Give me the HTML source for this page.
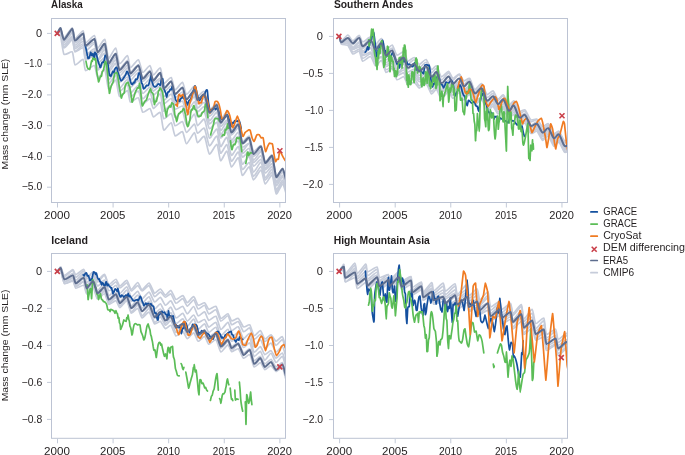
<!DOCTYPE html><html><head><meta charset="utf-8"><title>Glacier mass change</title><style>
html,body{margin:0;padding:0;background:#fff;}body{width:685px;height:455px;overflow:hidden;}
svg{display:block;font-family:"Liberation Sans",Arial,sans-serif;}
text{fill:#231f20}
.t{font-size:10.0px;font-weight:bold}
.xl{font-size:10.5px}
.yl{font-size:10.5px}
.lg{font-size:10.0px}
.ax{font-size:9.9px}
</style></head><body>
<svg width="685" height="455" viewBox="0 0 685 455">
<defs>
<clipPath id="cP1"><rect x="51.5" y="18.5" width="234" height="184"/></clipPath>
<clipPath id="cP2"><rect x="333.5" y="18.5" width="234" height="184"/></clipPath>
<clipPath id="cP3"><rect x="51.5" y="253.5" width="234" height="184.8"/></clipPath>
<clipPath id="cP4"><rect x="333.5" y="253.5" width="234" height="184.8"/></clipPath>
</defs>
<g clip-path="url(#cP1)" fill="none" stroke-linejoin="round" stroke-linecap="round">
<path d="M57.5 33.4C57.81 32.86 59.95 27.58 60.6 28.02C61.25 28.46 62.84 37.85 64 37.82C65.17 37.79 71.15 27.65 72.25 27.73C73.35 27.81 73.92 38.32 75 38.62C76.08 38.91 82.04 30.31 83.1 30.72C84.16 31.13 84.47 42.22 85.6 42.71C86.73 43.21 93.18 35.11 94.4 35.65C95.62 36.19 96.76 47.75 97.8 48.14C98.84 48.52 103.72 38.48 104.8 39.47C105.88 40.47 107.51 57.26 108.6 58.12C109.69 58.97 114.61 47.43 115.7 48C116.79 48.58 118.32 63.09 119.5 63.86C120.68 64.63 126.41 55.3 127.5 55.68C128.59 56.06 129.31 67.26 130.4 67.67C131.49 68.08 137.17 59.3 138.4 59.77C139.63 60.25 141.55 71.86 142.7 72.44C143.85 73.01 148.83 65.29 149.9 65.55C150.97 65.81 152.36 74.76 153.4 75.01C154.44 75.25 159.27 67.2 160.3 68.03C161.33 68.86 162.61 82.32 163.7 83.27C164.79 84.22 170.06 76.84 171.2 77.5C172.34 78.16 173.97 89.4 175.1 89.89C176.23 90.37 181.36 81.93 182.5 82.39C183.64 82.84 185.31 94.03 186.5 94.41C187.69 94.79 193.3 86.03 194.4 86.21C195.5 86.38 196.5 95.58 197.5 96.12C198.5 96.65 203.21 90.25 204.4 91.57C205.59 92.88 208.15 108.08 209.4 109.28C210.65 110.48 215.78 102.59 216.9 103.56C218.02 104.53 219.6 118.08 220.6 118.98C221.6 119.89 225.82 111.45 226.9 112.63C227.98 113.81 230.25 129.76 231.4 130.8C232.55 131.84 237.31 121.98 238.4 123.03C239.49 124.08 241.22 139.96 242.3 141.26C243.38 142.57 248.08 135.08 249.2 136.09C250.32 137.11 252.32 150.44 253.5 151.4C254.68 152.36 259.83 144.65 261 145.69C262.17 146.73 264.08 160.87 265.2 161.8C266.32 162.74 271.1 153.66 272.2 155.05C273.3 156.44 275.16 174.35 276.2 175.7C277.24 177.06 281.57 168.03 282.6 168.58C283.63 169.13 286.11 179.93 286.5 181.19" stroke="#c6ccda" stroke-width="1.7"/>
<path d="M57.5 33.4C57.81 32.94 59.95 28.15 60.6 28.83C61.25 29.51 62.84 40.06 64 40.21C65.17 40.36 71.15 30.17 72.25 30.33C73.35 30.49 73.92 41.42 75 41.83C76.08 42.25 82.04 34.15 83.1 34.52C84.16 34.89 84.47 44.97 85.6 45.49C86.73 46.01 93.18 39.09 94.4 39.72C95.62 40.34 96.76 51.32 97.8 51.77C98.84 52.22 103.72 43.24 104.8 44.24C105.88 45.25 107.51 60.87 108.6 61.81C109.69 62.75 114.61 52.94 115.7 53.65C116.79 54.35 118.32 68.24 119.5 68.91C120.68 69.57 126.41 59.97 127.5 60.3C128.59 60.63 129.31 71.76 130.4 72.21C131.49 72.66 137.17 64.24 138.4 64.79C139.63 65.34 141.55 77.15 142.7 77.71C143.85 78.28 148.83 70.27 149.9 70.45C150.97 70.64 152.36 79.31 153.4 79.58C154.44 79.85 159.27 72.27 160.3 73.13C161.33 73.99 162.61 87.32 163.7 88.17C164.79 89.02 170.06 81.04 171.2 81.65C172.34 82.26 173.97 93.71 175.1 94.25C176.23 94.8 181.36 86.56 182.5 87.08C183.64 87.6 185.31 99.09 186.5 99.48C187.69 99.86 193.3 90.84 194.4 90.91C195.5 90.98 196.5 99.76 197.5 100.18C198.5 100.59 203.21 93.72 204.4 95.06C205.59 96.39 208.15 112.41 209.4 113.54C210.65 114.68 215.78 105.41 216.9 106.42C218.02 107.43 219.6 122.68 220.6 123.65C221.6 124.62 225.82 115.25 226.9 116.12C227.98 116.99 230.25 131.4 231.4 132.36C232.55 133.33 237.31 124.64 238.4 125.77C239.49 126.9 241.22 142.33 242.3 143.69C243.38 145.06 248.08 138.32 249.2 139.43C250.32 140.54 252.32 154.06 253.5 154.81C254.68 155.57 259.83 146.14 261 146.97C262.17 147.8 264.08 162.06 265.2 163.14C266.32 164.22 271.1 156.31 272.2 157.78C273.3 159.25 275.16 176.7 276.2 177.87C277.24 179.04 281.57 169.02 282.6 169.5C283.63 169.98 286.11 181.37 286.5 182.68" stroke="#c6ccda" stroke-width="1.7"/>
<path d="M57.5 33.4C57.81 33.06 59.95 29.23 60.6 30.01C61.25 30.8 62.84 41.04 64 41.25C65.17 41.45 71.15 31.9 72.25 32.08C73.35 32.25 73.92 42.45 75 43C76.08 43.55 82.04 37.14 83.1 37.54C84.16 37.94 84.47 46.5 85.6 46.99C86.73 47.49 93.18 41.67 94.4 42.45C95.62 43.23 96.76 54.33 97.8 54.77C98.84 55.21 103.72 45.77 104.8 46.85C105.88 47.93 107.51 64.56 108.6 65.58C109.69 66.6 114.61 56.31 115.7 57.04C116.79 57.78 118.32 72.14 119.5 72.95C120.68 73.76 126.41 64.8 127.5 65.15C128.59 65.49 129.31 75.97 130.4 76.42C131.49 76.88 137.17 69.18 138.4 69.68C139.63 70.19 141.55 80.95 142.7 81.46C143.85 81.96 148.83 74.56 149.9 74.73C150.97 74.9 152.36 82.79 153.4 83.15C154.44 83.5 159.27 77.39 160.3 78.28C161.33 79.16 162.61 91.29 163.7 92.01C164.79 92.73 170.06 84.91 171.2 85.47C172.34 86.04 173.97 97.01 175.1 97.67C176.23 98.33 181.36 91.48 182.5 92.06C183.64 92.63 185.31 103.2 186.5 103.42C187.69 103.64 193.3 94.24 194.4 94.26C195.5 94.29 196.5 103.23 197.5 103.67C198.5 104.11 203.21 97.47 204.4 98.7C205.59 99.94 208.15 115 209.4 116.05C210.65 117.09 215.78 108.12 216.9 109.14C218.02 110.15 219.6 125.05 220.6 126.18C221.6 127.3 225.82 119.53 226.9 120.41C227.98 121.29 230.25 134.22 231.4 134.98C232.55 135.74 237.31 126.8 238.4 127.99C239.49 129.18 241.22 145.33 242.3 146.86C243.38 148.39 248.08 142.35 249.2 143.3C250.32 144.25 252.32 155.73 253.5 156.37C254.68 157 259.83 148.75 261 149.68C262.17 150.62 264.08 164.77 265.2 165.7C266.32 166.63 271.1 157.74 272.2 159C273.3 160.27 275.16 177.1 276.2 178.31C277.24 179.52 281.57 170.59 282.6 171.11C283.63 171.64 286.11 182.34 286.5 183.59" stroke="#c6ccda" stroke-width="1.7"/>
<path d="M57.5 33.4C57.81 32.99 59.95 28.37 60.6 29.28C61.25 30.19 62.84 42.16 64 42.52C65.17 42.88 71.15 32.62 72.25 32.9C73.35 33.17 73.92 44.69 75 45.27C76.08 45.85 82.04 38.17 83.1 38.71C84.16 39.25 84.47 50.12 85.6 50.67C86.73 51.21 93.18 43.32 94.4 44.18C95.62 45.03 96.76 58.66 97.8 59.2C98.84 59.73 103.72 48.52 104.8 49.54C105.88 50.56 107.51 68.39 108.6 69.42C109.69 70.44 114.61 59.07 115.7 59.75C116.79 60.43 118.32 75.4 119.5 76.2C120.68 77 126.41 67.35 127.5 67.77C128.59 68.19 129.31 79.99 130.4 80.44C131.49 80.9 137.17 71.8 138.4 72.3C139.63 72.8 141.55 84.75 142.7 85.43C143.85 86.1 148.83 78.78 149.9 79.05C150.97 79.32 152.36 88.06 153.4 88.15C154.44 88.25 159.27 79.17 160.3 80C161.33 80.83 162.61 95.53 163.7 96.43C164.79 97.32 170.06 88.28 171.2 88.95C172.34 89.61 173.97 102.47 175.1 103.07C176.23 103.67 181.36 94.49 182.5 94.97C183.64 95.45 185.31 107.72 186.5 107.87C187.69 108.02 193.3 96.44 194.4 96.46C195.5 96.49 196.5 107.49 197.5 108.1C198.5 108.72 203.21 101.4 204.4 102.65C205.59 103.89 208.15 119.63 209.4 120.59C210.65 121.56 215.78 111.28 216.9 112.27C218.02 113.26 219.6 129.45 220.6 130.49C221.6 131.52 225.82 121.64 226.9 122.62C227.98 123.6 230.25 139.29 231.4 140.27C232.55 141.24 237.31 131.35 238.4 132.38C239.49 133.4 241.22 149.34 242.3 150.47C243.38 151.61 248.08 142.75 249.2 143.71C250.32 144.68 252.32 159.34 253.5 160.13C254.68 160.92 259.83 150.81 261 151.62C262.17 152.42 264.08 167.34 265.2 168.23C266.32 169.11 271.1 159.07 272.2 160.43C273.3 161.78 275.16 180.59 276.2 181.73C277.24 182.87 281.57 171.32 282.6 171.81C283.63 172.31 286.11 185.17 286.5 186.65" stroke="#c6ccda" stroke-width="1.7"/>
<path d="M57.5 33.4C57.81 33.2 59.95 30.24 60.6 31.37C61.25 32.5 62.84 44.24 64 44.72C65.17 45.2 71.15 35.93 72.25 36.18C73.35 36.42 73.92 46.65 75 47.17C76.08 47.68 82.04 40.59 83.1 41.32C84.16 42.06 84.47 53.73 85.6 54.48C86.73 55.22 93.18 48.2 94.4 48.77C95.62 49.34 96.76 59.69 97.8 60.17C98.84 60.65 103.72 52.41 104.8 53.58C105.88 54.76 107.51 70.91 108.6 71.89C109.69 72.88 114.61 62.7 115.7 63.47C116.79 64.23 118.32 78.63 119.5 79.52C120.68 80.41 126.41 71.9 127.5 72.36C128.59 72.83 129.31 83.62 130.4 84.13C131.49 84.63 137.17 77.07 138.4 77.44C139.63 77.82 141.55 87.28 142.7 87.86C143.85 88.44 148.83 82.91 149.9 83.23C150.97 83.55 152.36 90.78 153.4 91.06C154.44 91.34 159.27 85.11 160.3 86.01C161.33 86.92 162.61 99.28 163.7 100.09C164.79 100.9 170.06 93.64 171.2 94.14C172.34 94.63 173.97 104.32 175.1 105.02C176.23 105.72 181.36 100.41 182.5 101.11C183.64 101.8 185.31 111.88 186.5 111.95C187.69 112.02 193.3 101.78 194.4 101.76C195.5 101.75 196.5 111.32 197.5 111.82C198.5 112.32 203.21 105.59 204.4 106.78C205.59 107.98 208.15 122.73 209.4 123.74C210.65 124.75 215.78 115.8 216.9 116.86C218.02 117.93 219.6 133.4 220.6 134.39C221.6 135.37 225.82 125.85 226.9 126.7C227.98 127.54 230.25 141.87 231.4 142.87C232.55 143.86 237.31 135.62 238.4 136.65C239.49 137.68 241.22 151.98 242.3 153.15C243.38 154.32 248.08 147.39 249.2 148.33C250.32 149.26 252.32 161.8 253.5 162.53C254.68 163.26 259.83 154.92 261 155.65C262.17 156.37 264.08 168.93 265.2 169.76C266.32 170.59 271.1 162.63 272.2 163.95C273.3 165.26 275.16 181.74 276.2 182.88C277.24 184.02 281.57 174.92 282.6 175.36C283.63 175.81 286.11 186.11 286.5 187.31" stroke="#c6ccda" stroke-width="1.7"/>
<path d="M57.5 33.4C57.81 33.22 59.95 30.44 60.6 31.57C61.25 32.71 62.84 44.14 64 44.74C65.17 45.34 71.15 37.21 72.25 37.6C73.35 37.99 73.92 48.02 75 48.63C76.08 49.25 82.04 43.04 83.1 43.73C84.16 44.43 84.47 54.88 85.6 55.59C86.73 56.3 93.18 50.09 94.4 50.85C95.62 51.61 96.76 62.49 97.8 63.18C98.84 63.88 103.72 56.6 104.8 57.8C105.88 59.01 107.51 74.21 108.6 75.24C109.69 76.27 114.61 67.44 115.7 68.13C116.79 68.82 118.32 81.24 119.5 82.13C120.68 83.02 126.41 76.48 127.5 77.01C128.59 77.54 129.31 87.09 130.4 87.44C131.49 87.78 137.17 79.9 138.4 80.49C139.63 81.08 141.55 92.72 142.7 93.37C143.85 94.03 148.83 86.85 149.9 87.02C150.97 87.2 152.36 94.86 153.4 95.13C154.44 95.41 159.27 88.92 160.3 89.78C161.33 90.63 162.61 102.79 163.7 103.66C164.79 104.54 170.06 97.96 171.2 98.5C172.34 99.04 173.97 108.29 175.1 109.05C176.23 109.81 181.36 105.49 182.5 106.12C183.64 106.76 185.31 115.33 186.5 115.39C187.69 115.46 193.3 106.61 194.4 106.75C195.5 106.89 196.5 116.26 197.5 116.8C198.5 117.35 203.21 111.03 204.4 112.21C205.59 113.39 208.15 127.62 209.4 128.63C210.65 129.65 215.78 121.45 216.9 122.37C218.02 123.29 219.6 136.86 220.6 137.83C221.6 138.79 225.82 131.15 226.9 132.04C227.98 132.93 230.25 145.8 231.4 146.71C232.55 147.62 237.31 140.12 238.4 141.14C239.49 142.17 241.22 155.89 242.3 156.97C243.38 158.05 248.08 151 249.2 151.91C250.32 152.83 252.32 165.35 253.5 166.09C254.68 166.84 259.83 158.68 261 159.37C262.17 160.06 264.08 172.25 265.2 172.99C266.32 173.72 271.1 165.46 272.2 166.71C273.3 167.96 275.16 184.42 276.2 185.45C277.24 186.49 281.57 176.74 282.6 177.05C283.63 177.35 286.11 187.36 286.5 188.5" stroke="#c6ccda" stroke-width="1.7"/>
<path d="M57.5 33.4C57.81 33.19 59.95 29.98 60.6 31.32C61.25 32.67 62.84 46.11 64 46.88C65.17 47.65 71.15 38.61 72.25 39.04C73.35 39.48 73.92 50.61 75 51.26C76.08 51.91 82.04 44.78 83.1 45.53C84.16 46.29 84.47 58.15 85.6 58.81C86.73 59.48 93.18 51.14 94.4 52.17C95.62 53.2 96.76 68.38 97.8 69.09C98.84 69.8 103.72 58.23 104.8 59.28C105.88 60.32 107.51 78.33 108.6 79.54C109.69 80.75 114.61 70.53 115.7 71.4C116.79 72.28 118.32 87.49 119.5 88.28C120.68 89.08 126.41 78.9 127.5 79.37C128.59 79.84 129.31 92.38 130.4 92.99C131.49 93.6 137.17 84.88 138.4 85.46C139.63 86.04 141.55 98.14 142.7 98.78C143.85 99.42 148.83 91.53 149.9 91.88C150.97 92.22 152.36 101.98 153.4 102.18C154.44 102.39 159.27 93.06 160.3 93.94C161.33 94.83 162.61 110.02 163.7 111.05C164.79 112.08 170.06 103.62 171.2 104.25C172.34 104.89 173.97 116.68 175.1 117.4C176.23 118.12 181.36 110.69 182.5 111.41C183.64 112.14 185.31 124.37 186.5 124.64C187.69 124.91 193.3 114.03 194.4 114.13C195.5 114.22 196.5 125.07 197.5 125.58C198.5 126.1 203.21 118.06 204.4 119.31C205.59 120.56 208.15 137.09 209.4 138.06C210.65 139.04 215.78 128.2 216.9 129.04C218.02 129.88 219.6 145.64 220.6 146.47C221.6 147.3 225.82 136.46 226.9 137.33C227.98 138.21 230.25 154.29 231.4 155.22C232.55 156.15 237.31 145.77 238.4 146.66C239.49 147.55 241.22 163.14 242.3 164.12C243.38 165.11 248.08 155.7 249.2 156.49C250.32 157.29 252.32 171.51 253.5 172.08C254.68 172.64 259.83 161.58 261 162.15C262.17 162.71 264.08 177.04 265.2 177.75C266.32 178.46 271.1 168.08 272.2 169.25C273.3 170.41 275.16 188.32 276.2 189.41C277.24 190.51 281.57 179.91 282.6 180.2C283.63 180.49 286.11 191.08 286.5 192.29" stroke="#c6ccda" stroke-width="1.7"/>
<path d="M57.5 33.4C57.81 33.28 59.95 30.7 60.6 32.16C61.25 33.62 62.84 47.21 64 47.99C65.17 48.76 71.15 39.53 72.25 39.91C73.35 40.3 73.92 51.04 75 51.84C76.08 52.64 82.04 47.09 83.1 47.91C84.16 48.74 84.47 59.26 85.6 60.07C86.73 60.87 93.18 54.99 94.4 55.99C95.62 56.98 96.76 69.31 97.8 70.01C98.84 70.7 103.72 61.58 104.8 62.91C105.88 64.24 107.51 82.06 108.6 83.31C109.69 84.57 114.61 74.63 115.7 75.42C116.79 76.22 118.32 90.32 119.5 91.27C120.68 92.23 126.41 84.43 127.5 85C128.59 85.56 129.31 96.29 130.4 96.91C131.49 97.52 137.17 90.47 138.4 91.17C139.63 91.88 141.55 103.22 142.7 103.97C143.85 104.73 148.83 98.24 149.9 98.69C150.97 99.14 152.36 108.08 153.4 108.46C154.44 108.84 159.27 101.46 160.3 102.48C161.33 103.49 162.61 117.53 163.7 118.64C164.79 119.75 170.06 112.86 171.2 113.57C172.34 114.28 173.97 124.93 175.1 125.74C176.23 126.55 181.36 120.97 182.5 121.65C183.64 122.32 185.31 132.2 186.5 132.45C187.69 132.69 193.3 124.01 194.4 124.09C195.5 124.17 196.5 132.82 197.5 133.25C198.5 133.68 203.21 127.13 204.4 128.38C205.59 129.64 208.15 145.03 209.4 145.8C210.65 146.57 215.78 135.33 216.9 136.06C218.02 136.8 219.6 152.27 220.6 153.14C221.6 154.01 225.82 143.97 226.9 144.78C227.98 145.58 230.25 160.45 231.4 161.18C232.55 161.91 237.31 151.25 238.4 152.07C239.49 152.89 241.22 168.31 242.3 169.35C243.38 170.39 248.08 161.8 249.2 162.49C250.32 163.19 252.32 175.91 253.5 176.32C254.68 176.73 259.83 166.21 261 166.59C262.17 166.97 264.08 179.53 265.2 180.1C266.32 180.68 271.1 171.18 272.2 172.33C273.3 173.49 275.16 190.67 276.2 191.66C277.24 192.64 281.57 182.06 282.6 182.17C283.63 182.28 286.11 191.7 286.5 192.76" stroke="#c6ccda" stroke-width="1.7"/>
<path d="M57.5 33.4C57.81 33.65 59.95 33.85 60.6 35.94C61.25 38.03 62.84 52.68 64 54.28C65.17 55.88 71.15 50.91 72.25 51.97C73.35 53.02 73.92 64.1 75 64.84C76.08 65.59 82.04 58.82 83.1 59.4C84.16 59.97 84.47 70 85.6 70.61C86.73 71.21 93.18 64.67 94.4 65.47C95.62 66.26 96.76 78.11 97.8 78.54C98.84 78.97 103.72 68.77 104.8 69.8C105.88 70.83 107.51 87.77 108.6 88.8C109.69 89.82 114.61 79.27 115.7 80.04C116.79 80.81 118.32 95.4 119.5 96.47C120.68 97.53 126.41 90.13 127.5 90.69C128.59 91.24 129.31 101.34 130.4 102.05C131.49 102.77 137.17 96.85 138.4 97.86C139.63 98.87 141.55 111.09 142.7 112.16C143.85 113.22 148.83 108.06 149.9 108.53C150.97 109.01 152.36 116.5 153.4 116.91C154.44 117.31 159.27 111.3 160.3 112.61C161.33 113.91 162.61 128.93 163.7 129.96C164.79 130.98 170.06 122.27 171.2 122.85C172.34 123.43 173.97 134.89 175.1 135.77C176.23 136.66 181.36 130.9 182.5 131.7C183.64 132.5 185.31 143.67 186.5 143.76C187.69 143.84 193.3 132.69 194.4 132.58C195.5 132.47 196.5 142.28 197.5 142.67C198.5 143.06 203.21 135.34 204.4 136.48C205.59 137.61 208.15 153.21 209.4 154C210.65 154.79 215.78 143.7 216.9 144.37C218.02 145.04 219.6 160.02 220.6 160.7C221.6 161.37 225.82 150.48 226.9 151.11C227.98 151.74 230.25 166.3 231.4 166.97C232.55 167.64 237.31 156.98 238.4 157.81C239.49 158.65 241.22 174.41 242.3 175.32C243.38 176.23 248.08 166.45 249.2 166.9C250.32 167.35 252.32 179.5 253.5 179.82C254.68 180.13 259.83 169.64 261 170.06C262.17 170.48 264.08 183.55 265.2 184.04C266.32 184.54 271.1 174.04 272.2 175.02C273.3 175.99 275.16 192.9 276.2 193.81C277.24 194.72 281.57 184.02 282.6 184.14C283.63 184.25 286.11 193.89 286.5 194.97" stroke="#c6ccda" stroke-width="1.7"/>
<path d="M85 44.5C85.14 45.07 86.12 48.87 86.4 50.22C86.68 51.57 87.61 57.26 87.8 58C87.99 58.74 88.2 57.57 88.3 57.61C88.4 57.65 88.66 58.55 88.8 58.4C88.94 58.25 89.56 56.74 89.75 56.13C89.94 55.52 90.53 52.42 90.7 52.3C90.87 52.18 91.26 54.59 91.4 54.92C91.54 55.25 91.98 55.67 92.1 55.6C92.21 55.53 92.46 54.44 92.55 54.25C92.64 54.06 92.91 53.52 93 53.7C93.09 53.88 93.4 55.7 93.5 56.08C93.6 56.46 93.91 57.4 94 57.5C94.09 57.6 94.36 57.64 94.45 57.12C94.54 56.6 94.79 52.57 94.9 52.3C95.02 52.03 95.46 54.24 95.6 54.38C95.74 54.52 96.08 53.13 96.3 53.7C96.52 54.27 97.46 58.98 97.75 60.07C98.04 61.16 98.98 63.92 99.2 64.6C99.42 65.28 99.76 66.61 99.9 66.89C100.04 67.17 100.44 67.72 100.6 67.4C100.76 67.08 101.36 64.2 101.55 63.68C101.74 63.16 102.31 62.34 102.5 62.2C102.69 62.06 103.26 62.49 103.45 62.25C103.64 62.01 104.24 60.47 104.4 59.8C104.56 59.13 104.96 55.98 105.1 55.56C105.24 55.14 105.66 55.47 105.8 55.6C105.94 55.73 106.36 56.49 106.5 56.82C106.64 57.15 107.02 57.92 107.2 58.9C107.38 59.88 108.08 64.93 108.3 66.58C108.52 68.23 109.22 74.56 109.4 75.4C109.59 76.24 110 74.92 110.15 75.01C110.3 75.1 110.73 76.43 110.9 76.3C111.08 76.17 111.7 74.2 111.9 73.71C112.1 73.22 112.71 71.52 112.9 71.4C113.09 71.28 113.66 72.74 113.85 72.54C114.04 72.34 114.63 69.86 114.8 69.4C114.97 68.94 115.4 68.16 115.55 67.96C115.7 67.76 116.15 67.39 116.3 67.4C116.45 67.41 116.9 67.63 117.05 68.08C117.2 68.53 117.6 71.16 117.8 71.9C118 72.64 118.8 74.74 119.05 75.48C119.3 76.22 120.1 78.76 120.3 79.3C120.5 79.84 120.9 80.81 121.05 80.91C121.2 81.01 121.63 80.46 121.8 80.3C121.97 80.14 122.56 79.55 122.75 79.3C122.94 79.05 123.5 78.1 123.7 77.8C123.9 77.5 124.5 76.64 124.7 76.35C124.9 76.06 125.5 75.38 125.7 74.9C125.9 74.42 126.5 71.87 126.7 71.57C126.9 71.27 127.53 71.61 127.7 71.9C127.88 72.19 128.3 74.11 128.45 74.5C128.6 74.89 129.02 75.23 129.2 75.8C129.38 76.37 130 79.43 130.2 80.18C130.4 80.93 130.98 82.86 131.2 83.3C131.42 83.74 132.16 84.64 132.4 84.54C132.64 84.44 133.38 82.48 133.6 82.3C133.82 82.12 134.4 83.04 134.6 82.74C134.8 82.44 135.4 79.6 135.6 79.3C135.8 79 136.4 79.8 136.6 79.7C136.8 79.6 137.4 78.92 137.6 78.3C137.8 77.68 138.4 74 138.6 73.46C138.8 72.92 139.41 72.65 139.6 72.9C139.79 73.15 140.36 74.99 140.55 75.98C140.74 76.97 141.31 81.97 141.5 82.8C141.69 83.63 142.3 83.73 142.5 84.32C142.7 84.91 143.3 88.3 143.5 88.7C143.7 89.1 144.3 88.48 144.5 88.33C144.7 88.18 145.3 87.49 145.5 87.2C145.7 86.91 146.3 85.58 146.5 85.43C146.7 85.28 147.3 85.7 147.5 85.7C147.7 85.7 148.3 85.84 148.5 85.45C148.7 85.06 149.33 82.43 149.5 81.8C149.67 81.17 150.06 79.72 150.2 79.12C150.34 78.52 150.75 75.73 150.9 75.8C151.05 75.87 151.5 79.07 151.65 79.77C151.8 80.47 152.22 82.2 152.4 82.8C152.58 83.4 153.2 85.34 153.4 85.73C153.6 86.12 154.18 86.61 154.4 86.7C154.62 86.79 155.4 86.74 155.65 86.64C155.9 86.54 156.66 85.97 156.9 85.7C157.15 85.43 157.86 84.05 158.1 83.91C158.34 83.77 159.08 84.17 159.3 84.3C159.52 84.43 160.1 85.69 160.3 85.24C160.5 84.79 161.13 80.2 161.3 79.8C161.47 79.4 161.86 81.3 162 81.2C162.14 81.1 162.53 78.25 162.7 78.8C162.87 79.35 163.5 85.54 163.7 86.73C163.9 87.92 164.5 90.08 164.7 90.7C164.9 91.32 165.5 92.29 165.7 92.93C165.9 93.57 166.47 97.19 166.7 97.1C166.92 97.01 167.7 92.54 167.95 92C168.2 91.46 168.97 91.97 169.2 91.7C169.42 91.43 170 89.51 170.2 89.31C170.4 89.11 171.02 89.93 171.2 89.7C171.38 89.47 171.84 87.25 172 86.98C172.16 86.71 172.62 86.44 172.8 87C172.98 87.56 173.6 91.71 173.8 92.6C174 93.49 174.62 95.21 174.8 95.9C174.98 96.59 175.4 99.03 175.55 99.52C175.7 100.01 176.11 100.56 176.3 100.8C176.5 101.04 177.26 102.1 177.5 101.95C177.74 101.8 178.48 99.36 178.7 99.3C178.92 99.24 179.5 101.43 179.7 101.38C179.9 101.33 180.52 99.11 180.7 98.8C180.88 98.49 181.3 98.52 181.45 98.28C181.6 98.04 182.05 96.44 182.2 96.4C182.35 96.36 182.8 97.66 182.95 97.86C183.1 98.06 183.52 98.27 183.7 98.4C183.88 98.53 184.5 98.89 184.7 99.13C184.9 99.37 185.5 100.48 185.7 100.8C185.89 101.12 186.46 101.96 186.65 102.36C186.84 102.76 187.38 104.96 187.6 104.8C187.82 104.64 188.6 101.29 188.85 100.79C189.1 100.29 189.88 100.08 190.1 99.8C190.32 99.52 190.9 98.5 191.1 98.01C191.3 97.52 191.9 95.52 192.1 94.9C192.3 94.28 192.9 92.55 193.1 91.86C193.3 91.17 193.95 88.54 194.1 88C194.25 87.46 194.5 86.67 194.6 86.47C194.7 86.27 194.98 85.91 195.1 86C195.22 86.09 195.66 86.91 195.8 87.4C195.94 87.89 196.33 90.1 196.5 90.9C196.67 91.7 197.3 94.65 197.5 95.44C197.7 96.23 198.3 98.29 198.5 98.8C198.7 99.31 199.3 100.5 199.5 100.5C199.7 100.5 200.3 99.05 200.5 98.8C200.7 98.55 201.3 98.15 201.5 97.96C201.7 97.77 202.3 97.07 202.5 96.9C202.7 96.73 203.3 96.47 203.5 96.27C203.7 96.07 204.31 95.36 204.5 94.9C204.69 94.44 205.26 92.19 205.45 91.69C205.64 91.19 206.26 90.08 206.4 89.9C206.54 89.72 206.76 89.82 206.85 89.88C206.94 89.94 207.2 89.91 207.3 90.5C207.4 91.09 207.74 94.61 207.85 95.74C207.96 96.87 208.27 100.74 208.4 101.8C208.53 102.86 209 105.39 209.15 106.38C209.3 107.37 209.72 111.35 209.9 111.7C210.08 112.05 210.7 110.12 210.9 109.92C211.1 109.72 211.68 109.77 211.9 109.7C212.12 109.63 212.86 109.42 213.1 109.22C213.34 109.02 214.05 107.67 214.3 107.7C214.56 107.73 215.38 109.51 215.65 109.54C215.92 109.57 216.72 107.86 217 108C217.28 108.14 218.2 110.07 218.5 110.89C218.8 111.72 219.66 115.41 220 116.25C220.34 117.09 221.5 119.07 221.88 119.32C222.25 119.57 223.38 119.05 223.75 118.75C224.12 118.45 225.25 116.73 225.62 116.35C226 115.98 227.12 114.62 227.5 115C227.88 115.38 229 119.02 229.38 120.15C229.75 121.27 230.95 126 231.25 126.25C231.55 126.5 232.15 122.94 232.38 122.61C232.6 122.28 233.27 123.2 233.5 123C233.73 122.8 234.46 120.81 234.7 120.61C234.94 120.41 235.64 120.92 235.9 121C236.16 121.08 237.04 121.56 237.32 121.46C237.61 121.36 238.48 119.85 238.75 120C239.02 120.15 239.75 122.08 240 122.96C240.25 123.83 241.12 128.17 241.25 128.75" stroke="#14509f" stroke-width="1.7"/>
<path d="M86 61.3C86.09 61.78 86.72 65.35 86.9 66.06C87.08 66.77 87.61 68.11 87.8 68.4C87.98 68.69 88.56 68.84 88.75 68.93C88.94 69.02 89.51 69.65 89.7 69.3C89.89 68.95 90.46 66.28 90.65 65.43C90.84 64.58 91.44 61.2 91.6 60.8C91.76 60.4 92.16 61.68 92.3 61.4C92.44 61.12 92.86 58.26 93 58C93.14 57.74 93.6 58.61 93.75 58.79C93.9 58.97 94.38 59.82 94.5 59.8C94.62 59.78 94.86 58.63 94.95 58.55C95.04 58.47 95.31 58.8 95.4 59C95.49 59.2 95.76 59.75 95.85 60.59C95.94 61.43 96.18 66.1 96.3 67.4C96.42 68.7 96.9 72.66 97.05 73.61C97.2 74.56 97.66 76.09 97.8 76.9C97.94 77.71 98.36 81.38 98.5 81.75C98.64 82.12 99.09 80.87 99.2 80.6C99.31 80.33 99.52 79.34 99.6 79.06C99.68 78.78 99.89 78.11 100 77.8C100.11 77.49 100.6 76.15 100.75 76C100.9 75.85 101.35 76.75 101.5 76.3C101.65 75.85 102.1 72.05 102.25 71.51C102.4 70.97 102.85 71.17 103 70.9C103.15 70.63 103.6 69.36 103.75 68.77C103.9 68.18 104.36 65.72 104.5 65C104.64 64.28 105.06 61.85 105.2 61.55C105.34 61.25 105.76 61.65 105.9 62C106.05 62.35 106.5 64.09 106.65 65.08C106.8 66.07 107.23 70.13 107.4 71.9C107.58 73.67 108.2 80.62 108.4 82.75C108.6 84.88 109.23 92.44 109.4 93.2C109.58 93.96 110 90.95 110.15 90.35C110.3 89.75 110.75 87.75 110.9 87.2C111.05 86.65 111.5 85.25 111.65 84.86C111.8 84.47 112.26 83.57 112.4 83.3C112.55 83.03 112.96 82.7 113.1 82.15C113.24 81.6 113.63 78.67 113.8 77.8C113.97 76.93 114.6 73.97 114.8 73.48C115 72.99 115.62 73 115.8 72.9C115.97 72.8 116.4 72.35 116.55 72.45C116.7 72.55 117.12 73.18 117.3 73.9C117.47 74.62 118.1 78.39 118.3 79.67C118.5 80.95 119.1 85.42 119.3 86.7C119.5 87.98 120.1 91.36 120.3 92.5C120.5 93.64 121.1 97.81 121.3 98.1C121.5 98.39 122.06 95.83 122.25 95.39C122.44 94.95 123 93.97 123.2 93.7C123.4 93.43 124 93.49 124.2 92.69C124.4 91.89 124.95 86.66 125.2 85.7C125.45 84.74 126.4 83.43 126.7 83.09C127 82.75 127.97 82.06 128.2 82.3C128.42 82.54 128.8 85.01 128.95 85.45C129.1 85.89 129.5 85.89 129.7 86.7C129.89 87.51 130.66 91.98 130.9 93.52C131.14 95.06 131.85 101.57 132.1 102.1C132.34 102.63 133.1 99.58 133.35 98.83C133.6 98.08 134.38 95.33 134.6 94.6C134.82 93.87 135.4 91.98 135.6 91.49C135.8 91 136.42 90.04 136.6 89.7C136.78 89.36 137.2 88.31 137.35 88.11C137.5 87.91 137.95 87.72 138.1 87.7C138.25 87.68 138.7 88.38 138.85 87.94C139 87.5 139.45 83.25 139.6 83.3C139.75 83.35 140.16 87.31 140.3 88.44C140.44 89.57 140.85 93.16 141 94.6C141.15 96.04 141.6 101.74 141.75 102.88C141.9 104.02 142.22 106.12 142.5 106C142.78 105.88 144.1 102.33 144.5 101.69C144.9 101.05 146.1 100.42 146.5 99.6C146.9 98.78 148.06 94.54 148.45 93.45C148.84 92.36 150.11 88.81 150.4 88.7C150.69 88.59 151.2 91.96 151.4 92.36C151.6 92.76 152.2 92.45 152.4 92.7C152.6 92.95 153.2 93.7 153.4 94.88C153.6 96.06 154.2 103.87 154.4 104.5C154.6 105.13 155.2 101.44 155.4 101.15C155.6 100.86 156.27 101.69 156.4 101.6C156.53 101.51 156.64 100.51 156.7 100.23C156.76 99.95 156.9 99.27 157 98.8C157.1 98.33 157.6 96.36 157.75 95.57C157.9 94.78 158.35 91.43 158.5 90.9C158.65 90.37 159.06 90.6 159.2 90.31C159.34 90.02 159.75 88.18 159.9 88C160.05 87.82 160.5 88.27 160.65 88.46C160.8 88.65 161.22 89.57 161.4 89.9C161.58 90.23 162.2 90.93 162.4 91.73C162.6 92.53 163.22 96.62 163.4 97.9C163.58 99.18 164 103.47 164.15 104.55C164.3 105.63 164.75 107.82 164.9 108.7C165.05 109.58 165.5 112.57 165.65 113.37C165.8 114.17 166.25 116.94 166.4 116.7C166.55 116.46 167 111.79 167.15 110.99C167.3 110.19 167.73 109.06 167.9 108.7C168.07 108.34 168.66 107.67 168.85 107.38C169.04 107.09 169.61 105.83 169.8 105.8C170 105.77 170.6 107.33 170.8 107.03C171 106.73 171.62 103.15 171.8 102.8C171.98 102.45 172.4 103.39 172.55 103.49C172.7 103.59 173.15 103.4 173.3 103.8C173.45 104.2 173.9 106.36 174.05 107.45C174.2 108.54 174.62 113.69 174.8 114.7C174.98 115.71 175.6 116.81 175.8 117.5C176 118.19 176.61 121.64 176.8 121.6C177 121.56 177.56 117.88 177.75 117.09C177.94 116.3 178.5 114.09 178.7 113.7C178.89 113.31 179.5 113.42 179.7 113.22C179.9 113.02 180.47 111.86 180.7 111.7C180.92 111.54 181.7 111.87 181.95 111.57C182.2 111.27 183 108.98 183.2 108.7C183.4 108.42 183.8 108.47 183.95 108.77C184.1 109.07 184.55 111.11 184.7 111.7C184.85 112.29 185.3 113.87 185.45 114.66C185.6 115.45 186.05 118.61 186.2 119.6C186.34 120.59 186.76 123.91 186.9 124.6C187.04 125.29 187.45 126.39 187.6 126.5C187.75 126.61 188.2 126.06 188.35 125.67C188.5 125.28 188.95 123.15 189.1 122.6C189.25 122.05 189.7 121.1 189.85 120.21C190 119.32 190.42 114.77 190.6 113.7C190.78 112.63 191.4 109.87 191.6 109.47C191.8 109.07 192.42 110.02 192.6 109.7C192.78 109.38 193.2 106.68 193.35 106.29C193.5 105.9 193.95 105.5 194.1 105.8C194.25 106.1 194.7 108.89 194.85 109.28C195 109.67 195.43 109.55 195.6 109.7C195.77 109.85 196.36 110.25 196.55 110.75C196.74 111.25 197.33 114.16 197.5 114.7C197.67 115.24 198.1 115.99 198.25 116.19C198.4 116.39 198.82 116.71 199 116.7C199.18 116.69 199.8 116.21 200 116.11C200.2 116.01 200.78 116.06 201 115.7C201.22 115.34 202 112.96 202.25 112.56C202.5 112.16 203.28 111.91 203.5 111.7C203.72 111.49 204.26 111.17 204.45 110.48C204.64 109.79 205.25 105.42 205.4 104.8C205.55 104.18 205.8 104.37 205.9 104.27C206 104.17 206.28 103.24 206.4 103.8C206.53 104.36 207 108.54 207.15 109.92C207.3 111.3 207.83 116.83 207.9 117.6" stroke="#5bbd57" stroke-width="1.7"/>
<path d="M210.6 135C210.69 134.65 211.32 132.15 211.5 131.5C211.68 130.85 212.21 129.19 212.4 128.5C212.59 127.81 213.2 125.47 213.4 124.62C213.6 123.77 214.18 120.63 214.4 120C214.62 119.37 215.4 118.42 215.65 118.3C215.9 118.17 216.65 118.71 216.9 118.75C217.15 118.79 217.9 118.43 218.15 118.68C218.4 118.93 219.28 120.99 219.4 121.25" stroke="#5bbd57" stroke-width="1.7"/>
<path d="M222 136C222.12 135.85 222.96 134.65 223.2 134.55C223.44 134.45 224.19 135.5 224.4 135C224.61 134.5 225.14 130.05 225.32 129.55C225.51 129.05 226.09 130.12 226.25 130C226.41 129.88 226.75 128.99 226.88 128.36C227 127.74 227.36 123.78 227.5 123.75C227.64 123.72 228.1 127.63 228.25 128.06C228.4 128.48 228.93 128.01 229 128" stroke="#5bbd57" stroke-width="1.7"/>
<path d="M230.5 140.8C230.57 141.43 231.1 146.17 231.25 147.06C231.4 147.95 231.78 149.96 232 149.7C232.22 149.44 233.16 144.99 233.45 144.49C233.74 143.99 234.66 144.96 234.9 144.7C235.15 144.44 235.7 142.54 235.9 141.85C236.1 141.16 236.66 138.13 236.9 137.8C237.15 137.47 238.06 138.63 238.35 138.58C238.64 138.53 239.56 136.8 239.8 137.3C240.05 137.8 240.6 142.18 240.8 143.62C241 145.06 241.7 150.89 241.8 151.7" stroke="#5bbd57" stroke-width="1.7"/>
<path d="M245.8 163.5C245.88 163.08 246.4 160.38 246.55 159.29C246.7 158.2 247.16 153.29 247.3 152.6C247.45 151.91 247.86 152.09 248 152.39C248.14 152.69 248.45 155.57 248.7 155.6C248.94 155.63 250.1 152.95 250.45 152.7C250.8 152.45 252.02 153.06 252.2 153.1" stroke="#5bbd57" stroke-width="1.7"/>
<path d="M175.8 104.8C175.88 104.75 176.4 104.11 176.55 104.26C176.7 104.41 177.18 106.65 177.3 106.3C177.42 105.95 177.66 101.61 177.75 100.77C177.84 99.93 178.08 98.52 178.2 97.9C178.32 97.28 178.8 94.85 178.95 94.55C179.1 94.25 179.5 94.69 179.7 94.9C179.9 95.11 180.7 96.65 180.95 96.65C181.2 96.65 181.97 95.12 182.2 94.9C182.42 94.68 183 94.13 183.2 94.43C183.4 94.73 184.02 97.29 184.2 97.9C184.38 98.51 184.8 99.8 184.95 100.49C185.1 101.18 185.55 104.14 185.7 104.8C185.84 105.46 186.26 106.39 186.4 107.08C186.54 107.77 186.95 110.95 187.1 111.7C187.25 112.45 187.7 114.78 187.85 114.58C188 114.38 188.42 110.8 188.6 109.7C188.78 108.6 189.4 104.49 189.6 103.6C189.8 102.71 190.38 101.44 190.6 100.8C190.82 100.16 191.6 98.09 191.85 97.2C192.1 96.31 192.9 92.34 193.1 91.9C193.3 91.46 193.7 93.25 193.85 92.76C194 92.27 194.45 87.63 194.6 87C194.75 86.37 195.16 86.26 195.3 86.46C195.44 86.66 195.85 88.36 196 89C196.15 89.64 196.6 91.79 196.75 92.87C196.9 93.95 197.35 98.97 197.5 99.8C197.65 100.63 198.1 100.79 198.25 101.19C198.4 101.59 198.85 103.69 199 103.8C199.15 103.91 199.6 102.36 199.75 102.26C199.9 102.16 200.32 102.77 200.5 102.8C200.68 102.83 201.3 103.07 201.5 102.58C201.7 102.09 202.32 98.63 202.5 97.9C202.68 97.17 203.1 95.63 203.25 95.28C203.4 94.93 203.85 94.22 204 94.4C204.15 94.58 204.56 96.91 204.7 97.06C204.84 97.21 205.23 95.67 205.4 95.9C205.57 96.13 206.2 98.82 206.4 99.31C206.6 99.8 207.2 100.15 207.4 100.8C207.6 101.45 208.2 104.79 208.4 105.78C208.6 106.77 209.25 109.98 209.4 110.7C209.55 111.42 209.8 112.84 209.9 112.94C210 113.04 210.25 112.03 210.4 111.7C210.55 111.37 211.2 109.94 211.4 109.64C211.6 109.34 212.17 108.94 212.4 108.7C212.63 108.46 213.44 107.89 213.7 107.21C213.96 106.53 214.68 102.48 215 101.9C215.32 101.32 216.5 101.17 216.88 101.36C217.25 101.55 218.41 102.9 218.75 103.75C219.09 104.6 220.01 108.39 220.32 109.89C220.64 111.39 221.49 118.05 221.9 118.75C222.31 119.45 223.9 117.68 224.4 116.86C224.9 116.05 226.37 110.76 226.9 110.6C227.43 110.44 229.14 113.55 229.7 115.24C230.26 116.93 231.97 126.75 232.5 127.5C233.03 128.25 234.5 123.86 235 122.73C235.5 121.61 236.99 115.97 237.5 116.25C238.01 116.53 239.62 123.52 240.15 125.52C240.68 127.53 242.31 135.59 242.8 136.3C243.29 137.01 244.6 133.15 245.05 132.61C245.5 132.07 246.93 131.17 247.3 130.9C247.67 130.63 248.46 129.91 248.75 129.86C249.04 129.81 249.85 129.57 250.2 130.4C250.54 131.23 251.8 137.08 252.2 138.17C252.6 139.26 253.75 141.59 254.2 141.3C254.64 141.01 256.16 135.93 256.65 135.28C257.14 134.63 258.66 134.55 259.1 134.8C259.55 135.05 260.7 137.5 261.1 137.8C261.5 138.1 262.78 137.02 263.1 137.8C263.43 138.58 264.1 144.22 264.35 145.61C264.6 147 265.28 151.59 265.6 151.7C265.92 151.81 267.16 147.53 267.55 146.68C267.94 145.83 269.15 143.51 269.5 143.2C269.85 142.89 270.7 143.44 271 143.54C271.3 143.64 272.2 143.14 272.5 144.2C272.8 145.26 273.7 152.39 274 154.12C274.3 155.85 275.2 160.99 275.5 161.5C275.8 162.01 276.66 159.46 276.95 159.22C277.24 158.98 278.15 159.76 278.4 159.1C278.64 158.44 279.2 153.4 279.4 152.66C279.6 151.92 280.05 151.3 280.4 151.7C280.75 152.1 282.36 155.77 282.85 156.66C283.34 157.55 284.97 160.24 285.3 160.6C285.63 160.96 285.98 160.04 286.15 160.28C286.32 160.52 286.92 162.73 287 163" stroke="#f07b22" stroke-width="1.7"/>
<path d="M57.5 33.4C57.81 32.87 59.95 27.46 60.6 28.1C61.25 28.74 62.84 39.69 64 39.75C65.17 39.81 71.15 28.66 72.25 28.75C73.35 28.84 73.92 40.12 75 40.6C76.08 41.08 82.04 33 83.1 33.5C84.16 34 84.47 45.05 85.6 45.6C86.73 46.15 93.18 38.33 94.4 39C95.62 39.67 96.76 51.82 97.8 52.3C98.84 52.78 103.72 42.71 104.8 43.8C105.88 44.89 107.51 62.21 108.6 63.2C109.69 64.19 114.61 53 115.7 53.7C116.79 54.4 118.32 69.4 119.5 70.2C120.68 71 126.41 61.36 127.5 61.7C128.59 62.04 129.31 73.22 130.4 73.6C131.49 73.98 137.17 64.98 138.4 65.5C139.63 66.02 141.55 78.21 142.7 78.8C143.85 79.39 148.83 71.2 149.9 71.4C150.97 71.6 152.36 80.65 153.4 80.8C154.44 80.95 159.27 72.11 160.3 72.9C161.33 73.69 162.61 87.86 163.7 88.7C164.79 89.54 170.06 80.76 171.2 81.3C172.34 81.84 173.97 93.46 175.1 94.1C176.23 94.74 181.36 87.15 182.5 87.7C183.64 88.25 185.31 99.4 186.5 99.6C187.69 99.8 193.3 89.66 194.4 89.7C195.5 89.74 196.5 99.53 197.5 100C198.5 100.47 203.21 93.15 204.4 94.4C205.59 95.65 208.15 111.44 209.4 112.5C210.65 113.56 215.78 104 216.9 105C218.02 106 219.6 121.5 220.6 122.5C221.6 123.5 225.82 114.01 226.9 115C227.98 115.99 230.25 131.45 231.4 132.4C232.55 133.35 237.31 123.42 238.4 124.5C239.49 125.58 241.22 141.87 242.3 143.2C243.38 144.53 248.08 136.72 249.2 137.8C250.32 138.88 252.32 153.13 253.5 154C254.68 154.87 259.83 145.6 261 146.5C262.17 147.4 264.08 162.05 265.2 163C266.32 163.95 271.1 154.61 272.2 156C273.3 157.39 275.16 175.64 276.2 176.9C277.24 178.16 281.57 168.09 282.6 168.6C283.63 169.11 286.11 180.66 286.5 182" stroke="#5d6d8e" stroke-width="2.0"/>
</g>
<rect x="51.5" y="18.5" width="234" height="184" fill="none" stroke="#bcc3d3" stroke-width="1"/>
<line x1="57.5" y1="203" x2="57.5" y2="207.5" stroke="#c3cad8" stroke-width="1"/>
<line x1="113.09" y1="203" x2="113.09" y2="207.5" stroke="#c3cad8" stroke-width="1"/>
<line x1="168.68" y1="203" x2="168.68" y2="207.5" stroke="#c3cad8" stroke-width="1"/>
<line x1="224.27" y1="203" x2="224.27" y2="207.5" stroke="#c3cad8" stroke-width="1"/>
<line x1="279.86" y1="203" x2="279.86" y2="207.5" stroke="#c3cad8" stroke-width="1"/>
<path d="M54.7 30.9L59.7 35.9M54.7 35.9L59.7 30.9" stroke="#ca404a" stroke-width="1.6" fill="none"/>
<path d="M277.4 148.2L282.4 153.2M277.4 153.2L282.4 148.2" stroke="#ca404a" stroke-width="1.6" fill="none"/>
<g clip-path="url(#cP2)" fill="none" stroke-linejoin="round" stroke-linecap="round">
<path d="M339.6 36.4C339.78 36.89 340.58 41.4 341.4 41.26C342.22 41.12 346.66 35.02 347.8 34.98C348.94 34.94 351.66 40.79 352.8 40.83C353.94 40.87 358.21 35.3 359.2 35.41C360.19 35.52 361.56 41.8 362.7 41.96C363.84 42.11 369.32 36.7 370.6 36.94C371.88 37.18 374.41 44.21 375.5 44.37C376.59 44.53 380.46 38 381.5 38.54C382.54 39.09 384.83 49.18 385.9 49.82C386.97 50.47 391.1 44.5 392.2 45.03C393.3 45.56 395.74 54.45 396.9 55.11C398.06 55.77 402.71 51.04 403.8 51.64C404.89 52.24 406.76 60.52 407.8 61.11C408.84 61.69 413.06 57.16 414.2 57.49C415.34 57.81 418.01 64.17 419.2 64.38C420.39 64.59 424.87 59.03 426.1 59.54C427.33 60.06 430.46 68.93 431.5 69.55C432.54 70.17 435.51 65.05 436.5 65.78C437.49 66.51 440.2 76.28 441.4 76.84C442.6 77.4 447.35 71.22 448.5 71.36C449.65 71.51 451.82 77.98 452.9 78.25C453.98 78.53 458.21 73.85 459.3 74.11C460.39 74.37 462.76 80.4 463.8 80.84C464.84 81.28 468.61 77.6 469.7 78.48C470.79 79.36 473.51 89.15 474.7 89.66C475.89 90.17 480.37 83.13 481.6 83.62C482.83 84.11 485.86 93.84 487 94.56C488.14 95.29 491.91 90.43 493 90.88C494.09 91.33 496.86 98.64 497.9 99.04C498.94 99.44 502.31 94.26 503.4 94.87C504.49 95.48 507.76 104.54 508.8 105.13C509.84 105.72 512.74 100.12 513.8 100.75C514.86 101.37 518.28 110.46 519.4 111.37C520.52 112.28 523.87 109.02 525 109.86C526.13 110.7 529.5 118.82 530.7 119.76C531.9 120.71 535.81 118.62 537 119.31C538.19 120 541.48 126.19 542.6 126.63C543.72 127.06 547.07 122.99 548.2 123.66C549.33 124.34 552.83 132.58 553.9 133.37C554.97 134.15 557.84 130.78 558.9 131.52C559.96 132.27 563.49 140.02 564.5 140.82C565.51 141.63 568.55 139.7 569 139.57" stroke="#c6ccda" stroke-width="1.7"/>
<path d="M339.6 36.4C339.78 36.96 340.58 41.88 341.4 42C342.22 42.12 346.66 37.7 347.8 37.59C348.94 37.49 351.66 41 352.8 40.94C353.94 40.88 358.21 36.51 359.2 36.95C360.19 37.39 361.56 45.25 362.7 45.34C363.84 45.43 369.32 37.65 370.6 37.84C371.88 38.04 374.41 46.96 375.5 47.33C376.59 47.69 380.46 40.94 381.5 41.47C382.54 42 384.83 51.99 385.9 52.64C386.97 53.29 391.1 47.28 392.2 48C393.3 48.72 395.74 59.18 396.9 59.85C398.06 60.51 402.71 54.23 403.8 54.66C404.89 55.08 406.76 63.62 407.8 64.13C408.84 64.64 413.06 59.4 414.2 59.76C415.34 60.13 418.01 67.54 419.2 67.78C420.39 68.03 424.87 61.72 426.1 62.22C427.33 62.72 430.46 72.16 431.5 72.79C432.54 73.41 435.51 67.76 436.5 68.48C437.49 69.21 440.2 79.6 441.4 80.03C442.6 80.47 447.35 72.81 448.5 72.82C449.65 72.82 451.82 79.95 452.9 80.12C453.98 80.29 458.21 74.06 459.3 74.49C460.39 74.92 462.76 83.94 463.8 84.45C464.84 84.96 468.61 78.85 469.7 79.58C470.79 80.32 473.51 91.2 474.7 91.82C475.89 92.44 480.37 85.18 481.6 85.74C482.83 86.31 485.86 96.71 487 97.47C488.14 98.23 491.91 92.99 493 93.32C494.09 93.65 496.86 100.53 497.9 100.74C498.94 100.95 502.31 94.85 503.4 95.41C504.49 95.98 507.76 105.69 508.8 106.39C509.84 107.08 512.74 101.67 513.8 102.39C514.86 103.11 518.28 112.69 519.4 113.56C520.52 114.43 523.87 110.31 525 111.12C526.13 111.93 529.5 120.84 530.7 121.71C531.9 122.57 535.81 118.97 537 119.76C538.19 120.55 541.48 129.07 542.6 129.58C543.72 130.08 547.07 124.29 548.2 124.8C549.33 125.32 552.83 134.05 553.9 134.71C554.97 135.38 557.84 130.64 558.9 131.43C559.96 132.22 563.49 141.59 564.5 142.58C565.51 143.58 568.55 141.53 569 141.41" stroke="#c6ccda" stroke-width="1.7"/>
<path d="M339.6 36.4C339.78 37.11 340.58 43.3 341.4 43.45C342.22 43.61 346.66 37.82 347.8 37.94C348.94 38.05 351.66 44.52 352.8 44.59C353.94 44.67 358.21 38.31 359.2 38.69C360.19 39.07 361.56 48.06 362.7 48.39C363.84 48.71 369.32 41.7 370.6 41.98C371.88 42.25 374.41 50.97 375.5 51.18C376.59 51.39 380.46 43.54 381.5 44.09C382.54 44.64 384.83 56.02 385.9 56.71C386.97 57.4 391.1 50.41 392.2 50.99C393.3 51.57 395.74 61.79 396.9 62.54C398.06 63.29 402.71 57.8 403.8 58.47C404.89 59.13 406.76 68.53 407.8 69.17C408.84 69.8 413.06 64.47 414.2 64.8C415.34 65.13 418.01 72.2 419.2 72.49C420.39 72.78 424.87 67.16 426.1 67.69C427.33 68.21 430.46 77.28 431.5 77.73C432.54 78.18 435.51 71.44 436.5 72.17C437.49 72.91 440.2 84.66 441.4 85.07C442.6 85.49 447.35 76.28 448.5 76.3C449.65 76.32 451.82 85.04 452.9 85.24C453.98 85.44 458.21 78.08 459.3 78.31C460.39 78.53 462.76 87.19 463.8 87.48C464.84 87.77 468.61 80.47 469.7 81.2C470.79 81.92 473.51 94.04 474.7 94.73C475.89 95.42 480.37 87.52 481.6 88.1C482.83 88.68 485.86 99.68 487 100.51C488.14 101.34 491.91 96.03 493 96.39C494.09 96.75 496.86 103.89 497.9 104.08C498.94 104.28 502.31 97.82 503.4 98.35C504.49 98.88 507.76 108.86 508.8 109.39C509.84 109.92 512.74 102.98 513.8 103.65C514.86 104.32 518.28 115.13 519.4 116.11C520.52 117.08 523.87 112.54 525 113.42C526.13 114.3 529.5 124.05 530.7 124.9C531.9 125.74 535.81 121.22 537 121.87C538.19 122.52 541.48 130.94 542.6 131.4C543.72 131.86 547.07 125.91 548.2 126.46C549.33 127 552.83 136.19 553.9 136.83C554.97 137.48 557.84 132.08 558.9 132.93C559.96 133.78 563.49 144.27 564.5 145.33C565.51 146.4 568.55 143.74 569 143.56" stroke="#c6ccda" stroke-width="1.7"/>
<path d="M339.6 36.4C339.78 37.06 340.58 42.72 341.4 43.03C342.22 43.35 346.66 39.1 347.8 39.53C348.94 39.96 351.66 47.12 352.8 47.36C353.94 47.6 358.21 41.5 359.2 41.89C360.19 42.28 361.56 50.96 362.7 51.26C363.84 51.56 369.32 44.62 370.6 44.88C371.88 45.15 374.41 53.57 375.5 53.91C376.59 54.24 380.46 47.64 381.5 48.25C382.54 48.85 384.83 59.22 385.9 59.94C386.97 60.66 391.1 54.85 392.2 55.44C393.3 56.03 395.74 65.1 396.9 65.84C398.06 66.58 402.71 62.23 403.8 62.84C404.89 63.44 406.76 71.26 407.8 71.89C408.84 72.51 413.06 68.74 414.2 69.1C415.34 69.47 418.01 75.3 419.2 75.49C420.39 75.69 424.87 70.6 426.1 71.07C427.33 71.55 430.46 79.69 431.5 80.22C432.54 80.76 435.51 75.77 436.5 76.41C437.49 77.06 440.2 86.3 441.4 86.66C442.6 87.02 447.35 79.89 448.5 79.98C449.65 80.07 451.82 87.35 452.9 87.52C453.98 87.7 458.21 81.48 459.3 81.71C460.39 81.95 462.76 89.52 463.8 89.89C464.84 90.25 468.61 84.71 469.7 85.39C470.79 86.07 473.51 96.13 474.7 96.67C475.89 97.21 480.37 90.27 481.6 90.83C482.83 91.39 485.86 101.58 487 102.26C488.14 102.94 491.91 97.31 493 97.64C494.09 97.97 496.86 105.39 497.9 105.6C498.94 105.82 502.31 99.14 503.4 99.78C504.49 100.42 507.76 111.35 508.8 111.97C509.84 112.6 512.74 105.44 513.8 106.03C514.86 106.62 518.28 116.87 519.4 117.85C520.52 118.84 523.87 114.96 525 115.83C526.13 116.7 529.5 125.69 530.7 126.55C531.9 127.41 535.81 123.81 537 124.43C538.19 125.05 541.48 132.32 542.6 132.77C543.72 133.23 547.07 128.36 548.2 129C549.33 129.64 552.83 138.61 553.9 139.19C554.97 139.77 557.84 134.03 558.9 134.84C559.96 135.64 563.49 146.24 564.5 147.28C565.51 148.32 568.55 145.4 569 145.19" stroke="#c6ccda" stroke-width="1.7"/>
<path d="M339.6 36.4C339.78 36.99 340.58 41.86 341.4 42.34C342.22 42.81 346.66 40.59 347.8 41.16C348.94 41.74 351.66 47.9 352.8 48.09C353.94 48.27 358.21 42.59 359.2 43.02C360.19 43.46 361.56 52.02 362.7 52.46C363.84 52.91 369.32 47.05 370.6 47.44C371.88 47.83 374.41 55.99 375.5 56.35C376.59 56.72 380.46 50.45 381.5 51.09C382.54 51.74 384.83 62.17 385.9 62.81C386.97 63.45 391.1 56.81 392.2 57.46C393.3 58.11 395.74 68.7 396.9 69.34C398.06 69.99 402.71 63.33 403.8 63.89C404.89 64.45 406.76 74.23 407.8 74.96C408.84 75.68 413.06 70.81 414.2 71.12C415.34 71.43 418.01 77.89 419.2 78.04C420.39 78.19 424.87 72.07 426.1 72.64C427.33 73.2 430.46 82.97 431.5 83.66C432.54 84.34 435.51 78.9 436.5 79.48C437.49 80.06 440.2 89.25 441.4 89.47C442.6 89.7 447.35 81.65 448.5 81.73C449.65 81.81 451.82 90.15 452.9 90.26C453.98 90.36 458.21 82.63 459.3 82.78C460.39 82.94 462.76 91.45 463.8 91.81C464.84 92.17 468.61 85.7 469.7 86.36C470.79 87.03 473.51 97.87 474.7 98.43C475.89 98.99 480.37 91.3 481.6 91.98C482.83 92.65 485.86 104.4 487 105.17C488.14 105.94 491.91 99.56 493 99.68C494.09 99.8 496.86 106.18 497.9 106.34C498.94 106.5 502.31 100.63 503.4 101.29C504.49 101.94 507.76 112.21 508.8 112.9C509.84 113.59 512.74 107.52 513.8 108.18C514.86 108.83 518.28 118.6 519.4 119.45C520.52 120.31 523.87 115.92 525 116.72C526.13 117.52 529.5 126.52 530.7 127.44C531.9 128.37 535.81 125.23 537 125.96C538.19 126.68 541.48 134.31 542.6 134.74C543.72 135.16 547.07 129.68 548.2 130.18C549.33 130.68 552.83 139.05 553.9 139.73C554.97 140.41 557.84 136.11 558.9 137C559.96 137.88 563.49 147.75 564.5 148.59C565.51 149.42 568.55 145.7 569 145.38" stroke="#c6ccda" stroke-width="1.7"/>
<path d="M339.6 36.4C339.78 37.08 340.58 42.77 341.4 43.16C342.22 43.55 346.66 39.69 347.8 40.32C348.94 40.96 351.66 49.05 352.8 49.55C353.94 50.04 358.21 44.75 359.2 45.27C360.19 45.79 361.56 54.44 362.7 54.75C363.84 55.05 369.32 47.82 370.6 48.28C371.88 48.75 374.41 59.07 375.5 59.43C376.59 59.8 380.46 51.36 381.5 51.89C382.54 52.43 384.83 63.87 385.9 64.79C386.97 65.71 391.1 60.28 392.2 61.08C393.3 61.89 395.74 72.17 396.9 72.81C398.06 73.46 402.71 67.12 403.8 67.56C404.89 68.01 406.76 76.71 407.8 77.28C408.84 77.85 413.06 73.03 414.2 73.27C415.34 73.51 418.01 79.49 419.2 79.69C420.39 79.88 424.87 74.63 426.1 75.23C427.33 75.84 430.46 85.23 431.5 85.7C432.54 86.17 435.51 79.36 436.5 79.91C437.49 80.45 440.2 90.72 441.4 91.17C442.6 91.61 447.35 84.33 448.5 84.39C449.65 84.46 451.82 91.71 452.9 91.81C453.98 91.92 458.21 85.2 459.3 85.42C460.39 85.63 462.76 93.76 463.8 93.98C464.84 94.19 468.61 87.06 469.7 87.58C470.79 88.11 473.51 98.73 474.7 99.24C475.89 99.76 480.37 92.05 481.6 92.74C482.83 93.44 485.86 105.36 487 106.21C488.14 107.05 491.91 100.95 493 101.21C494.09 101.47 496.86 108.58 497.9 108.84C498.94 109.09 502.31 103.22 503.4 103.75C504.49 104.29 507.76 113.75 508.8 114.21C509.84 114.67 512.74 107.73 513.8 108.38C514.86 109.02 518.28 119.78 519.4 120.66C520.52 121.54 523.87 116.23 525 117.17C526.13 118.11 529.5 129.06 530.7 130.05C531.9 131.05 535.81 126.55 537 127.11C538.19 127.68 541.48 135.32 542.6 135.67C543.72 136.02 547.07 129.99 548.2 130.59C549.33 131.18 552.83 141.03 553.9 141.63C554.97 142.22 557.84 135.75 558.9 136.54C559.96 137.33 563.49 148.54 564.5 149.53C565.51 150.51 568.55 146.73 569 146.42" stroke="#c6ccda" stroke-width="1.7"/>
<path d="M339.6 36.4C339.78 37 340.58 41.84 341.4 42.41C342.22 42.99 346.66 41.49 347.8 42.15C348.94 42.82 351.66 48.52 352.8 49.03C353.94 49.54 358.21 46.58 359.2 47.23C360.19 47.88 361.56 55.04 362.7 55.54C363.84 56.03 369.32 51.73 370.6 52.18C371.88 52.63 374.41 59.58 375.5 60.01C376.59 60.45 380.46 55.89 381.5 56.54C382.54 57.19 384.83 65.86 385.9 66.52C386.97 67.17 391.1 62.37 392.2 63.06C393.3 63.75 395.74 72.7 396.9 73.4C398.06 74.11 402.71 69.51 403.8 70.13C404.89 70.76 406.76 79.01 407.8 79.64C408.84 80.27 413.06 76.22 414.2 76.43C415.34 76.65 418.01 81.49 419.2 81.77C420.39 82.05 424.87 78.61 426.1 79.22C427.33 79.83 430.46 87.52 431.5 87.86C432.54 88.2 435.51 82.17 436.5 82.62C437.49 83.08 440.2 92.01 441.4 92.44C442.6 92.88 447.35 87 448.5 86.95C449.65 86.9 451.82 91.85 452.9 91.92C453.98 91.99 458.21 87.46 459.3 87.67C460.39 87.88 462.76 93.7 463.8 94.05C464.84 94.39 468.61 90.5 469.7 91.14C470.79 91.77 473.51 99.77 474.7 100.43C475.89 101.1 480.37 97.18 481.6 97.78C482.83 98.38 485.86 105.84 487 106.43C488.14 107.03 491.91 103.41 493 103.73C494.09 104.04 496.86 109.35 497.9 109.6C498.94 109.85 502.31 105.7 503.4 106.19C504.49 106.68 507.76 114.09 508.8 114.5C509.84 114.92 512.74 109.7 513.8 110.36C514.86 111.01 518.28 120.01 519.4 121.02C520.52 122.03 523.87 119.55 525 120.48C526.13 121.41 529.5 129.45 530.7 130.3C531.9 131.15 535.81 128.34 537 128.97C538.19 129.6 541.48 136.18 542.6 136.57C543.72 136.96 547.07 132.24 548.2 132.85C549.33 133.45 552.83 141.91 553.9 142.65C554.97 143.39 557.84 139.59 558.9 140.23C559.96 140.87 563.49 148.26 564.5 149.08C565.51 149.89 568.55 148.47 569 148.4" stroke="#c6ccda" stroke-width="1.7"/>
<path d="M339.6 36.4C339.78 37.11 340.58 42.83 341.4 43.53C342.22 44.24 346.66 42.63 347.8 43.47C348.94 44.32 351.66 51.39 352.8 51.99C353.94 52.59 358.21 48.81 359.2 49.45C360.19 50.09 361.56 57.99 362.7 58.41C363.84 58.83 369.32 53.27 370.6 53.67C371.88 54.06 374.41 62.07 375.5 62.39C376.59 62.72 380.46 56.18 381.5 56.91C382.54 57.63 384.83 68.68 385.9 69.64C386.97 70.61 391.1 65.97 392.2 66.57C393.3 67.17 395.74 74.97 396.9 75.62C398.06 76.26 402.71 72.3 403.8 72.99C404.89 73.69 406.76 82.02 407.8 82.54C408.84 83.07 413.06 77.91 414.2 78.25C415.34 78.59 418.01 85.68 419.2 85.93C420.39 86.18 424.87 80.17 426.1 80.73C427.33 81.28 430.46 90.96 431.5 91.48C432.54 92 435.51 85.47 436.5 85.94C437.49 86.42 440.2 95.84 441.4 96.21C442.6 96.57 447.35 89.64 448.5 89.57C449.65 89.5 451.82 95.55 452.9 95.5C453.98 95.45 458.21 88.95 459.3 89.08C460.39 89.21 462.76 96.43 463.8 96.79C464.84 97.15 468.61 92.09 469.7 92.68C470.79 93.27 473.51 102.2 474.7 102.72C475.89 103.23 480.37 97.26 481.6 97.84C482.83 98.42 485.86 107.87 487 108.55C488.14 109.23 491.91 104.29 493 104.64C494.09 105 496.86 111.85 497.9 112.11C498.94 112.38 502.31 106.65 503.4 107.27C504.49 107.89 507.76 117.81 508.8 118.32C509.84 118.82 512.74 111.81 513.8 112.29C514.86 112.76 518.28 122.22 519.4 123.04C520.52 123.86 523.87 119.55 525 120.45C526.13 121.36 529.5 131.18 530.7 132.12C531.9 133.06 535.81 129.17 537 129.84C538.19 130.51 541.48 138.34 542.6 138.8C543.72 139.26 547.07 133.86 548.2 134.44C549.33 135.01 552.83 143.91 553.9 144.57C554.97 145.23 557.84 140.38 558.9 141.02C559.96 141.67 563.49 150.15 564.5 151.02C565.51 151.89 568.55 149.88 569 149.76" stroke="#c6ccda" stroke-width="1.7"/>
<path d="M339.6 36.4C339.78 37.19 340.58 43.4 341.4 44.28C342.22 45.17 346.66 44.29 347.8 45.26C348.94 46.23 351.66 53.4 352.8 54.01C353.94 54.61 358.21 50.62 359.2 51.34C360.19 52.05 361.56 60.67 362.7 61.18C363.84 61.69 369.32 55.97 370.6 56.44C371.88 56.9 374.41 65.42 375.5 65.82C376.59 66.21 380.46 59.73 381.5 60.39C382.54 61.05 384.83 71.6 385.9 72.39C386.97 73.18 391.1 67.57 392.2 68.31C393.3 69.04 395.74 78.87 396.9 79.71C398.06 80.55 402.71 76.18 403.8 76.69C404.89 77.2 406.76 84.26 407.8 84.83C408.84 85.4 413.06 82.1 414.2 82.42C415.34 82.74 418.01 87.92 419.2 88.03C420.39 88.13 424.87 82.87 426.1 83.46C427.33 84.05 430.46 93.37 431.5 93.95C432.54 94.54 435.51 88.76 436.5 89.29C437.49 89.82 440.2 99.07 441.4 99.25C442.6 99.44 447.35 91.24 448.5 91.14C449.65 91.04 451.82 98.13 452.9 98.27C453.98 98.4 458.21 92.32 459.3 92.49C460.39 92.67 462.76 99.79 463.8 99.99C464.84 100.18 468.61 93.93 469.7 94.44C470.79 94.95 473.51 104.58 474.7 105.07C475.89 105.55 480.37 98.7 481.6 99.29C482.83 99.88 485.86 110.27 487 110.97C488.14 111.67 491.91 106.02 493 106.33C494.09 106.63 496.86 113.78 497.9 114.02C498.94 114.25 502.31 108.2 503.4 108.68C504.49 109.16 507.76 118.2 508.8 118.79C509.84 119.38 512.74 113.8 513.8 114.54C514.86 115.29 518.28 125.37 519.4 126.24C520.52 127.1 523.87 122.52 525 123.23C526.13 123.95 529.5 132.58 530.7 133.39C531.9 134.21 535.81 130.67 537 131.38C538.19 132.08 541.48 139.97 542.6 140.44C543.72 140.91 547.07 135.51 548.2 136.08C549.33 136.65 552.83 145.55 553.9 146.15C554.97 146.75 557.84 141.48 558.9 142.08C559.96 142.68 563.49 151.3 564.5 152.17C565.51 153.04 568.55 150.91 569 150.77" stroke="#c6ccda" stroke-width="1.7"/>
<path d="M365.2 52.2C365.26 52.13 366.28 51.02 366.4 50.75C366.52 50.48 367.49 46.86 367.6 46.8C367.71 46.74 368.5 49.78 368.6 49.63C368.7 49.48 369.46 44.29 369.6 43.8C369.74 43.31 371.18 40.4 371.35 39.81C371.53 39.22 372.98 32.35 373.1 32C373.22 31.65 373.73 32.54 373.8 32.84C373.87 33.14 374.42 37.33 374.5 38C374.58 38.67 375.4 45.23 375.5 46.16C375.6 47.1 376.41 56.23 376.5 56.7C376.59 57.17 377.18 55.86 377.25 55.57C377.32 55.29 377.91 51.38 378 51C378.09 50.62 378.9 48.35 379 48.06C379.1 47.78 379.9 45.43 380 45.3C380.1 45.17 380.9 45.7 381 45.48C381.1 45.26 381.91 41.16 382 40.9C382.09 40.64 382.68 40.14 382.75 40.3C382.82 40.45 383.42 43.44 383.5 44C383.58 44.56 384.36 51.24 384.45 51.58C384.54 51.91 385.3 50.45 385.4 50.7C385.5 50.95 386.34 56.4 386.45 56.62C386.56 56.83 387.38 55.11 387.5 55C387.62 54.89 388.81 54.21 388.95 54.4C389.09 54.59 390.28 58.66 390.4 58.7C390.52 58.74 391.3 55.41 391.4 55.11C391.5 54.81 392.31 52.8 392.4 52.7C392.49 52.6 393.12 52.98 393.2 53.14C393.28 53.31 393.91 55.76 394 56C394.09 56.24 394.9 57.65 395 57.91C395.1 58.18 395.9 60.99 396 61.3C396.1 61.61 396.9 64.06 397 64.14C397.1 64.23 397.92 62.99 398 63C398.08 63.01 398.63 64.19 398.7 64.43C398.77 64.67 399.32 67.87 399.4 67.8C399.47 67.73 400.12 63.41 400.2 63.12C400.28 62.83 400.91 62.08 401 62C401.09 61.92 401.9 61.71 402 61.51C402.1 61.31 402.9 57.99 403 58C403.1 58.01 403.9 61.71 404 61.81C404.1 61.91 404.9 60.08 405 60C405.1 59.92 405.81 60.03 405.9 60.12C405.99 60.21 406.72 61.61 406.8 61.8C406.88 61.99 407.48 63.87 407.55 64.02C407.62 64.17 408.19 64.79 408.3 64.8C408.41 64.81 409.51 64.14 409.65 64.2C409.78 64.26 410.84 65.88 411 66C411.16 66.12 412.67 66.72 412.85 66.56C413.04 66.4 414.53 62.63 414.7 62.8C414.87 62.97 416.05 69.79 416.2 70.03C416.35 70.28 417.57 67.69 417.7 67.7C417.83 67.71 418.74 70.11 418.85 70.22C418.97 70.34 419.85 69.92 420 70C420.15 70.08 421.62 71.7 421.8 71.88C421.98 72.07 423.45 74.03 423.6 73.7C423.75 73.37 424.73 65.69 424.85 65.25C424.98 64.8 425.99 64.82 426.1 64.8C426.21 64.78 427 64.76 427.1 64.81C427.2 64.86 428 65.78 428.1 65.8C428.2 65.82 429 64.95 429.1 65.2C429.2 65.45 430.02 70.04 430.1 70.7C430.19 71.36 430.73 77.81 430.8 78.4C430.87 79 431.42 82.18 431.5 82.6C431.58 83.02 432.4 86.75 432.5 86.8C432.6 86.85 433.39 83.75 433.5 83.6C433.61 83.45 434.62 84.1 434.75 83.82C434.88 83.54 435.88 78.34 436 78C436.12 77.66 437.12 77.15 437.25 77C437.38 76.85 438.37 74.8 438.5 75C438.63 75.2 439.81 80.49 439.95 80.97C440.09 81.45 441.27 84.4 441.4 84.6C441.52 84.8 442.34 84.9 442.45 85.07C442.56 85.24 443.38 87.97 443.5 88C443.62 88.03 444.62 85.93 444.75 85.63C444.88 85.33 445.86 82.13 446 82C446.14 81.87 447.35 82.99 447.5 83.03C447.65 83.07 448.88 82.88 449 82.8C449.12 82.72 449.9 81.66 450 81.52C450.1 81.38 450.85 79.95 451 80C451.15 80.05 452.75 81.7 452.95 82.49C453.14 83.27 454.75 95.1 454.9 95.7C455.05 96.3 455.84 94.7 455.95 94.52C456.06 94.33 456.88 92.25 457 92C457.12 91.75 458.26 89.8 458.4 89.44C458.54 89.08 459.67 84.93 459.8 84.8C459.93 84.67 460.93 86.45 461.05 86.79C461.18 87.14 462.18 91.28 462.3 91.7C462.43 92.12 463.43 94.92 463.55 95.17C463.68 95.42 464.68 96.31 464.8 96.7C464.93 97.09 465.93 102.45 466.05 102.89C466.18 103.34 467.18 105.72 467.3 105.6C467.42 105.48 468.29 100.63 468.4 100.4C468.51 100.17 469.34 100.86 469.5 101C469.66 101.14 471.39 103.18 471.6 103.21C471.81 103.24 473.54 101.62 473.7 101.6C473.86 101.58 474.74 102.54 474.85 102.76C474.97 102.98 475.88 105.82 476 106C476.12 106.18 477.17 106.07 477.3 106.34C477.43 106.62 478.49 111.52 478.6 111.5C478.71 111.48 479.46 106.59 479.55 106.01C479.64 105.44 480.4 100.54 480.5 100C480.6 99.46 481.44 95.45 481.55 95.14C481.66 94.82 482.49 93.62 482.6 93.7C482.71 93.78 483.68 96.35 483.8 96.77C483.92 97.18 484.87 101.6 485 102C485.13 102.4 486.35 104.29 486.5 104.79C486.65 105.29 487.88 111.64 488 112C488.12 112.36 488.9 111.83 489 111.98C489.1 112.13 489.9 114.98 490 115C490.1 115.02 490.9 112.5 491 112.4C491.1 112.3 491.9 112.89 492 113C492.1 113.11 492.9 114.35 493 114.65C493.1 114.95 493.9 118.91 494 119C494.1 119.09 494.9 116.5 495 116.4C495.1 116.3 495.9 117 496 117C496.1 117 496.9 116.2 497 116.4C497.1 116.6 497.9 120.74 498 121C498.1 121.26 498.9 121.74 499 121.59C499.1 121.44 499.9 118.16 500 118C500.1 117.84 500.9 118.41 501 118.46C501.1 118.51 501.85 118.88 502 119C502.15 119.12 503.8 120.69 504 120.79C504.2 120.89 505.8 120.89 506 121C506.2 121.11 507.8 123.14 508 122.99C508.2 122.84 509.8 118.11 510 118C510.2 117.89 511.8 120.66 512 120.81C512.2 120.96 513.83 120.89 514 121C514.17 121.11 515.35 122.76 515.5 122.96C515.65 123.16 516.85 124.93 517 125C517.15 125.07 518.35 124.25 518.5 124.4C518.65 124.55 519.88 127.79 520 128C520.12 128.21 520.9 128.69 521 128.59C521.1 128.49 521.89 125.82 522 126C522.11 126.18 523.08 131.61 523.2 132.13C523.32 132.65 524.34 136.19 524.4 136.4" stroke="#14509f" stroke-width="1.7"/>
<path d="M368.6 39.9C368.63 40.23 369.17 46.54 369.23 46.53C369.3 46.52 369.8 39.97 369.87 39.69C369.93 39.41 370.44 41.22 370.5 41C370.56 40.78 370.98 35.82 371.03 35.23C371.09 34.64 371.51 29.41 371.57 29.2C371.62 28.99 372.05 30.68 372.1 31C372.15 31.32 372.55 35.66 372.6 35.57C372.65 35.48 373.05 29.23 373.1 29.2C373.15 29.17 373.56 34.47 373.6 34.9C373.64 35.33 373.9 37.09 373.93 37.86C373.97 38.62 374.23 49.42 374.27 50.21C374.3 51.01 374.56 53.41 374.6 53.7C374.64 53.99 374.96 55.76 375 55.92C375.04 56.09 375.36 56.78 375.4 56.99C375.44 57.19 375.76 59.57 375.8 60C375.84 60.43 376.16 65.69 376.2 65.6C376.24 65.51 376.56 58.01 376.6 58.2C376.64 58.39 376.96 69.23 377 69.5C377.04 69.77 377.3 63.74 377.33 63.52C377.37 63.3 377.63 65.69 377.67 65.1C377.7 64.51 377.96 52.04 378 51.7C378.04 51.36 378.45 58.34 378.5 58.2C378.55 58.06 378.95 49.27 379 48.9C379.05 48.53 379.45 50.47 379.5 50.7C379.55 50.93 379.95 53.72 380 53.57C380.05 53.43 380.45 48.31 380.5 47.77C380.55 47.23 380.95 43.14 381 42.8C381.05 42.46 381.45 41.09 381.5 41C381.55 40.91 381.95 40.65 382 41C382.05 41.35 382.44 47.44 382.5 48C382.56 48.56 383.07 51.27 383.13 52.23C383.2 53.2 383.7 66.68 383.77 67.3C383.83 67.92 384.34 64.74 384.4 64.6C384.46 64.46 384.85 65.06 384.9 64.57C384.95 64.09 385.35 55.29 385.4 54.9C385.45 54.51 385.85 56.77 385.9 56.7C385.95 56.63 386.35 53.54 386.4 53.5C386.45 53.46 386.85 56.26 386.9 55.9C386.95 55.54 387.36 46.73 387.4 46.3C387.44 45.87 387.73 47.23 387.77 47.26C387.8 47.29 388.1 46.6 388.13 46.84C388.17 47.08 388.46 51.29 388.5 52C388.54 52.71 388.92 61 388.97 60.99C389.01 60.97 389.39 51.12 389.43 51.65C389.48 52.18 389.85 70.62 389.9 71.5C389.95 72.38 390.35 70.01 390.4 69.23C390.45 68.45 390.85 56.48 390.9 55.9C390.95 55.32 391.36 57.62 391.4 57.7C391.44 57.78 391.73 57.36 391.77 57.53C391.8 57.7 392.1 60.94 392.13 61.07C392.17 61.19 392.46 59.95 392.5 60C392.54 60.05 392.8 61.97 392.83 62.05C392.87 62.13 393.13 61.21 393.17 61.61C393.2 62 393.46 69.67 393.5 70C393.54 70.33 393.95 67.88 394 68.2C394.05 68.52 394.45 76.24 394.5 76.46C394.55 76.69 394.95 72.98 395 72.7C395.05 72.42 395.42 70.99 395.47 70.9C395.51 70.81 395.89 70.61 395.93 70.9C395.98 71.19 396.35 76.51 396.4 76.7C396.45 76.89 396.88 74.84 396.93 74.71C396.99 74.58 397.41 74.56 397.47 74.13C397.52 73.69 397.94 66.55 398 66C398.06 65.45 398.57 63.54 398.63 63.11C398.7 62.69 399.2 57.73 399.27 57.52C399.33 57.3 399.84 58.52 399.9 58.8C399.96 59.08 400.38 63.27 400.43 63.18C400.49 63.09 400.91 57.16 400.97 57C401.02 56.84 401.44 59.43 401.5 60C401.56 60.57 402.07 68.37 402.13 68.36C402.2 68.36 402.7 60.92 402.77 59.9C402.83 58.88 403.34 48.12 403.4 48C403.45 47.88 403.82 57.74 403.87 57.6C403.91 57.46 404.29 45.73 404.33 45.2C404.38 44.67 404.76 46.99 404.8 47C404.84 47.01 405.01 45.28 405.03 45.34C405.06 45.41 405.24 47.97 405.27 48.3C405.29 48.63 405.48 51.9 405.5 52C405.52 52.1 405.74 49.79 405.77 50.2C405.79 50.61 406.01 59.22 406.03 60.2C406.06 61.17 406.27 68.7 406.3 69.7C406.33 70.7 406.6 80.08 406.63 80.25C406.67 80.42 406.93 72.81 406.97 73.03C407 73.25 407.26 84.29 407.3 84.6C407.34 84.91 407.75 79.14 407.8 79.27C407.85 79.4 408.25 87.42 408.3 87.21C408.35 86.99 408.74 75.37 408.8 75C408.86 74.63 409.4 79.36 409.47 79.82C409.53 80.28 410.07 84 410.13 84.24C410.2 84.48 410.74 84.8 410.8 84.6C410.86 84.4 411.31 80.84 411.37 80.21C411.42 79.58 411.88 72.41 411.93 72C411.99 71.59 412.44 71.95 412.5 72C412.56 72.05 413.01 72.55 413.07 72.97C413.12 73.39 413.58 79.93 413.63 80.42C413.69 80.9 414.15 83.07 414.2 82.6C414.25 82.13 414.65 71.84 414.7 71.08C414.75 70.32 415.15 67.97 415.2 67.41C415.25 66.85 415.65 60.27 415.7 59.8C415.75 59.33 416.09 58.03 416.13 58C416.18 57.97 416.52 59.02 416.57 59.12C416.61 59.22 416.95 59.31 417 60C417.05 60.69 417.51 72.47 417.57 73.01C417.62 73.54 418.08 70.81 418.13 70.69C418.19 70.58 418.64 70.92 418.7 70.7C418.76 70.48 419.24 66.36 419.3 66.2C419.36 66.04 419.84 67.37 419.9 67.46C419.96 67.55 420.44 67.22 420.5 68C420.56 68.78 421.13 82.1 421.2 83.04C421.27 83.98 421.83 86.95 421.9 86.78C421.97 86.61 422.53 80.05 422.6 79.6C422.67 79.15 423.2 77.51 423.27 77.8C423.33 78.09 423.87 85.09 423.93 85.43C424 85.77 424.54 84.83 424.6 84.6C424.66 84.37 425.05 81.41 425.1 80.77C425.15 80.14 425.55 72.25 425.6 71.9C425.65 71.55 426.05 73.6 426.1 73.7C426.15 73.8 426.55 73.5 426.6 73.98C426.65 74.45 427.05 83.4 427.1 83.19C427.15 82.98 427.55 70.46 427.6 69.7C427.65 68.94 428.02 67.8 428.07 67.9C428.11 68 428.49 71.39 428.53 71.8C428.58 72.2 428.95 75.3 429 76C429.05 76.7 429.48 85.6 429.53 85.87C429.59 86.13 430.01 81.2 430.07 81.33C430.12 81.46 430.54 88.4 430.6 88.5C430.66 88.6 431.17 83.48 431.23 83.34C431.3 83.2 431.8 85.75 431.87 85.69C431.93 85.62 432.44 82.54 432.5 82C432.56 81.46 433.1 74.93 433.17 74.9C433.23 74.87 433.77 81.24 433.83 81.33C433.9 81.42 434.44 77.02 434.5 76.7C434.56 76.38 434.95 74.5 435 74.9C435.05 75.3 435.45 84 435.5 84.68C435.55 85.36 435.95 88.41 436 88.5C436.05 88.59 436.45 86.63 436.5 86.44C436.55 86.25 436.95 85.63 437 84.69C437.05 83.76 437.45 68.64 437.5 67.7C437.55 66.76 437.95 65.59 438 65.9C438.05 66.21 438.45 73.36 438.5 73.81C438.55 74.27 438.96 74.45 439 75C439.04 75.55 439.3 84.57 439.33 84.86C439.37 85.14 439.63 79.87 439.67 80.66C439.7 81.45 439.95 99.8 440 100.6C440.05 101.4 440.57 96.92 440.63 96.66C440.7 96.41 441.2 95.84 441.27 95.57C441.33 95.29 441.84 91.16 441.9 91.2C441.96 91.24 442.38 95.56 442.43 96.33C442.49 97.1 442.91 106.57 442.97 106.6C443.02 106.63 443.44 97.55 443.5 97C443.56 96.45 444.13 95.81 444.2 95.59C444.27 95.37 444.83 92.84 444.9 92.62C444.97 92.4 445.53 91.43 445.6 91.2C445.67 90.97 446.17 88.29 446.23 88.03C446.3 87.76 446.8 86.16 446.87 85.94C446.93 85.73 447.44 83.45 447.5 83.7C447.56 83.95 448.04 89.97 448.1 90.89C448.16 91.81 448.64 101.74 448.7 102.03C448.76 102.33 449.24 97.49 449.3 96.8C449.36 96.11 449.81 88.43 449.87 88.2C449.92 87.97 450.38 92.17 450.43 92.26C450.49 92.35 450.94 90.42 451 90C451.06 89.58 451.63 84.11 451.7 83.8C451.77 83.49 452.33 83.71 452.4 83.8C452.47 83.89 453.03 85.05 453.1 85.6C453.17 86.15 453.67 94.59 453.73 94.76C453.8 94.94 454.3 88.29 454.37 89.09C454.43 89.9 454.94 109.84 455 110.8C455.06 111.76 455.54 108.39 455.6 108.35C455.66 108.32 456.14 110.53 456.2 110.01C456.26 109.49 456.74 99.05 456.8 98C456.86 96.95 457.37 89.52 457.43 88.94C457.5 88.35 458 86.38 458.07 86.3C458.13 86.23 458.64 87.24 458.7 87.5C458.76 87.76 459.24 91.19 459.3 91.43C459.36 91.68 459.84 91.91 459.9 92.34C459.96 92.76 460.44 99.61 460.5 100C460.56 100.39 461.07 100.25 461.13 100.16C461.2 100.07 461.7 98.09 461.77 98.2C461.83 98.31 462.34 101.73 462.4 102.4C462.46 103.07 462.97 111.02 463.03 111.51C463.1 111.99 463.6 111.97 463.67 112.13C463.73 112.28 464.24 114.78 464.3 114.6C464.36 114.42 464.87 109.46 464.93 108.58C465 107.69 465.5 97.39 465.57 96.9C465.63 96.41 466.14 98.97 466.2 98.7C466.26 98.43 466.74 91.79 466.8 91.53C466.86 91.28 467.34 93.65 467.4 93.63C467.46 93.62 467.94 91.21 468 91.2C468.06 91.19 468.57 93.7 468.63 93.33C468.7 92.96 469.2 84.19 469.27 83.8C469.33 83.41 469.84 85.1 469.9 85.6C469.96 86.1 470.47 93.07 470.53 93.8C470.6 94.52 471.1 99.79 471.17 100.1C471.23 100.41 471.74 99.98 471.8 100C471.86 100.02 472.34 99.86 472.4 100.52C472.46 101.18 472.94 112.58 473 113.23C473.06 113.89 473.54 113.2 473.6 113.6C473.66 114 474.17 120.66 474.23 121.21C474.3 121.75 474.8 123.56 474.87 124.53C474.93 125.51 475.44 140.37 475.5 140.7C475.56 141.03 476.07 131.58 476.13 131.07C476.2 130.55 476.7 131.25 476.77 130.38C476.83 129.5 477.34 114.04 477.4 113.6C477.46 113.16 477.97 121.06 478.03 121.64C478.1 122.22 478.6 124.8 478.67 125.29C478.73 125.77 479.25 131.4 479.3 131.4C479.35 131.4 479.57 126.22 479.6 125.33C479.63 124.45 479.87 115.01 479.9 113.68C479.93 112.35 480.15 99.53 480.2 98.7C480.25 97.87 480.77 97.59 480.83 97.13C480.9 96.66 481.4 89.7 481.47 89.4C481.53 89.1 482.04 91.2 482.1 91.2C482.16 91.2 482.67 89.49 482.73 89.4C482.8 89.31 483.3 88.87 483.37 89.4C483.43 89.93 483.94 98.54 484 100C484.06 101.46 484.54 117.53 484.6 118.61C484.66 119.69 485.14 121.19 485.2 121.6C485.26 122 485.75 127.22 485.8 126.7C485.85 126.18 486.16 111.47 486.2 111.13C486.24 110.78 486.56 119.88 486.6 119.83C486.64 119.77 486.95 110.58 487 110C487.05 109.42 487.48 107.49 487.53 108.2C487.59 108.91 488.01 123.09 488.07 124.21C488.12 125.32 488.54 130.28 488.6 130.5C488.66 130.72 489.17 129.4 489.23 128.64C489.3 127.88 489.8 116.3 489.87 115.37C489.93 114.43 490.44 109.88 490.5 109.9C490.56 109.92 491.1 115.41 491.17 115.81C491.23 116.21 491.77 117.95 491.83 117.91C491.9 117.87 492.42 115.24 492.5 115C492.58 114.76 493.28 112.47 493.37 113.2C493.45 113.93 494.15 128.32 494.23 129.61C494.32 130.89 495.03 138.68 495.1 138.9C495.18 139.12 495.67 134.91 495.73 134.02C495.8 133.12 496.3 121.74 496.37 120.94C496.43 120.14 496.94 118.24 497 118C497.06 117.76 497.57 115.64 497.63 116.2C497.7 116.76 498.2 128.89 498.27 129.23C498.33 129.57 498.84 123.56 498.9 123C498.96 122.44 499.44 118.74 499.5 117.96C499.56 117.17 500.04 107.83 500.1 107.24C500.16 106.66 500.64 106.34 500.7 106.2C500.76 106.06 501.24 104.11 501.3 104.4C501.36 104.69 501.84 111.4 501.9 112.03C501.96 112.66 502.44 116.5 502.5 117C502.56 117.5 503.1 122.23 503.17 121.97C503.23 121.71 503.77 112.22 503.83 111.8C503.9 111.38 504.44 112.78 504.5 113.6C504.56 114.42 505.07 126.81 505.13 128.1C505.2 129.39 505.7 138.22 505.77 139.37C505.83 140.51 506.35 151.61 506.4 151C506.45 150.39 506.79 129.41 506.83 127.22C506.88 125.03 507.22 109.19 507.27 107.15C507.31 105.12 507.65 86.95 507.7 86.5C507.75 86.05 508.15 97.27 508.2 98.16C508.25 99.04 508.65 102.98 508.7 104.22C508.75 105.46 509.14 122.7 509.2 123C509.25 123.3 509.74 110.4 509.8 110.2C509.86 110 510.34 118.93 510.4 119.02C510.46 119.11 510.94 111.57 511 112C511.06 112.43 511.57 126.66 511.63 127.56C511.7 128.47 512.2 129.7 512.27 130.08C512.33 130.45 512.84 135.41 512.9 135.1C512.96 134.79 513.47 124.49 513.53 123.93C513.6 123.38 514.1 124.22 514.17 123.99C514.23 123.76 514.74 119.74 514.8 119.3C514.86 118.86 515.31 115.41 515.37 115.2C515.42 115 515.88 115.11 515.93 115.2C515.99 115.29 516.44 117 516.5 117C516.56 117 517.1 115.02 517.17 115.2C517.23 115.38 517.77 119.93 517.83 120.6C517.9 121.27 518.43 128.18 518.5 128.6C518.57 129.02 519.1 129.37 519.17 128.95C519.23 128.53 519.77 120.55 519.83 120.2C519.9 119.85 520.44 121.43 520.5 122C520.56 122.57 521.01 131.26 521.07 131.58C521.12 131.9 521.58 128.35 521.63 128.38C521.69 128.42 522.14 131.59 522.2 132.3C522.26 133.01 522.77 141.96 522.83 142.61C522.9 143.25 523.4 145.1 523.47 145.15C523.53 145.2 524 143.99 524.1 143.6C524.2 143.21 525.24 137.98 525.37 137.3C525.49 136.62 526.51 130.72 526.63 130.01C526.76 129.29 527.82 122.69 527.9 123C527.98 123.31 528.17 134.92 528.2 136.17C528.23 137.42 528.47 146.84 528.5 147.96C528.53 149.07 528.75 158 528.8 158.5C528.85 159 529.37 157.85 529.43 157.94C529.5 158.03 530 160.96 530.07 160.33C530.13 159.71 530.64 146.07 530.7 145.4C530.76 144.73 531.24 146.66 531.3 146.92C531.36 147.19 531.84 151.11 531.9 150.75C531.96 150.4 532.45 139.92 532.5 139.8C532.55 139.68 532.8 148.09 532.83 148.27C532.87 148.46 533.13 143.52 533.17 143.57C533.2 143.61 533.48 148.92 533.5 149.2" stroke="#5bbd57" stroke-width="1.7"/>
<path d="M457.9 87.8C457.97 87.5 459.13 82.34 459.3 81.8C459.47 81.25 461.1 76.75 461.3 76.9C461.5 77.05 463.1 84.01 463.3 84.8C463.5 85.59 465.1 92.25 465.3 92.7C465.5 93.15 467.08 93.87 467.3 93.7C467.52 93.53 469.5 89.51 469.7 89.3C469.89 89.09 471.02 89.28 471.2 89.5C471.38 89.72 472.97 93.05 473.2 93.7C473.43 94.36 475.47 102.48 475.7 102.6C475.93 102.71 477.56 96.74 477.8 96C478.05 95.26 480.36 88.36 480.6 87.8C480.84 87.24 482.43 84.86 482.6 84.8C482.77 84.73 483.83 85.66 484 86.5C484.17 87.34 485.8 100.59 486 101.6C486.2 102.6 487.77 106.55 488 106.6C488.23 106.65 490.23 102.99 490.5 102.6C490.77 102.2 493.25 99 493.5 98.7C493.75 98.41 495.22 96.64 495.4 96.7C495.57 96.77 496.82 99.36 497 100C497.18 100.64 498.71 109.25 498.9 109.5C499.09 109.75 500.57 105.55 500.8 105C501.03 104.45 503.19 98.81 503.4 98.5C503.61 98.19 504.8 98.47 505 98.8C505.2 99.12 507.25 104.38 507.5 105C507.75 105.62 509.75 111.25 510 111.3C510.25 111.35 512.3 106.42 512.5 106C512.7 105.58 513.81 103.23 514 103C514.19 102.77 516.07 101.1 516.3 101.3C516.52 101.5 518.28 106.25 518.5 107C518.72 107.75 520.5 115.46 520.7 116.3C520.9 117.14 522.32 123.61 522.5 123.8C522.68 123.98 524.18 120.28 524.4 120C524.62 119.72 526.65 118.07 526.9 118.2C527.15 118.33 529.15 121.88 529.4 122.6C529.65 123.32 531.62 132.41 531.9 132.6C532.18 132.78 534.8 126.88 535.1 126.3C535.4 125.72 537.69 121.41 538 121C538.31 120.59 541.04 118 541.3 118.2C541.56 118.41 542.98 124.06 543.2 125.1C543.42 126.13 545.51 137.78 545.7 138.9C545.89 140.03 546.81 147.91 547 147.6C547.19 147.28 549.32 133.79 549.5 132.6C549.68 131.41 550.55 123.99 550.7 123.8C550.86 123.61 552.41 127.86 552.6 128.8C552.79 129.74 554.34 141.59 554.5 142.6C554.66 143.6 555.64 149.09 555.8 148.9C555.95 148.72 557.4 139.59 557.6 138.9C557.8 138.21 559.58 135.63 559.8 135C560.02 134.37 561.83 126.98 562 126.3C562.17 125.61 563.17 121.42 563.3 121.3C563.42 121.17 564.35 122.73 564.5 123.8C564.65 124.86 566.24 141.28 566.4 142.6C566.56 143.91 567.63 149.72 567.7 150.1" stroke="#f07b22" stroke-width="1.7"/>
<path d="M339.6 36.4C339.9 37.38 340.03 42.05 341.4 42.3C342.77 42.55 345.9 37.73 347.8 37.9C349.7 38.07 350.9 43.3 352.8 43.3C354.7 43.3 357.55 37.4 359.2 37.9C360.85 38.4 360.8 45.88 362.7 46.3C364.6 46.72 368.47 39.9 370.6 40.4C372.73 40.9 373.68 48.82 375.5 49.3C377.32 49.78 379.77 42.32 381.5 43.3C383.23 44.28 384.12 54 385.9 55.2C387.68 56.4 390.37 49.4 392.2 50.5C394.03 51.6 394.97 60.57 396.9 61.8C398.83 63.03 401.98 56.92 403.8 57.9C405.62 58.88 406.07 66.72 407.8 67.7C409.53 68.68 412.3 63.22 414.2 63.8C416.1 64.38 417.22 70.78 419.2 71.2C421.18 71.62 424.05 65.38 426.1 66.3C428.15 67.22 429.77 75.72 431.5 76.7C433.23 77.68 434.85 71.13 436.5 72.2C438.15 73.27 439.4 82.38 441.4 83.1C443.4 83.82 446.58 76.38 448.5 76.5C450.42 76.62 451.1 83.48 452.9 83.8C454.7 84.12 457.48 77.98 459.3 78.4C461.12 78.82 462.07 85.73 463.8 86.3C465.53 86.87 467.88 80.65 469.7 81.8C471.52 82.95 472.72 92.12 474.7 93.2C476.68 94.28 479.55 87.07 481.6 88.3C483.65 89.53 485.1 99.28 487 100.6C488.9 101.92 491.18 95.62 493 96.2C494.82 96.78 496.17 103.52 497.9 104.1C499.63 104.68 501.58 98.6 503.4 99.7C505.22 100.8 507.07 109.7 508.8 110.7C510.53 111.7 512.03 104.55 513.8 105.7C515.57 106.85 517.53 116.05 519.4 117.6C521.27 119.15 523.12 113.65 525 115C526.88 116.35 528.7 124.23 530.7 125.7C532.7 127.17 535.02 122.65 537 123.8C538.98 124.95 540.73 131.87 542.6 132.6C544.47 133.33 546.32 127.27 548.2 128.2C550.08 129.13 552.12 137.15 553.9 138.2C555.68 139.25 557.13 133.23 558.9 134.5C560.67 135.77 562.82 144.22 564.5 145.8C566.18 147.38 568.25 144.3 569 144" stroke="#5d6d8e" stroke-width="2.0"/>
</g>
<rect x="333.5" y="18.5" width="234" height="184" fill="none" stroke="#bcc3d3" stroke-width="1"/>
<line x1="339.6" y1="203" x2="339.6" y2="207.5" stroke="#c3cad8" stroke-width="1"/>
<line x1="395.19" y1="203" x2="395.19" y2="207.5" stroke="#c3cad8" stroke-width="1"/>
<line x1="450.78" y1="203" x2="450.78" y2="207.5" stroke="#c3cad8" stroke-width="1"/>
<line x1="506.37" y1="203" x2="506.37" y2="207.5" stroke="#c3cad8" stroke-width="1"/>
<line x1="561.96" y1="203" x2="561.96" y2="207.5" stroke="#c3cad8" stroke-width="1"/>
<path d="M336.4 33.9L341.4 38.9M336.4 38.9L341.4 33.9" stroke="#ca404a" stroke-width="1.6" fill="none"/>
<path d="M559.5 113.2L564.5 118.2M559.5 118.2L564.5 113.2" stroke="#ca404a" stroke-width="1.6" fill="none"/>
<g clip-path="url(#cP3)" fill="none" stroke-linejoin="round" stroke-linecap="round">
<path d="M57.5 271.4C57.7 271.11 59.16 268.94 59.5 268.54C59.84 268.13 60.41 266.62 60.9 267.31C61.39 268.01 63.21 275.28 64.4 275.5C65.59 275.73 71.66 269.63 72.8 269.55C73.94 269.47 74.71 274.75 75.8 274.72C76.89 274.7 82.61 269.09 83.7 269.34C84.79 269.58 85.76 276.88 86.7 277.18C87.64 277.48 92.02 272 93.1 272.3C94.18 272.6 96.36 279.95 97.5 280.16C98.64 280.36 103.36 273.92 104.5 274.35C105.64 274.79 107.76 283.99 108.9 284.49C110.04 284.98 114.8 279.1 115.9 279.27C117 279.43 118.81 286.01 119.9 286.13C120.99 286.25 125.66 280.12 126.8 280.44C127.94 280.77 130.21 289.14 131.3 289.34C132.39 289.55 136.62 282.46 137.7 282.5C138.78 282.54 140.96 289.66 142.1 289.72C143.24 289.79 147.86 282.77 149.1 283.11C150.34 283.45 153.37 292.55 154.5 293.14C155.63 293.72 159.31 288.78 160.4 288.98C161.49 289.19 164.35 295.03 165.4 295.18C166.45 295.32 169.85 290 170.9 290.42C171.95 290.85 174.71 298.9 175.9 299.41C177.09 299.93 181.66 295.25 182.8 295.56C183.94 295.88 186.21 302.44 187.3 302.56C188.39 302.67 192.62 296.44 193.7 296.69C194.78 296.95 197.01 304.49 198.1 305.1C199.19 305.71 203.53 302.4 204.6 302.82C205.67 303.24 207.66 308.95 208.8 309.31C209.94 309.67 214.8 305.55 216 306.46C217.2 307.37 219.61 317.65 220.8 318.38C221.99 319.11 226.82 313.51 227.9 313.75C228.98 313.99 230.56 320.31 231.6 320.78C232.64 321.25 237.11 317.82 238.3 318.43C239.49 319.04 242.35 326.21 243.5 326.86C244.65 327.52 248.74 324.05 249.8 324.94C250.86 325.82 253.04 335.11 254.1 335.69C255.16 336.26 259.33 330.35 260.4 330.68C261.47 331.01 263.74 338.53 264.8 338.95C265.86 339.37 269.88 334.65 271 334.88C272.12 335.1 274.87 341.01 276 341.19C277.13 341.37 281.36 336.2 282.3 336.67C283.24 337.13 284.93 344.33 285.4 345.81C285.87 347.29 286.84 350.89 287 351.45" stroke="#c6ccda" stroke-width="1.7"/>
<path d="M57.5 271.4C57.7 271.13 59.16 268.94 59.5 268.65C59.84 268.37 60.41 267.76 60.9 268.54C61.39 269.32 63.21 276.26 64.4 276.43C65.59 276.61 71.66 270.24 72.8 270.33C73.94 270.41 74.71 277.19 75.8 277.28C76.89 277.36 82.61 271.01 83.7 271.19C84.79 271.37 85.76 279 86.7 279.08C87.64 279.16 92.02 271.67 93.1 271.96C94.18 272.26 96.36 281.7 97.5 282.02C98.64 282.34 103.36 274.69 104.5 275.19C105.64 275.68 107.76 286.3 108.9 286.98C110.04 287.65 114.8 281.8 115.9 281.9C117 282 118.81 287.88 119.9 287.98C120.99 288.07 125.66 282.55 126.8 282.85C127.94 283.15 130.21 290.71 131.3 290.99C132.39 291.26 136.62 285.59 137.7 285.6C138.78 285.6 140.96 291.01 142.1 291.02C143.24 291.02 147.86 285.12 149.1 285.68C150.34 286.24 153.37 295.96 154.5 296.6C155.63 297.23 159.31 291.96 160.4 292.03C161.49 292.09 164.35 297.07 165.4 297.25C166.45 297.44 169.85 293.29 170.9 293.89C171.95 294.49 174.71 302.76 175.9 303.23C177.09 303.71 181.66 298.32 182.8 298.61C183.94 298.9 186.21 305.98 187.3 306.1C188.39 306.22 192.62 299.54 193.7 299.82C194.78 300.11 197.01 308.42 198.1 308.96C199.19 309.5 203.53 304.75 204.6 305.24C205.67 305.73 207.66 313.41 208.8 313.88C209.94 314.34 214.8 309.17 216 309.89C217.2 310.61 219.61 320.45 220.8 321.04C221.99 321.63 226.82 315.39 227.9 315.76C228.98 316.13 230.56 324.14 231.6 324.72C232.64 325.29 237.11 320.8 238.3 321.5C239.49 322.2 242.35 331.02 243.5 331.67C244.65 332.32 248.74 327.22 249.8 327.99C250.86 328.76 253.04 338.78 254.1 339.41C255.16 340.04 259.33 334.04 260.4 334.25C261.47 334.46 263.74 341.23 264.8 341.53C265.86 341.82 269.88 336.87 271 337.24C272.12 337.61 274.87 345.01 276 345.24C277.13 345.47 281.36 339.22 282.3 339.56C283.24 339.9 284.93 347.12 285.4 348.61C285.87 350.1 286.84 353.85 287 354.43" stroke="#c6ccda" stroke-width="1.7"/>
<path d="M57.5 271.4C57.7 271.08 59.16 268.61 59.5 268.22C59.84 267.83 60.41 266.44 60.9 267.48C61.39 268.53 63.21 278.04 64.4 278.63C65.59 279.21 71.66 273.19 72.8 273.36C73.94 273.52 74.71 280.24 75.8 280.25C76.89 280.26 82.61 273.18 83.7 273.42C84.79 273.67 85.76 282.48 86.7 282.68C87.64 282.87 92.02 275.03 93.1 275.37C94.18 275.7 96.36 285.54 97.5 286.01C98.64 286.48 103.36 279.63 104.5 280.1C105.64 280.58 107.76 290.24 108.9 290.78C110.04 291.31 114.8 285.18 115.9 285.45C117 285.72 118.81 293.3 119.9 293.45C120.99 293.6 125.66 286.58 126.8 286.92C127.94 287.26 130.21 296.4 131.3 296.84C132.39 297.28 136.62 291.09 137.7 291.29C138.78 291.48 140.96 298.7 142.1 298.79C143.24 298.87 147.86 291.84 149.1 292.16C150.34 292.49 153.37 301.48 154.5 302C155.63 302.52 159.31 297.04 160.4 297.36C161.49 297.68 164.35 304.89 165.4 305.24C166.45 305.59 169.85 300.43 170.9 300.86C171.95 301.28 174.71 308.97 175.9 309.52C177.09 310.08 181.66 306.01 182.8 306.43C183.94 306.85 186.21 313.7 187.3 313.7C188.39 313.71 192.62 306.26 193.7 306.47C194.78 306.69 197.01 315.27 198.1 315.82C199.19 316.36 203.53 311.43 204.6 311.89C205.67 312.35 207.66 319.96 208.8 320.4C209.94 320.84 214.8 315.38 216 316.28C217.2 317.18 219.61 328.81 220.8 329.43C221.99 330.04 226.82 322.28 227.9 322.43C228.98 322.57 230.56 330.43 231.6 330.87C232.64 331.31 237.11 326.01 238.3 326.79C239.49 327.57 242.35 338.02 243.5 338.66C244.65 339.31 248.74 332.43 249.8 333.23C250.86 334.03 253.04 346.01 254.1 346.66C255.16 347.32 259.33 339.58 260.4 339.76C261.47 339.93 263.74 348.12 264.8 348.46C265.86 348.79 269.88 342.73 271 343.08C272.12 343.43 274.87 351.66 276 351.98C277.13 352.3 281.36 345.94 282.3 346.26C283.24 346.57 284.93 353.64 285.4 355.11C285.87 356.58 286.84 360.36 287 360.94" stroke="#c6ccda" stroke-width="1.7"/>
<path d="M57.5 271.4C57.7 271.14 59.16 269.01 59.5 268.79C59.84 268.58 60.41 267.96 60.9 269.25C61.39 270.53 63.21 281.05 64.4 281.61C65.59 282.16 71.66 274.75 72.8 274.81C73.94 274.87 74.71 282.14 75.8 282.2C76.89 282.27 82.61 275.16 83.7 275.49C84.79 275.81 85.76 285.13 86.7 285.46C87.64 285.78 92.02 278.26 93.1 278.75C94.18 279.25 96.36 289.96 97.5 290.42C98.64 290.88 103.36 282.84 104.5 283.35C105.64 283.86 107.76 294.89 108.9 295.5C110.04 296.11 114.8 289.19 115.9 289.44C117 289.69 118.81 297.91 119.9 297.98C120.99 298.04 125.66 289.76 126.8 290.1C127.94 290.44 130.21 300.88 131.3 301.38C132.39 301.89 136.62 294.96 137.7 295.15C138.78 295.35 140.96 303.17 142.1 303.34C143.24 303.51 147.86 296.31 149.1 296.87C150.34 297.44 153.37 308.32 154.5 309C155.63 309.69 159.31 303.34 160.4 303.73C161.49 304.12 164.35 312.58 165.4 312.93C166.45 313.27 169.85 306.69 170.9 307.18C171.95 307.67 174.71 317.23 175.9 317.85C177.09 318.47 181.66 313.08 182.8 313.4C183.94 313.72 186.21 320.88 187.3 321.04C188.39 321.2 192.62 314.88 193.7 315.02C194.78 315.17 197.01 322.05 198.1 322.5C199.19 322.94 203.53 319.05 204.6 319.51C205.67 319.97 207.66 326.78 208.8 327.08C209.94 327.38 214.8 321.62 216 322.47C217.2 323.32 219.61 334.89 220.8 335.57C221.99 336.25 226.82 329.09 227.9 329.27C228.98 329.45 230.56 337.04 231.6 337.39C232.64 337.73 237.11 331.98 238.3 332.72C239.49 333.45 242.35 344.17 243.5 344.75C244.65 345.33 248.74 337.8 249.8 338.55C250.86 339.3 253.04 351.4 254.1 352.22C255.16 353.03 259.33 346.46 260.4 346.7C261.47 346.94 263.74 354.22 264.8 354.62C265.86 355.02 269.88 350.34 271 350.69C272.12 351.04 274.87 357.89 276 358.13C277.13 358.36 281.36 352.7 282.3 353.04C283.24 353.38 284.93 360.08 285.4 361.5C285.87 362.93 286.84 366.73 287 367.31" stroke="#c6ccda" stroke-width="1.7"/>
<path d="M57.5 271.4C57.7 271.19 59.16 269.44 59.5 269.27C59.84 269.1 60.41 268.45 60.9 269.69C61.39 270.93 63.21 280.91 64.4 281.68C65.59 282.44 71.66 277.13 72.8 277.38C73.94 277.62 74.71 283.98 75.8 284.11C76.89 284.23 82.61 278.25 83.7 278.67C84.79 279.08 85.76 288.09 86.7 288.27C87.64 288.45 92.02 280.04 93.1 280.47C94.18 280.89 96.36 292.03 97.5 292.53C98.64 293.04 103.36 284.9 104.5 285.49C105.64 286.09 107.76 297.78 108.9 298.52C110.04 299.26 114.8 292.62 115.9 292.9C117 293.18 118.81 301.14 119.9 301.28C120.99 301.43 125.66 293.86 126.8 294.34C127.94 294.82 130.21 305.62 131.3 306.09C132.39 306.56 136.62 298.85 137.7 299.05C138.78 299.25 140.96 307.88 142.1 308.1C143.24 308.32 147.86 300.72 149.1 301.25C150.34 301.78 153.37 312.62 154.5 313.4C155.63 314.18 159.31 308.71 160.4 309.05C161.49 309.4 164.35 316.46 165.4 316.84C166.45 317.21 169.85 312.15 170.9 312.8C171.95 313.46 174.71 322.75 175.9 323.36C177.09 323.98 181.66 318.63 182.8 318.93C183.94 319.23 186.21 326.33 187.3 326.34C188.39 326.36 192.62 318.78 193.7 319.06C194.78 319.34 197.01 328.66 198.1 329.14C199.19 329.63 203.53 323.56 204.6 323.89C205.67 324.22 207.66 332.1 208.8 332.44C209.94 332.77 214.8 326.49 216 327.26C217.2 328.03 219.61 339.53 220.8 340.14C221.99 340.74 226.82 333.18 227.9 333.29C228.98 333.4 230.56 340.86 231.6 341.23C232.64 341.6 237.11 336.37 238.3 336.99C239.49 337.62 242.35 346.89 243.5 347.49C244.65 348.09 248.74 342.1 249.8 342.99C250.86 343.89 253.04 355.58 254.1 356.41C255.16 357.25 259.33 350.98 260.4 351.36C261.47 351.75 263.74 360.09 264.8 360.28C265.86 360.46 269.88 353 271 353.22C272.12 353.44 274.87 362.16 276 362.48C277.13 362.8 281.36 356.09 282.3 356.41C283.24 356.73 284.93 364.07 285.4 365.68C285.87 367.29 286.84 371.83 287 372.51" stroke="#c6ccda" stroke-width="1.7"/>
<path d="M57.5 271.4C57.7 271.27 59.16 270.13 59.5 270.05C59.84 269.98 60.41 269.44 60.9 270.66C61.39 271.87 63.21 281.43 64.4 282.18C65.59 282.93 71.66 277.77 72.8 278.15C73.94 278.54 74.71 285.67 75.8 286C76.89 286.33 82.61 281.08 83.7 281.44C84.79 281.8 85.76 289.3 86.7 289.56C87.64 289.83 92.02 283.58 93.1 284.1C94.18 284.63 96.36 294.27 97.5 294.81C98.64 295.36 103.36 288.87 104.5 289.54C105.64 290.2 107.76 300.8 108.9 301.46C110.04 302.13 114.8 296.01 115.9 296.18C117 296.36 118.81 303.04 119.9 303.2C120.99 303.36 125.66 297.31 126.8 297.78C127.94 298.26 130.21 307.28 131.3 307.96C132.39 308.64 136.62 304.27 137.7 304.62C138.78 304.96 140.96 311.19 142.1 311.41C143.24 311.62 147.86 306.1 149.1 306.79C150.34 307.47 153.37 317.54 154.5 318.27C155.63 319.01 159.31 313.64 160.4 314.15C161.49 314.67 164.35 323.02 165.4 323.42C166.45 323.82 169.85 317.68 170.9 318.17C171.95 318.67 174.71 327.73 175.9 328.35C177.09 328.97 181.66 324.07 182.8 324.39C183.94 324.71 186.21 331.48 187.3 331.54C188.39 331.61 192.62 324.74 193.7 325.04C194.78 325.34 197.01 334.06 198.1 334.55C199.19 335.03 203.53 329.6 204.6 329.85C205.67 330.11 207.66 336.83 208.8 337.11C209.94 337.38 214.8 331.91 216 332.58C217.2 333.25 219.61 343.15 220.8 343.8C221.99 344.44 226.82 338.81 227.9 339.06C228.98 339.31 230.56 345.97 231.6 346.34C232.64 346.71 237.11 342.1 238.3 342.77C239.49 343.43 242.35 352.34 243.5 352.95C244.65 353.56 248.74 348.06 249.8 348.83C250.86 349.6 253.04 359.89 254.1 360.65C255.16 361.41 259.33 356.11 260.4 356.44C261.47 356.77 263.74 363.66 264.8 363.96C265.86 364.26 269.88 359.13 271 359.41C272.12 359.7 274.87 366.53 276 366.85C277.13 367.17 281.36 362.22 282.3 362.61C283.24 363.01 284.93 369.42 285.4 370.77C285.87 372.13 286.84 375.63 287 376.17" stroke="#c6ccda" stroke-width="1.7"/>
<path d="M57.5 271.4C57.7 271.26 59.16 270.14 59.5 270.04C59.84 269.94 60.41 269.08 60.9 270.43C61.39 271.79 63.21 282.66 64.4 283.61C65.59 284.57 71.66 279.73 72.8 280.03C73.94 280.33 74.71 286.44 75.8 286.63C76.89 286.82 82.61 281.31 83.7 281.96C84.79 282.61 85.76 292.81 86.7 293.1C87.64 293.39 92.02 284.33 93.1 284.85C94.18 285.37 96.36 297.63 97.5 298.26C98.64 298.89 103.36 290.64 104.5 291.13C105.64 291.62 107.76 302.51 108.9 303.16C110.04 303.81 114.8 297.37 115.9 297.63C117 297.89 118.81 305.6 119.9 305.76C120.99 305.92 125.66 298.6 126.8 299.23C127.94 299.86 130.21 311.51 131.3 312.09C132.39 312.66 136.62 304.6 137.7 304.98C138.78 305.36 140.96 315.51 142.1 315.88C143.24 316.25 147.86 308.03 149.1 308.69C150.34 309.35 153.37 321.67 154.5 322.48C155.63 323.29 159.31 316.54 160.4 316.81C161.49 317.08 164.35 324.75 165.4 325.15C166.45 325.56 169.85 320.15 170.9 320.87C171.95 321.59 174.71 331.77 175.9 332.37C177.09 332.96 181.66 326.6 182.8 326.86C183.94 327.12 186.21 334.79 187.3 334.97C188.39 335.15 192.62 328.39 193.7 328.65C194.78 328.91 197.01 337.2 198.1 337.53C199.19 337.86 203.53 331.63 204.6 331.95C205.67 332.27 207.66 340.33 208.8 340.73C209.94 341.13 214.8 335.19 216 335.93C217.2 336.68 219.61 347.58 220.8 348.16C221.99 348.74 226.82 341.55 227.9 341.76C228.98 341.97 230.56 349.97 231.6 350.26C232.64 350.55 237.11 344.17 238.3 344.7C239.49 345.22 242.35 354.99 243.5 355.52C244.65 356.04 248.74 349.02 249.8 349.93C250.86 350.85 253.04 363.75 254.1 364.65C255.16 365.54 259.33 358.61 260.4 358.9C261.47 359.19 263.74 367.21 264.8 367.54C265.86 367.88 269.88 362.02 271 362.26C272.12 362.51 274.87 369.81 276 370.02C277.13 370.23 281.36 363.99 282.3 364.36C283.24 364.73 284.93 372.19 285.4 373.74C285.87 375.29 286.84 379.24 287 379.85" stroke="#c6ccda" stroke-width="1.7"/>
<path d="M57.5 271.4C57.7 271.3 59.16 270.43 59.5 270.38C59.84 270.33 60.41 269.61 60.9 270.9C61.39 272.19 63.21 282.27 64.4 283.32C65.59 284.36 71.66 280.85 72.8 281.34C73.94 281.83 74.71 287.79 75.8 288.19C76.89 288.59 82.61 284.8 83.7 285.36C84.79 285.93 85.76 293.59 86.7 293.81C87.64 294.02 92.02 286.96 93.1 287.48C94.18 288 96.36 298.39 97.5 299.02C98.64 299.65 103.36 293.21 104.5 293.74C105.64 294.27 107.76 303.62 108.9 304.32C110.04 305.01 114.8 300.36 115.9 300.69C117 301.02 118.81 307.62 119.9 307.65C120.99 307.67 125.66 300.4 126.8 300.95C127.94 301.51 130.21 312.45 131.3 313.18C132.39 313.92 136.62 307.85 137.7 308.31C138.78 308.78 140.96 317.48 142.1 317.86C143.24 318.25 147.86 311.6 149.1 312.19C150.34 312.78 153.37 322.81 154.5 323.73C155.63 324.65 159.31 320.89 160.4 321.38C161.49 321.87 164.35 328.24 165.4 328.64C166.45 329.04 169.85 324.68 170.9 325.41C171.95 326.14 174.71 335.27 175.9 335.89C177.09 336.51 181.66 331.3 182.8 331.58C183.94 331.85 186.21 338.55 187.3 338.67C188.39 338.79 192.62 332.55 193.7 332.81C194.78 333.07 197.01 340.9 198.1 341.25C199.19 341.6 203.53 336.05 204.6 336.35C205.67 336.66 207.66 343.93 208.8 344.28C209.94 344.63 214.8 339.1 216 339.87C217.2 340.64 219.61 351.47 220.8 351.97C221.99 352.47 226.82 344.9 227.9 344.88C228.98 344.85 230.56 351.32 231.6 351.71C232.64 352.1 237.11 348.11 238.3 348.76C239.49 349.41 242.35 357.65 243.5 358.23C244.65 358.81 248.74 353.68 249.8 354.54C250.86 355.41 253.04 366.09 254.1 366.91C255.16 367.72 259.33 362.4 260.4 362.67C261.47 362.94 263.74 369.32 264.8 369.61C265.86 369.9 269.88 365.4 271 365.6C272.12 365.79 274.87 371.33 276 371.53C277.13 371.74 281.36 367.03 282.3 367.64C283.24 368.25 284.93 376.19 285.4 377.66C285.87 379.12 286.84 381.82 287 382.28" stroke="#c6ccda" stroke-width="1.7"/>
<path d="M83.2 274.9C83.26 274.97 83.98 276.05 84.1 275.99C84.22 275.93 84.88 274.2 85 274C85.12 273.8 85.74 273.02 85.85 272.98C85.96 272.94 86.61 273.22 86.7 273.4C86.79 273.58 87.18 275.43 87.25 275.61C87.32 275.78 87.72 276 87.8 276C87.88 276 88.36 275.46 88.45 275.58C88.54 275.7 89.01 277.47 89.1 277.8C89.19 278.13 89.75 280.38 89.85 280.55C89.95 280.72 90.5 280.4 90.6 280.3C90.7 280.2 91.21 279.13 91.3 279.08C91.39 279.03 91.9 279.79 92 279.5C92.1 279.21 92.69 275.21 92.8 274.71C92.91 274.2 93.48 272.06 93.6 271.9C93.72 271.74 94.47 272.13 94.6 272.3C94.73 272.47 95.5 274.35 95.6 274.4C95.7 274.45 95.99 273.05 96.05 272.98C96.11 272.91 96.4 273.1 96.5 273.4C96.6 273.7 97.37 277.15 97.5 277.54C97.63 277.94 98.38 279.21 98.5 279.3C98.62 279.39 99.15 278.71 99.25 278.88C99.35 279.05 99.9 281.63 100 281.8C100.1 281.97 100.65 281.27 100.75 281.47C100.85 281.67 101.4 284.69 101.5 284.8C101.6 284.91 102.15 283.23 102.25 283.11C102.35 282.99 102.88 282.85 103 283C103.12 283.15 103.87 285.21 104 285.39C104.13 285.57 104.89 285.89 105 285.7C105.11 285.51 105.61 282.87 105.7 282.61C105.79 282.35 106.3 281.6 106.4 281.8C106.5 282 107.09 285.54 107.2 285.68C107.31 285.83 107.9 284.04 108 284C108.1 283.96 108.61 284.92 108.7 285.07C108.79 285.21 109.33 286.13 109.4 286.2C109.47 286.27 109.66 286.1 109.7 286.15C109.74 286.19 109.93 286.78 110 286.9C110.07 287.02 110.61 287.87 110.7 287.93C110.79 287.98 111.3 287.52 111.4 287.7C111.5 287.88 112.09 290.16 112.2 290.57C112.31 290.97 112.91 293.73 113 293.8C113.09 293.87 113.43 291.7 113.5 291.58C113.57 291.46 113.92 292.13 114 292C114.08 291.87 114.61 289.89 114.7 289.68C114.79 289.47 115.31 288.9 115.4 288.9C115.49 288.9 115.92 289.61 116 289.68C116.08 289.76 116.52 289.89 116.6 290C116.68 290.11 117.16 291.51 117.25 291.41C117.34 291.3 117.81 288.36 117.9 288.4C117.99 288.44 118.55 291.54 118.65 291.97C118.75 292.4 119.3 294.5 119.4 294.8C119.5 295.1 120.05 296.33 120.15 296.47C120.25 296.6 120.8 296.89 120.9 296.8C121 296.71 121.51 295.17 121.6 295.08C121.69 294.99 122.2 295.44 122.3 295.5C122.4 295.56 122.95 295.91 123.05 296.03C123.15 296.15 123.68 297.29 123.8 297.3C123.92 297.31 124.75 296.26 124.9 296.11C125.05 295.96 125.85 294.96 126 295C126.15 295.04 127 296.77 127.15 296.66C127.3 296.56 128.17 293.4 128.3 293.4C128.43 293.4 128.95 296.54 129.05 296.68C129.15 296.82 129.7 295.49 129.8 295.5C129.9 295.51 130.45 296.66 130.55 296.82C130.65 296.97 131.15 297.59 131.3 297.8C131.45 298.01 132.56 299.84 132.75 300.04C132.94 300.24 134.04 300.78 134.2 300.8C134.36 300.82 134.98 300.36 135.1 300.3C135.22 300.25 135.87 300.05 136 300C136.13 299.95 136.95 299.53 137.1 299.58C137.25 299.63 138.06 300.87 138.2 300.8C138.34 300.73 139.07 298.87 139.2 298.57C139.33 298.27 140.09 296.38 140.2 296.3C140.31 296.22 140.81 297.16 140.9 297.37C140.99 297.59 141.5 299.2 141.6 299.5C141.7 299.8 142.25 301.56 142.35 301.8C142.45 302.05 143.02 302.96 143.1 303.2C143.18 303.44 143.53 305.24 143.6 305.4C143.67 305.57 144.01 305.79 144.1 305.7C144.19 305.61 144.84 304.25 144.95 304.07C145.06 303.89 145.68 302.94 145.8 303C145.92 303.06 146.58 304.86 146.7 304.91C146.82 304.96 147.48 303.81 147.6 303.7C147.72 303.59 148.34 303.19 148.45 303.28C148.56 303.37 149.19 304.93 149.3 305C149.41 305.07 150.04 304.45 150.15 304.37C150.26 304.28 150.89 303.65 151 303.7C151.11 303.75 151.69 304.98 151.8 305.13C151.91 305.28 152.48 305.92 152.6 306C152.72 306.08 153.42 305.9 153.55 306.28C153.68 306.66 154.39 311.24 154.5 311.7C154.61 312.16 155.15 313.14 155.25 313.22C155.35 313.31 155.9 312.73 156 313C156.1 313.27 156.65 316.87 156.75 317.31C156.85 317.75 157.42 319.42 157.5 319.6C157.58 319.78 157.93 320.28 158 320.01C158.07 319.74 158.4 315.96 158.5 315.6C158.6 315.24 159.32 314.67 159.45 314.54C159.58 314.4 160.29 313.69 160.4 313.6C160.51 313.51 161.05 313.41 161.15 313.25C161.25 313.09 161.79 311.23 161.9 311.2C162.01 311.17 162.64 312.68 162.75 312.77C162.86 312.85 163.48 312.55 163.6 312.5C163.72 312.45 164.38 311.97 164.5 312.08C164.62 312.19 165.3 313.93 165.4 314.1C165.5 314.27 165.88 314.61 165.95 314.62C166.02 314.63 166.43 314.28 166.5 314.3C166.57 314.32 166.89 314.58 166.95 314.93C167.01 315.28 167.33 319.55 167.4 319.6C167.47 319.65 167.88 316.19 167.95 315.61C168.02 315.02 168.43 310.9 168.5 310.8C168.57 310.7 168.93 313.77 169 314.07C169.07 314.37 169.37 315.16 169.5 315.3C169.63 315.44 170.76 316.12 170.95 316.19C171.14 316.25 172.25 316.32 172.4 316.3C172.55 316.28 173.09 315.63 173.2 315.88C173.31 316.13 173.88 319.43 174 320C174.12 320.57 174.82 324.09 174.95 324.4C175.08 324.72 175.77 324.61 175.9 324.7C176.03 324.79 176.72 325.69 176.85 325.78C176.98 325.87 177.67 325.87 177.8 326C177.93 326.13 178.67 327.71 178.8 327.75C178.93 327.8 179.68 326.6 179.8 326.7C179.92 326.8 180.45 328.73 180.55 329.19C180.65 329.65 181.19 333.53 181.3 333.6C181.41 333.67 182.04 330.63 182.15 330.26C182.26 329.88 182.88 328.15 183 328C183.12 327.85 183.78 328.41 183.9 328.02C184.02 327.64 184.69 322.56 184.8 322.2C184.91 321.84 185.45 322.58 185.55 322.68C185.65 322.78 186.2 323.44 186.3 323.7C186.4 323.96 186.95 326.09 187.05 326.55C187.15 327.01 187.69 330.3 187.8 330.6C187.91 330.9 188.62 330.95 188.75 331.08C188.88 331.21 189.57 332.57 189.7 332.6C189.83 332.63 190.57 331.84 190.7 331.51C190.83 331.17 191.57 328.08 191.7 327.6C191.83 327.12 192.57 324.47 192.7 324.28C192.83 324.09 193.57 324.7 193.7 324.7C193.83 324.7 194.57 324.28 194.7 324.28C194.83 324.28 195.57 324.62 195.7 324.7C195.83 324.78 196.52 325.15 196.65 325.41C196.78 325.67 197.47 328.02 197.6 328.6C197.73 329.18 198.47 333.85 198.6 334.11C198.73 334.38 199.47 332.67 199.6 332.6C199.73 332.53 200.47 333.26 200.6 333.12C200.73 332.99 201.47 330.71 201.6 330.6C201.73 330.49 202.42 331.35 202.55 331.45C202.68 331.54 203.37 331.92 203.5 332C203.63 332.08 204.41 332.59 204.55 332.63C204.69 332.67 205.47 332.59 205.6 332.6C205.73 332.61 206.42 332.72 206.55 332.79C206.68 332.85 207.35 333.49 207.5 333.6C207.65 333.71 208.58 334.24 208.75 334.44C208.92 334.63 209.85 336.31 210 336.5C210.15 336.69 210.87 337.14 211 337.27C211.13 337.4 211.85 338.38 212 338.5C212.15 338.62 213.08 339.3 213.25 339.04C213.42 338.78 214.35 335.01 214.5 334.6C214.65 334.19 215.32 333.11 215.45 332.94C215.58 332.78 216.27 332.2 216.4 332.1C216.53 332 217.27 331.51 217.4 331.48C217.53 331.44 218.27 331.46 218.4 331.6C218.53 331.74 219.27 333.34 219.4 333.54C219.53 333.74 220.27 334.31 220.4 334.6C220.53 334.89 221.27 337.72 221.4 337.88C221.53 338.04 222.27 336.96 222.4 337C222.53 337.04 223.22 338.33 223.35 338.43C223.48 338.53 224.18 338.72 224.3 338.5C224.42 338.28 225.04 335.37 225.15 335.11C225.26 334.86 225.88 334.78 226 334.7C226.12 334.62 226.87 334.06 227 333.94C227.13 333.83 227.87 333.1 228 333C228.13 332.9 228.87 332.47 229 332.39C229.13 332.3 229.87 331.77 230 331.7C230.13 331.63 230.87 331.09 231 331.28C231.13 331.47 231.87 334.25 232 334.5C232.13 334.75 232.82 334.81 232.95 335.01C233.08 335.22 233.77 337.24 233.9 337.6C234.03 337.96 234.77 340.04 234.9 340.34C235.03 340.64 235.77 342.13 235.9 342.1C236.03 342.07 236.72 340.16 236.85 339.95C236.98 339.74 237.67 338.98 237.8 339C237.93 339.02 238.67 340.37 238.8 340.21C238.93 340.06 239.63 336.8 239.8 336.7C239.97 336.6 241.1 338.46 241.3 338.65C241.5 338.84 242.7 339.54 242.8 339.6" stroke="#14509f" stroke-width="1.7"/>
<path d="M87.1 284.8C87.13 285.24 87.53 290.48 87.6 291.47C87.67 292.46 88.03 299.29 88.1 299.6C88.17 299.91 88.62 296.63 88.7 296.19C88.78 295.75 89.22 293.45 89.3 293C89.38 292.55 89.86 289.69 89.95 289.4C90.04 289.11 90.52 288.49 90.6 288.7C90.68 288.91 91.03 291.94 91.1 292.6C91.17 293.26 91.53 298.74 91.6 298.6C91.67 298.46 92.03 291.71 92.1 290.45C92.17 289.2 92.53 280.41 92.6 279.8C92.67 279.19 93.12 281.1 93.2 281.31C93.28 281.52 93.72 282.92 93.8 283C93.88 283.08 94.32 282.25 94.4 282.52C94.48 282.79 94.91 286.69 95 287C95.09 287.31 95.65 286.9 95.75 287.21C95.85 287.52 96.42 291.24 96.5 291.7C96.58 292.16 96.93 293.91 97 294.1C97.07 294.3 97.43 294.52 97.5 294.6C97.57 294.68 97.93 294.96 98 295.29C98.07 295.62 98.4 299.54 98.5 299.6C98.6 299.66 99.37 296.57 99.5 296.17C99.63 295.78 100.38 293.55 100.5 293.7C100.62 293.85 101.15 298.04 101.25 298.43C101.35 298.83 101.9 299.48 102 299.6C102.1 299.72 102.65 300.13 102.75 300.26C102.85 300.4 103.39 301.51 103.5 301.6C103.61 301.69 104.32 301.61 104.45 301.68C104.58 301.75 105.29 302.48 105.4 302.6C105.51 302.72 106.05 303.25 106.15 303.44C106.25 303.64 106.8 305.1 106.9 305.5C107 305.9 107.59 309.2 107.7 309.5C107.81 309.8 108.4 309.98 108.5 310C108.6 310.02 109.15 309.66 109.25 309.77C109.35 309.88 109.88 311.74 110 311.7C110.12 311.66 110.87 309.35 111 309.22C111.13 309.09 111.87 309.61 112 309.7C112.13 309.79 112.87 310.43 113 310.52C113.13 310.61 113.87 310.8 114 311C114.13 311.2 114.82 313.53 114.95 313.51C115.08 313.49 115.79 310.75 115.9 310.7C116.01 310.65 116.55 312.59 116.65 312.79C116.75 312.98 117.3 313.24 117.4 313.6C117.5 313.96 118.05 317.87 118.15 318.14C118.25 318.41 118.82 317.3 118.9 317.6C118.98 317.9 119.33 322.19 119.4 322.58C119.47 322.97 119.84 323.36 119.9 323.5C119.96 323.64 120.2 324.33 120.25 324.72C120.3 325.11 120.51 329.22 120.6 329.4C120.69 329.58 121.42 327.67 121.55 327.38C121.68 327.08 122.39 325.33 122.5 325C122.61 324.67 123.06 322.74 123.15 322.41C123.24 322.08 123.71 320.12 123.8 320C123.89 319.88 124.45 320.52 124.55 320.59C124.65 320.66 125.2 320.95 125.3 321C125.4 321.05 125.99 321.53 126.1 321.3C126.21 321.07 126.81 317.68 126.9 317.5C126.99 317.32 127.42 318.76 127.5 318.6C127.58 318.43 128.02 314.94 128.1 315C128.18 315.06 128.66 319.01 128.75 319.43C128.84 319.85 129.32 320.83 129.4 321.3C129.48 321.77 129.92 326.03 130 326.44C130.08 326.85 130.52 327.24 130.6 327.5C130.68 327.76 131.16 329.88 131.25 330.38C131.34 330.88 131.82 334.78 131.9 335C131.98 335.22 132.42 333.99 132.5 333.61C132.58 333.24 133 329.97 133.1 329.4C133.2 328.83 133.92 325.38 134.05 325.01C134.18 324.64 134.85 323.87 135 323.8C135.15 323.73 136.08 323.87 136.25 323.95C136.42 324.03 137.33 324.96 137.5 325C137.67 325.04 138.58 324.52 138.75 324.52C138.92 324.52 139.85 324.54 140 325C140.15 325.46 140.82 330.89 140.95 331.48C141.08 332.07 141.77 333.48 141.9 333.8C142.03 334.12 142.72 335.91 142.85 336.33C142.98 336.74 143.68 339.87 143.8 340C143.92 340.13 144.58 338.66 144.7 338.25C144.82 337.84 145.46 334.56 145.6 333.8C145.74 333.04 146.68 327.5 146.85 326.83C147.02 326.16 147.95 323.76 148.1 323.8C148.25 323.84 148.92 326.99 149.05 327.4C149.18 327.82 149.89 329.52 150 330C150.11 330.48 150.56 334.18 150.65 334.6C150.74 335.02 151.22 335.98 151.3 336.3C151.38 336.62 151.82 339.07 151.9 339.45C151.98 339.83 152.42 341.53 152.5 342C152.58 342.47 153.06 345.92 153.15 346.46C153.24 346.99 153.72 349.74 153.8 350C153.88 350.26 154.32 350.4 154.4 350.4C154.48 350.4 154.92 349.77 155 350C155.08 350.23 155.56 353.31 155.65 353.81C155.74 354.31 156.2 357.7 156.3 357.5C156.4 357.3 157.08 351.65 157.2 350.82C157.32 349.99 157.98 345.55 158.1 345C158.22 344.45 158.92 342.72 159.05 342.55C159.18 342.38 159.89 342.33 160 342.5C160.11 342.67 160.65 344.97 160.75 345.07C160.85 345.17 161.4 343.82 161.5 344C161.6 344.18 162.19 347.34 162.3 347.83C162.41 348.32 163 350.88 163.1 351.3C163.2 351.72 163.66 353.75 163.75 354.09C163.84 354.42 164.32 356.18 164.4 356.3C164.48 356.42 164.88 356 164.95 355.85C165.02 355.69 165.42 354.09 165.5 354C165.58 353.91 166.11 354.24 166.2 354.56C166.29 354.88 166.81 359.03 166.9 358.8C166.99 358.57 167.42 351.89 167.5 351.13C167.58 350.38 168.02 347.72 168.1 347.5C168.18 347.28 168.66 347.46 168.75 347.76C168.84 348.06 169.31 351.66 169.4 352C169.49 352.34 169.96 353.13 170.05 352.84C170.14 352.54 170.59 348 170.7 347.6C170.81 347.2 171.52 346.89 171.65 346.83C171.78 346.76 172.51 346.18 172.6 346.6C172.69 347.02 172.99 352.42 173.05 353.11C173.11 353.81 173.41 356.55 173.5 357C173.59 357.45 174.32 359.17 174.45 359.93C174.58 360.69 175.27 367.65 175.4 368.4C175.53 369.15 176.22 370.8 176.35 371.24C176.48 371.68 177.17 374.7 177.3 375C177.43 375.3 178.12 375.71 178.25 375.77C178.38 375.83 179.14 375.89 179.2 375.9" stroke="#5bbd57" stroke-width="1.7"/>
<path d="M181.1 363.6C181.15 363.7 181.71 364.76 181.8 365.05C181.89 365.34 182.41 367.69 182.5 368C182.59 368.31 183.11 369.68 183.2 369.64C183.29 369.6 183.85 367.55 183.9 367.4" stroke="#5bbd57" stroke-width="1.7"/>
<path d="M185.8 372.1C185.89 372.61 187.01 378.69 187.2 379.76C187.39 380.83 188.41 387.98 188.6 388.2C188.79 388.42 189.86 383.73 190.05 383.03C190.24 382.34 191.34 378.36 191.5 377.8C191.66 377.24 192.32 375.27 192.45 374.58C192.58 373.88 193.31 367.79 193.4 367.4C193.49 367.01 193.79 368.94 193.85 368.76C193.91 368.57 194.24 364.58 194.3 364.6C194.36 364.62 194.73 368.52 194.8 369.01C194.87 369.51 195.24 371.9 195.3 372C195.36 372.1 195.69 370.66 195.75 370.54C195.81 370.42 196.13 369.85 196.2 370.2C196.27 370.55 196.76 375.03 196.85 375.82C196.94 376.6 197.41 381.02 197.5 382C197.59 382.98 198.15 389.65 198.25 390.51C198.35 391.36 198.92 395.12 199 394.8C199.08 394.48 199.43 386.69 199.5 385.69C199.57 384.68 199.9 380.07 200 379.7C200.1 379.33 200.82 379.88 200.95 380.13C201.08 380.39 201.77 383.31 201.9 383.5C202.03 383.69 202.72 382.92 202.85 383.02C202.98 383.12 203.68 384.67 203.8 385C203.92 385.33 204.58 387.79 204.7 387.94C204.82 388.1 205.48 387.17 205.6 387.3C205.72 387.43 206.42 389.72 206.55 389.97C206.68 390.21 207.44 390.93 207.5 391" stroke="#5bbd57" stroke-width="1.7"/>
<path d="M210.4 400.5C210.46 400.23 211.22 396.8 211.35 396.44C211.48 396.07 212.18 395.36 212.3 395C212.42 394.64 213.08 391.36 213.2 390.97C213.32 390.57 213.99 389.52 214.1 389.1C214.21 388.68 214.71 385.24 214.8 384.63C214.89 384.03 215.4 380.57 215.5 380C215.6 379.43 216.15 376.47 216.25 376.05C216.35 375.62 216.91 373.32 217 373.6C217.09 373.88 217.56 379.15 217.65 380.25C217.74 381.35 218.26 389.44 218.3 390.1" stroke="#5bbd57" stroke-width="1.7"/>
<path d="M219.6 398.6C219.64 398.67 220.16 399.37 220.25 399.68C220.34 399.99 220.81 403.34 220.9 403.3C220.99 403.26 221.51 399.58 221.6 399.05C221.69 398.52 222.21 395.65 222.3 395.3C222.39 394.95 222.86 393.82 222.95 393.73C223.04 393.65 223.51 394.05 223.6 394C223.69 393.95 224.21 393.14 224.3 393.01C224.39 392.87 224.91 392.3 225 392C225.09 391.7 225.52 388.92 225.6 388.52C225.68 388.13 226.12 386.58 226.2 386.1C226.28 385.62 226.76 381.87 226.85 381.39C226.94 380.91 227.41 378.82 227.5 378.9C227.59 378.98 228.11 382.21 228.2 382.6C228.29 382.99 228.85 384.65 228.9 384.8" stroke="#5bbd57" stroke-width="1.7"/>
<path d="M230.2 388.1C230.24 388.53 230.76 393.76 230.85 394.5C230.94 395.25 231.41 399.01 231.5 399.3C231.59 399.59 232.06 398.73 232.15 398.82C232.24 398.91 232.76 400.48 232.8 400.6" stroke="#5bbd57" stroke-width="1.7"/>
<path d="M234.8 390.1C234.82 390.46 235.06 394.86 235.1 395.52C235.14 396.18 235.29 399.77 235.4 400C235.51 400.23 236.57 398.98 236.75 398.93C236.93 398.88 238.01 399.28 238.1 399.3" stroke="#5bbd57" stroke-width="1.7"/>
<path d="M239.4 382.2C239.44 382.66 239.96 388 240.05 389.14C240.14 390.28 240.59 398.14 240.7 399.3C240.81 400.46 241.57 405.69 241.7 406.49C241.83 407.28 242.63 410.89 242.7 411.2" stroke="#5bbd57" stroke-width="1.7"/>
<path d="M245.3 401.9C245.32 402.68 245.6 412.09 245.65 413.59C245.7 415.09 245.95 424.61 246 424.4C246.05 424.19 246.3 412.47 246.35 410.49C246.4 408.51 246.61 395.52 246.7 394.7C246.79 393.88 247.52 397.58 247.65 398.15C247.78 398.72 248.47 403.14 248.6 403.3C248.73 403.46 249.47 401.32 249.6 400.57C249.73 399.81 250.49 392.1 250.6 392C250.71 391.9 251.16 398.3 251.25 399.14C251.34 399.98 251.86 404.24 251.9 404.6" stroke="#5bbd57" stroke-width="1.7"/>
<path d="M175.4 324.7C175.53 325.16 177.17 330.94 177.4 331.6C177.63 332.26 178.57 334.8 178.8 334.6C179.03 334.4 180.5 329.43 180.8 328.6C181.1 327.77 183.03 322.66 183.3 322.2C183.57 321.74 184.6 321.34 184.8 321.7C185 322.06 186.07 326.71 186.3 327.6C186.53 328.49 187.94 334.63 188.2 335.1C188.46 335.57 189.93 335.03 190.2 334.6C190.47 334.17 191.9 329.26 192.2 328.6C192.5 327.94 194.4 324.57 194.7 324.7C195 324.83 196.47 329.81 196.7 330.6C196.93 331.39 197.87 335.97 198.1 336.5C198.33 337.03 199.8 338.63 200.1 338.5C200.4 338.37 202.3 334.99 202.6 334.6C202.9 334.21 204.34 332.51 204.6 332.6C204.86 332.69 206.24 335.61 206.5 336C206.76 336.39 208.28 338.07 208.5 338.5C208.72 338.93 209.53 342.53 209.8 342.5C210.07 342.47 212.17 338.57 212.5 338C212.83 337.43 214.53 334.37 214.8 334C215.07 333.63 216.35 332.37 216.6 332.5C216.85 332.63 218.21 335.21 218.5 336C218.79 336.79 220.71 344 221 344.4C221.29 344.8 222.55 342.43 222.8 342C223.05 341.57 224.59 338.29 224.8 338C225.01 337.71 225.82 337.89 226 337.6C226.18 337.31 227.27 333.81 227.5 333.7C227.73 333.59 229.24 335.67 229.5 336C229.76 336.33 231.13 338.4 231.4 338.6C231.67 338.8 233.2 339.07 233.5 339C233.8 338.93 235.61 338.07 235.9 337.6C236.19 337.13 237.7 332.43 237.9 332C238.1 331.57 238.71 330.89 238.9 331.2C239.09 331.51 240.54 335.81 240.8 336.7C241.06 337.59 242.47 344.04 242.8 344.6C243.13 345.16 245.47 345.43 245.8 345.1C246.13 344.77 247.44 340.39 247.8 339.6C248.16 338.81 250.84 333.33 251.2 333.2C251.56 333.07 252.93 336.68 253.2 337.6C253.47 338.52 254.93 346.5 255.2 347C255.47 347.5 256.94 345.59 257.2 345.1C257.46 344.61 258.84 340.19 259.1 339.6C259.36 339.01 260.87 336.33 261.1 336.2C261.33 336.07 262.4 337.04 262.6 337.6C262.8 338.16 263.9 343.74 264.1 344.6C264.3 345.46 265.31 350.77 265.6 350.5C265.89 350.23 268.21 341.46 268.5 340.6C268.79 339.74 269.77 337.8 270 337.6C270.23 337.4 271.7 336.81 272 337.6C272.3 338.39 274.19 348.3 274.5 349.5C274.81 350.7 276.25 355.53 276.6 355.6C276.95 355.67 279.48 351.21 279.8 350.6C280.12 349.99 281.13 346.9 281.4 346.5C281.67 346.1 283.63 344.5 283.9 344.6C284.17 344.7 285.39 347.77 285.5 348" stroke="#f07b22" stroke-width="1.7"/>
<path d="M57.5 271.4C57.7 271.15 59.16 269.2 59.5 268.9C59.84 268.6 60.41 267.36 60.9 268.4C61.39 269.44 63.21 278.6 64.4 279.3C65.59 280 71.66 275 72.8 275.4C73.94 275.8 74.71 283.06 75.8 283.3C76.89 283.54 82.61 277.31 83.7 277.8C84.79 278.29 85.76 287.85 86.7 288.2C87.64 288.55 92.02 280.8 93.1 281.3C94.18 281.8 96.36 292.61 97.5 293.2C98.64 293.79 103.36 286.56 104.5 287.2C105.64 287.84 107.76 298.89 108.9 299.6C110.04 300.31 114.8 293.94 115.9 294.3C117 294.66 118.81 302.95 119.9 303.2C120.99 303.45 125.66 296.3 126.8 296.8C127.94 297.3 130.21 307.65 131.3 308.2C132.39 308.75 136.62 302 137.7 302.3C138.78 302.6 140.96 310.96 142.1 311.2C143.24 311.44 147.86 304.11 149.1 304.7C150.34 305.29 153.37 316.4 154.5 317.1C155.63 317.8 159.31 311.35 160.4 311.7C161.49 312.05 164.35 320.14 165.4 320.6C166.45 321.06 169.85 315.6 170.9 316.3C171.95 317 174.71 326.86 175.9 327.6C177.09 328.34 181.66 323.25 182.8 323.7C183.94 324.15 186.21 331.9 187.3 332.1C188.39 332.3 192.62 325.4 193.7 325.7C194.78 326 197.01 334.61 198.1 335.1C199.19 335.59 203.53 330.23 204.6 330.6C205.67 330.97 207.66 338.48 208.8 338.8C209.94 339.12 214.8 333.03 216 333.8C217.2 334.57 219.61 345.88 220.8 346.5C221.99 347.12 226.82 339.84 227.9 340C228.98 340.16 230.56 347.72 231.6 348.1C232.64 348.48 237.11 343.11 238.3 343.8C239.49 344.49 242.35 354.38 243.5 355C244.65 355.62 248.74 349.12 249.8 350C250.86 350.88 253.04 362.99 254.1 363.8C255.16 364.61 259.33 357.79 260.4 358.1C261.47 358.41 263.74 366.52 264.8 366.9C265.86 367.28 269.88 361.59 271 361.9C272.12 362.21 274.87 369.75 276 370C277.13 370.25 281.36 364 282.3 364.4C283.24 364.8 284.93 372.44 285.4 374C285.87 375.56 286.84 379.4 287 380" stroke="#5d6d8e" stroke-width="2.0"/>
</g>
<rect x="51.5" y="253.5" width="234" height="184.8" fill="none" stroke="#bcc3d3" stroke-width="1"/>
<line x1="57.5" y1="438.8" x2="57.5" y2="443.3" stroke="#c3cad8" stroke-width="1"/>
<line x1="113.09" y1="438.8" x2="113.09" y2="443.3" stroke="#c3cad8" stroke-width="1"/>
<line x1="168.68" y1="438.8" x2="168.68" y2="443.3" stroke="#c3cad8" stroke-width="1"/>
<line x1="224.27" y1="438.8" x2="224.27" y2="443.3" stroke="#c3cad8" stroke-width="1"/>
<line x1="279.86" y1="438.8" x2="279.86" y2="443.3" stroke="#c3cad8" stroke-width="1"/>
<path d="M54.8 268.9L59.8 273.9M54.8 273.9L59.8 268.9" stroke="#ca404a" stroke-width="1.6" fill="none"/>
<path d="M277.3 364.4L282.3 369.4M277.3 369.4L282.3 364.4" stroke="#ca404a" stroke-width="1.6" fill="none"/>
<g clip-path="url(#cP4)" fill="none" stroke-linejoin="round" stroke-linecap="round">
<path d="M339.6 271.4C339.79 271.07 341.07 268.8 341.5 268.1C341.93 267.4 343.51 263.79 343.9 264.37C344.29 264.95 344.31 274.03 345.4 273.9C346.49 273.77 353.61 263.08 354.8 263.05C355.99 263.02 356.21 273.5 357.3 273.61C358.39 273.72 364.67 264.32 365.7 264.14C366.73 263.97 366.47 271.61 367.6 271.9C368.73 272.19 375.81 266.48 377 267.04C378.19 267.61 378.37 276.8 379.5 277.55C380.63 278.29 387.26 274.19 388.3 274.48C389.34 274.77 388.86 280.78 389.9 280.48C390.94 280.18 397.52 271.44 398.7 271.51C399.88 271.57 400.48 280.61 401.7 281.12C402.92 281.62 409.83 275.95 410.9 276.57C411.97 277.18 411.36 286.7 412.4 287.24C413.44 287.78 420.21 281.51 421.3 281.99C422.39 282.48 422.26 292.04 423.3 292.09C424.34 292.14 430.66 282.63 431.7 282.5C432.74 282.37 432.56 290.69 433.7 290.76C434.84 290.83 441.91 283.17 443.1 283.21C444.29 283.24 444.41 291.08 445.6 291.13C446.79 291.19 453.82 283.42 455 283.77C456.18 284.11 456.18 294.54 457.4 294.57C458.62 294.61 466.04 284.02 467.2 284.13C468.36 284.23 468.01 295.16 469 295.65C469.99 296.13 476.02 288.53 477.1 288.95C478.18 289.37 478.72 299.56 479.8 299.85C480.88 300.13 486.82 291.11 487.9 291.79C488.98 292.47 489.44 305.72 490.6 306.68C491.76 307.63 498.36 301.06 499.5 301.34C500.64 301.61 500.9 309.2 502 309.4C503.1 309.61 509.4 303 510.5 303.41C511.6 303.82 511.92 313.4 513 313.52C514.08 313.64 520.2 304.08 521.3 304.61C522.4 305.15 522.92 318.43 524 318.89C525.08 319.36 530.93 308.82 532.1 309.27C533.27 309.73 534.53 322.51 535.7 323.41C536.87 324.3 542.72 317.13 543.8 318.21C544.88 319.3 545.33 333.13 546.5 334.23C547.67 335.33 554.33 328.69 555.5 329.19C556.67 329.7 557.12 338.86 558.2 339.29C559.28 339.71 565.22 333.56 566.3 333.41C567.38 333.26 568.73 337.33 569 337.76" stroke="#c6ccda" stroke-width="1.7"/>
<path d="M339.6 271.4C339.79 271.03 341.07 268.23 341.5 267.72C341.93 267.2 343.51 265.4 343.9 266.23C344.29 267.05 344.31 276.1 345.4 276.01C346.49 275.92 353.61 265.26 354.8 265.34C355.99 265.42 356.21 276.67 357.3 276.82C358.39 276.97 364.67 266.97 365.7 266.86C366.73 266.75 366.47 275.45 367.6 275.7C368.73 275.95 375.81 268.95 377 269.39C378.19 269.84 378.37 279.62 379.5 280.15C380.63 280.68 387.26 274.46 388.3 274.71C389.34 274.97 388.86 282.91 389.9 282.69C390.94 282.48 397.52 272.48 398.7 272.55C399.88 272.63 400.48 282.97 401.7 283.44C402.92 283.91 409.83 276.6 410.9 277.26C411.97 277.91 411.36 289.35 412.4 289.97C413.44 290.58 420.21 283.01 421.3 283.41C422.39 283.81 422.26 293.81 423.3 293.98C424.34 294.15 430.66 285.19 431.7 285.16C432.74 285.12 432.56 293.56 433.7 293.66C434.84 293.76 441.91 286.04 443.1 286.13C444.29 286.23 444.41 294.6 445.6 294.61C446.79 294.62 453.82 286.07 455 286.21C456.18 286.36 456.18 295.78 457.4 296.06C458.62 296.34 466.04 288.76 467.2 289.01C468.36 289.27 468.01 298.31 469 298.6C469.99 298.88 476.02 291.38 477.1 291.87C478.18 292.35 478.72 303.06 479.8 303.42C480.88 303.79 486.82 294.81 487.9 295.48C488.98 296.16 489.44 309.39 490.6 310.18C491.76 310.97 498.36 303.12 499.5 303.36C500.64 303.61 500.9 312.49 502 312.64C503.1 312.78 509.4 304.55 510.5 304.82C511.6 305.09 511.92 315.15 513 315.32C514.08 315.5 520.2 305.95 521.3 306.56C522.4 307.17 522.92 320.75 524 321.41C525.08 322.08 530.93 312.57 532.1 313.25C533.27 313.92 534.53 327.43 535.7 328.2C536.87 328.97 542.72 320.04 543.8 320.98C544.88 321.91 545.33 336.5 546.5 337.54C547.67 338.58 554.33 330.91 555.5 331.41C556.67 331.9 557.12 342.07 558.2 342.49C559.28 342.92 565.22 335.93 566.3 335.69C567.38 335.46 568.73 339.69 569 340.13" stroke="#c6ccda" stroke-width="1.7"/>
<path d="M339.6 271.4C339.79 271.1 341.07 268.92 341.5 268.41C341.93 267.91 343.51 265.39 343.9 266.35C344.29 267.31 344.31 277.82 345.4 278.02C346.49 278.23 353.61 268.3 354.8 268.39C355.99 268.48 356.21 278.62 357.3 278.93C358.39 279.23 364.67 271.44 365.7 271.44C366.73 271.44 366.47 278.85 367.6 278.93C368.73 279.02 375.81 271.99 377 272.26C378.19 272.54 378.37 281.19 379.5 281.69C380.63 282.18 387.26 277.02 388.3 277.24C389.34 277.46 388.86 284.1 389.9 283.89C390.94 283.67 397.52 274.99 398.7 275.08C399.88 275.16 400.48 284.29 401.7 284.69C402.92 285.09 409.83 278.5 410.9 279.07C411.97 279.63 411.36 289.78 412.4 290.37C413.44 290.96 420.21 284.56 421.3 284.97C422.39 285.37 422.26 294.09 423.3 294.43C424.34 294.77 430.66 288.26 431.7 288.39C432.74 288.51 432.56 295.52 433.7 295.68C434.84 295.84 441.91 289.87 443.1 290.01C444.29 290.14 444.41 297.03 445.6 297.01C446.79 296.99 453.82 289.6 455 289.8C456.18 290 456.18 298.82 457.4 299.03C458.62 299.25 466.04 291.72 467.2 291.95C468.36 292.19 468.01 301.04 469 301.38C469.99 301.72 476.02 294.98 477.1 295.38C478.18 295.78 478.72 305.12 479.8 305.39C480.88 305.66 486.82 297.35 487.9 298.09C488.98 298.83 489.44 311.96 490.6 312.8C491.76 313.65 498.36 306.34 499.5 306.56C500.64 306.79 500.9 314.74 502 315.07C503.1 315.41 509.4 309.44 510.5 309.91C511.6 310.38 511.92 319.71 513 319.78C514.08 319.85 520.2 310.13 521.3 310.58C522.4 311.04 522.92 323.68 524 324.32C525.08 324.96 530.93 316.35 532.1 316.98C533.27 317.61 534.53 329.8 535.7 330.61C536.87 331.42 542.72 324.13 543.8 325.05C544.88 325.96 545.33 338.73 546.5 339.78C547.67 340.84 554.33 335.05 555.5 335.59C556.67 336.13 557.12 344.8 558.2 345.21C559.28 345.63 565.22 339.9 566.3 339.75C567.38 339.6 568.73 343.31 569 343.71" stroke="#c6ccda" stroke-width="1.7"/>
<path d="M339.6 271.4C339.79 271.03 341.07 268.05 341.5 267.72C341.93 267.39 343.51 266.98 343.9 268.1C344.29 269.21 344.31 278.63 345.4 278.87C346.49 279.1 353.61 270.24 354.8 270.48C355.99 270.71 356.21 280.83 357.3 281.25C358.39 281.67 364.67 274.67 365.7 274.64C366.73 274.61 366.47 280.89 367.6 280.93C368.73 280.98 375.81 274.83 377 275.07C378.19 275.31 378.37 282.97 379.5 283.33C380.63 283.7 387.26 278.64 388.3 278.73C389.34 278.82 388.86 284.43 389.9 284.22C390.94 284.01 397.52 276.5 398.7 276.65C399.88 276.79 400.48 285.22 401.7 285.65C402.92 286.08 409.83 280.4 410.9 280.93C411.97 281.46 411.36 290.34 412.4 290.95C413.44 291.55 420.21 286.49 421.3 286.96C422.39 287.43 422.26 295.33 423.3 295.64C424.34 295.95 430.66 289.87 431.7 290.06C432.74 290.26 432.56 297.29 433.7 297.57C434.84 297.86 441.91 292.8 443.1 292.92C444.29 293.05 444.41 298.86 445.6 298.87C446.79 298.88 453.82 292.81 455 293.01C456.18 293.21 456.18 300.74 457.4 300.87C458.62 300.99 466.04 294 467.2 294.26C468.36 294.51 468.01 302.87 469 303.4C469.99 303.92 476.02 299.11 477.1 299.5C478.18 299.89 478.72 306.94 479.8 307.3C480.88 307.66 486.82 302.43 487.9 303.09C488.98 303.75 489.44 313.43 490.6 313.91C491.76 314.39 498.36 307.61 499.5 307.89C500.64 308.17 500.9 316.22 502 316.69C503.1 317.16 509.4 312.19 510.5 312.58C511.6 312.98 511.92 320.55 513 320.65C514.08 320.76 520.2 313.18 521.3 313.67C522.4 314.16 522.92 324.89 524 325.58C525.08 326.27 530.93 319.85 532.1 320.54C533.27 321.24 534.53 331.7 535.7 332.53C536.87 333.37 542.72 327.95 543.8 328.9C544.88 329.85 545.33 341.06 546.5 342.05C547.67 343.04 554.33 338.23 555.5 338.77C556.67 339.32 557.12 347.22 558.2 347.5C559.28 347.77 565.22 341.64 566.3 341.49C567.38 341.33 568.73 345.49 569 345.94" stroke="#c6ccda" stroke-width="1.7"/>
<path d="M339.6 271.4C339.79 271.24 341.07 270.05 341.5 269.82C341.93 269.59 343.51 268.27 343.9 269.11C344.29 269.96 344.31 277.8 345.4 278.27C346.49 278.74 353.61 273.26 354.8 273.8C355.99 274.34 356.21 283.4 357.3 283.71C358.39 284.01 364.67 276.87 365.7 276.87C366.73 276.88 366.47 283.73 367.6 283.76C368.73 283.79 375.81 277.08 377 277.2C378.19 277.31 378.37 284.53 379.5 284.88C380.63 285.23 387.26 280.59 388.3 280.69C389.34 280.79 388.86 286.2 389.9 285.89C390.94 285.58 397.52 277.56 398.7 277.6C399.88 277.65 400.48 286 401.7 286.36C402.92 286.73 409.83 280.54 410.9 281.24C411.97 281.93 411.36 292.62 412.4 293.33C413.44 294.04 420.21 287.87 421.3 288.32C422.39 288.78 422.26 297.54 423.3 297.91C424.34 298.27 430.66 291.84 431.7 291.97C432.74 292.1 432.56 298.82 433.7 299.22C434.84 299.61 441.91 295.62 443.1 295.95C444.29 296.29 444.41 302.76 445.6 302.6C446.79 302.44 453.82 294.17 455 294.36C456.18 294.54 456.18 304.28 457.4 304.44C458.62 304.6 466.04 295.76 467.2 295.93C468.36 296.1 468.01 305.58 469 306.17C469.99 306.75 476.02 301.45 477.1 301.79C478.18 302.12 478.72 309.34 479.8 309.52C480.88 309.71 486.82 302.95 487.9 303.65C488.98 304.36 489.44 315.75 490.6 316.58C491.76 317.41 498.36 311.68 499.5 311.94C500.64 312.19 500.9 318.87 502 319.14C503.1 319.42 509.4 314.32 510.5 314.7C511.6 315.08 511.92 322.72 513 322.96C514.08 323.21 520.2 316.55 521.3 317.15C522.4 317.76 522.92 328.45 524 328.99C525.08 329.53 530.93 321.89 532.1 322.52C533.27 323.16 534.53 334.46 535.7 335.34C536.87 336.22 542.72 330.31 543.8 331.35C544.88 332.4 545.33 344.77 546.5 345.8C547.67 346.82 554.33 341.19 555.5 341.63C556.67 342.06 557.12 349.87 558.2 350.14C559.28 350.42 565.22 344.61 566.3 344.35C567.38 344.08 568.73 347.14 569 347.45" stroke="#c6ccda" stroke-width="1.7"/>
<path d="M339.6 271.4C339.79 271.22 341.07 269.84 341.5 269.65C341.93 269.46 343.51 268.31 343.9 269.53C344.29 270.74 344.31 281.25 345.4 281.77C346.49 282.3 353.61 274.4 354.8 274.78C355.99 275.16 356.21 285.16 357.3 285.57C358.39 285.98 364.67 278.66 365.7 278.9C366.73 279.14 366.47 287.94 367.6 287.95C368.73 287.96 375.81 278.99 377 278.99C378.19 278.99 378.37 287.59 379.5 287.92C380.63 288.25 387.26 282.28 388.3 282.26C389.34 282.24 388.86 288.14 389.9 287.73C390.94 287.33 397.52 278.18 398.7 278.19C399.88 278.2 400.48 287.38 401.7 287.81C402.92 288.24 409.83 281.82 410.9 282.51C411.97 283.2 411.36 294.12 412.4 294.75C413.44 295.38 420.21 288.28 421.3 288.82C422.39 289.36 422.26 299.64 423.3 300.11C424.34 300.58 430.66 293.27 431.7 293.49C432.74 293.72 432.56 301.83 433.7 302.34C434.84 302.86 441.91 298.35 443.1 298.62C444.29 298.88 444.41 305.19 445.6 305.01C446.79 304.84 453.82 296.65 455 296.86C456.18 297.06 456.18 306.84 457.4 307.08C458.62 307.33 466.04 299.04 467.2 299.34C468.36 299.63 468.01 309.53 469 310.07C469.99 310.61 476.02 304.41 477.1 304.75C478.18 305.09 478.72 313.29 479.8 313.48C480.88 313.68 486.82 306.14 487.9 306.74C488.98 307.33 489.44 318.75 490.6 319.43C491.76 320.12 498.36 313.26 499.5 313.55C500.64 313.84 500.9 322 502 322.32C503.1 322.64 509.4 316.28 510.5 316.74C511.6 317.19 511.92 326.77 513 326.88C514.08 326.99 520.2 317.23 521.3 317.82C522.4 318.4 522.92 332.07 524 332.74C525.08 333.41 530.93 323.95 532.1 324.52C533.27 325.08 534.53 337.52 535.7 338.39C536.87 339.25 542.72 332.2 543.8 333.16C544.88 334.13 545.33 346.98 546.5 348.06C547.67 349.15 554.33 343.48 555.5 344C556.67 344.52 557.12 352.96 558.2 353.26C559.28 353.56 565.22 347.31 566.3 347C567.38 346.69 568.73 349.87 569 350.19" stroke="#c6ccda" stroke-width="1.7"/>
<path d="M339.6 271.4C339.79 271.29 341.07 270.31 341.5 270.34C341.93 270.37 343.51 270.54 343.9 271.69C344.29 272.84 344.31 281.26 345.4 281.87C346.49 282.48 353.61 277.1 354.8 277.77C355.99 278.44 356.21 288.12 357.3 288.58C358.39 289.05 364.67 282.26 365.7 282.4C366.73 282.53 366.47 290.07 367.6 289.95C368.73 289.82 375.81 281.17 377 281.15C378.19 281.13 378.37 289.48 379.5 289.75C380.63 290.02 387.26 283.81 388.3 283.81C389.34 283.82 388.86 290.14 389.9 289.79C390.94 289.43 397.52 280.27 398.7 280.24C399.88 280.21 400.48 289.03 401.7 289.48C402.92 289.93 409.83 284.22 410.9 284.74C411.97 285.25 411.36 294.07 412.4 294.63C413.44 295.19 420.21 289.82 421.3 290.36C422.39 290.9 422.26 299.49 423.3 300.03C424.34 300.56 430.66 295.31 431.7 295.73C432.74 296.15 432.56 303.65 433.7 304.23C434.84 304.8 441.91 301.1 443.1 301.52C444.29 301.94 444.41 308.49 445.6 308.44C446.79 308.38 453.82 300.85 455 300.95C456.18 301.06 456.18 309.34 457.4 309.48C458.62 309.62 466.04 302.13 467.2 302.33C468.36 302.53 468.01 310.97 469 311.46C469.99 311.95 476.02 306.94 477.1 307.23C478.18 307.52 478.72 314.06 479.8 314.38C480.88 314.7 486.82 309.74 487.9 310.41C488.98 311.07 489.44 320.48 490.6 321C491.76 321.52 498.36 315.35 499.5 315.63C500.64 315.9 500.9 323.33 502 323.72C503.1 324.1 509.4 318.97 510.5 319.49C511.6 320 511.92 328.71 513 328.92C514.08 329.12 520.2 320.96 521.3 321.51C522.4 322.06 522.92 333.76 524 334.41C525.08 335.06 530.93 327.47 532.1 328.03C533.27 328.6 534.53 339.18 535.7 340.08C536.87 340.99 542.72 336.05 543.8 337.08C544.88 338.11 545.33 349.59 546.5 350.39C547.67 351.19 554.33 344.59 555.5 345.1C556.67 345.61 557.12 355.16 558.2 355.51C559.28 355.85 565.22 348.82 566.3 348.57C567.38 348.31 568.73 352.49 569 352.93" stroke="#c6ccda" stroke-width="1.7"/>
<path d="M365.4 271.2C365.42 271.46 365.91 278.77 365.95 279.13C365.99 279.49 366.46 281.62 366.5 282C366.54 282.38 367.06 290.26 367.1 290.67C367.14 291.08 367.65 294.35 367.7 294.3C367.75 294.25 368.4 289.35 368.45 289.2C368.5 289.05 369.15 289.65 369.2 289.7C369.25 289.75 369.95 290.73 370 290.81C370.05 290.88 370.75 291.61 370.8 292C370.85 292.39 371.5 301.71 371.55 302.4C371.6 303.1 372.25 312.29 372.3 312.8C372.35 313.31 373 317.35 373.05 317.66C373.1 317.97 373.76 321.94 373.8 322C373.84 322.06 374.17 320.34 374.2 319.52C374.23 318.7 374.57 298.31 374.6 297.4C374.63 296.49 374.97 292.53 375 292.27C375.03 292.02 375.36 289.96 375.4 289.7C375.44 289.44 376.1 284.79 376.15 284.54C376.2 284.28 376.84 281.97 376.9 282C376.96 282.03 377.97 284.98 378.05 285.34C378.13 285.7 379.13 292.48 379.2 292.8C379.26 293.12 379.95 295.22 380 295.06C380.05 294.9 380.75 288.4 380.8 288C380.85 287.6 381.5 283.34 381.55 283.14C381.6 282.94 382.25 281.77 382.3 282C382.35 282.23 383 289.49 383.05 290.05C383.1 290.62 383.75 298.55 383.8 298.9C383.85 299.25 384.55 300.58 384.6 300.41C384.65 300.25 385.35 293.97 385.4 294C385.45 294.03 386.1 301.16 386.15 301.43C386.2 301.69 386.85 302.54 386.9 302C386.95 301.46 387.65 286.13 387.7 285.31C387.75 284.49 388.45 277.24 388.5 277.4C388.55 277.56 389.2 289.86 389.25 290.17C389.3 290.47 389.95 286.86 390 286.6C390.05 286.34 390.7 282.81 390.75 282.45C390.8 282.09 391.45 275.6 391.5 275.8C391.55 276 392.25 288.01 392.3 288.58C392.35 289.15 393.05 292.72 393.1 292.8C393.15 292.88 393.8 291.12 393.85 290.89C393.9 290.66 394.55 285.66 394.6 286C394.65 286.34 395.35 300.49 395.4 300.97C395.45 301.45 396.15 300.93 396.2 300.5C396.25 300.07 396.9 288.86 396.95 288.14C397 287.42 397.65 279.53 397.7 278.9C397.75 278.27 398.4 269.66 398.45 269.2C398.5 268.74 399.15 264.92 399.2 265.1C399.25 265.28 399.95 274.15 400 274.66C400.05 275.17 400.75 280.14 400.8 280.5C400.85 280.86 401.5 285.59 401.55 285.51C401.6 285.43 402.25 278.18 402.3 278C402.35 277.82 403 279.83 403.05 279.96C403.1 280.09 403.75 281.6 403.8 282C403.85 282.4 404.55 291.7 404.6 292.1C404.65 292.5 405.35 293.21 405.4 294C405.45 294.79 406.1 314.85 406.15 315.83C406.2 316.81 406.85 323.74 406.9 323.5C406.95 323.26 407.65 309.3 407.7 308.73C407.75 308.17 408.45 306.67 408.5 306.6C408.55 306.53 409.2 307 409.25 306.58C409.3 306.16 409.95 294.32 410 294C410.05 293.68 410.7 297.2 410.75 297.06C410.8 296.92 411.45 289.75 411.5 289.7C411.55 289.65 412.25 294.9 412.3 295.43C412.35 295.95 413.05 305.16 413.1 305.4C413.15 305.64 413.8 302.72 413.85 302.54C413.9 302.36 414.55 299.99 414.6 300C414.65 300.01 415.35 302.63 415.4 302.97C415.45 303.3 416.14 309.76 416.2 310C416.26 310.24 417.04 310.55 417.1 310.31C417.16 310.08 417.94 303.45 418 303C418.06 302.55 418.93 297.12 419 296.89C419.07 296.67 419.93 295.84 420 296.2C420.07 296.56 421.07 307.09 421.15 307.66C421.23 308.22 422.24 312.84 422.3 313.1C422.36 313.36 423 315.69 423.05 315.42C423.1 315.15 423.75 305.39 423.8 305C423.85 304.61 424.55 303.33 424.6 303.65C424.65 303.97 425.35 314.33 425.4 314.6C425.45 314.87 426.15 312.17 426.2 311.85C426.25 311.53 426.95 305.38 427 305C427.05 304.62 427.7 300.67 427.75 300.37C427.8 300.08 428.44 296.3 428.5 296.2C428.56 296.1 429.57 297.25 429.65 297.48C429.73 297.7 430.72 302.94 430.8 303C430.88 303.06 431.87 299.74 431.95 299.36C432.03 298.97 433.04 291.64 433.1 291.5C433.16 291.36 433.8 294.99 433.85 295.28C433.9 295.56 434.55 299.89 434.6 300C434.65 300.11 435.35 298.52 435.4 298.65C435.45 298.78 436.13 304.04 436.2 304C436.26 303.96 437.27 297.73 437.35 297.47C437.43 297.21 438.42 296.01 438.5 296.2C438.58 296.39 439.57 302.62 439.65 303.08C439.73 303.54 440.74 309.81 440.8 310C440.86 310.19 441.36 308.58 441.4 308.65C441.44 308.72 441.94 312.3 442 312C442.06 311.7 443.21 300.04 443.3 299.61C443.39 299.18 444.53 298.85 444.6 299.2C444.68 299.55 445.49 310.07 445.55 310.2C445.61 310.33 446.44 302.95 446.5 303C446.56 303.05 447.43 311.42 447.5 311.55C447.57 311.68 448.44 307.01 448.5 306.9C448.56 306.79 449.34 308.68 449.4 308.38C449.46 308.08 450.24 297.92 450.3 298C450.36 298.08 451.23 309.9 451.3 310.71C451.37 311.52 452.24 322.5 452.3 322.3C452.36 322.1 453 305.12 453.05 304.56C453.1 304 453.74 305.45 453.8 305.4C453.86 305.35 454.69 303.04 454.75 302.96C454.81 302.88 455.63 302.7 455.7 303C455.76 303.3 456.63 311.62 456.7 312.06C456.77 312.5 457.61 316.4 457.7 316.2C457.79 316 459.24 306.64 459.35 306.1C459.46 305.56 460.89 300.12 461 300C461.11 299.88 462.45 302.29 462.55 302.64C462.65 302.99 464 310.69 464.1 310.5C464.2 310.31 465.5 297.97 465.6 296.96C465.7 295.95 467 280.03 467.1 280.2C467.2 280.37 468.55 301.16 468.65 301.97C468.75 302.78 470.1 304.34 470.2 304.4C470.3 304.46 471.51 303.85 471.6 303.71C471.69 303.56 472.9 299.82 473 300C473.1 300.18 474.49 308.42 474.6 308.97C474.71 309.52 476.1 316.55 476.2 316.5C476.3 316.45 477.6 307.76 477.7 307.36C477.8 306.96 479.1 303.96 479.2 304.4C479.3 304.84 480.65 320.01 480.75 320.61C480.85 321.22 482.2 322.6 482.3 322.6C482.4 322.6 483.56 320.91 483.65 320.66C483.74 320.4 484.9 314.95 485 315C485.1 315.05 486.54 321.61 486.65 322.06C486.76 322.52 488.2 328.69 488.3 328.7C488.4 328.71 489.56 322.79 489.65 322.44C489.74 322.08 490.9 317.99 491 318C491.1 318.01 492.59 322.3 492.7 322.75C492.81 323.21 494.29 331.75 494.4 331.7C494.51 331.65 495.8 322.06 495.9 321.25C496 320.44 497.31 307.78 497.4 307.5C497.49 307.22 498.52 313.22 498.6 312.91C498.68 312.61 499.72 298.55 499.8 298.4C499.88 298.25 500.83 307.88 500.9 308.49C500.97 309.09 501.91 315.82 502 316.5C502.09 317.18 503.4 328.21 503.5 328.82C503.6 329.43 504.92 334.74 505 334.7C505.08 334.66 505.93 328.01 506 327.72C506.07 327.43 506.93 325.58 507 326C507.07 326.42 508.17 339.39 508.25 340.18C508.33 340.98 509.41 349.82 509.5 349.9C509.59 349.98 510.95 342.65 511.05 342.45C511.15 342.25 512.52 343.31 512.6 343.8C512.68 344.29 513.3 356.84 513.35 357.24C513.4 357.64 514.02 355.84 514.1 355.9C514.18 355.96 515.5 358.66 515.6 358.96C515.7 359.27 517 364.49 517.1 365C517.2 365.51 518.55 373.9 518.65 374.3C518.75 374.71 520.12 377.46 520.2 377.2C520.28 376.94 520.9 367.4 520.95 366.59C521 365.78 521.65 353.31 521.7 352.9C521.75 352.49 522.4 354.68 522.45 354.28C522.5 353.88 523.18 341.25 523.2 340.8" stroke="#14509f" stroke-width="1.7"/>
<path d="M368.5 305.1C368.52 305 369.2 302.61 369.25 302.2C369.3 301.79 369.96 293.08 370 292.8C370.04 292.52 370.37 294.08 370.4 293.92C370.43 293.77 370.76 288.19 370.8 288.2C370.84 288.21 371.5 293.36 371.55 294.13C371.6 294.89 372.25 310.84 372.3 311.2C372.35 311.56 373 305.2 373.05 305.02C373.1 304.85 373.75 306.18 373.8 306C373.85 305.82 374.55 299.72 374.6 299.54C374.65 299.35 375.35 300.87 375.4 300.5C375.45 300.13 376.1 289.08 376.15 288.52C376.2 287.95 376.85 283.66 376.9 283.5C376.95 283.34 377.65 283.47 377.7 283.69C377.75 283.9 378.45 289.54 378.5 290C378.55 290.46 379.2 297.39 379.25 297.63C379.3 297.88 379.95 297.3 380 297.4C380.05 297.5 380.7 300.29 380.75 300.49C380.8 300.69 381.45 303.48 381.5 303.5C381.55 303.52 382.2 301.23 382.25 301.05C382.3 300.86 382.95 298.14 383 298C383.05 297.86 383.75 296.72 383.8 296.8C383.85 296.88 384.55 300.19 384.6 300.5C384.65 300.81 385.35 305.52 385.4 306.14C385.45 306.75 386.15 318.88 386.2 318.9C386.25 318.92 386.9 307.19 386.95 306.73C387 306.27 387.65 305.21 387.7 305.1C387.75 304.99 388.4 303.79 388.45 303.38C388.5 302.97 389.15 293.05 389.2 292.8C389.25 292.55 389.95 295.8 390 295.97C390.05 296.14 390.75 297.66 390.8 298C390.85 298.34 391.5 305.74 391.55 306.08C391.6 306.42 392.25 308.3 392.3 308.2C392.35 308.1 393 303.44 393.05 303.03C393.1 302.62 393.75 295.83 393.8 295.8C393.85 295.77 394.55 301.55 394.6 302.22C394.65 302.88 395.35 315.65 395.4 315.8C395.45 315.95 396.15 307.28 396.2 306.68C396.25 306.09 396.95 298.84 397 298C397.05 297.16 397.7 281.98 397.75 281.44C397.8 280.91 398.45 282.09 398.5 282C398.55 281.91 399.06 279.14 399.1 278.73C399.14 278.32 399.66 269.87 399.7 269.7C399.74 269.53 400.21 273.46 400.25 273.71C400.29 273.97 400.76 276.99 400.8 277.4C400.84 277.81 401.5 285.51 401.55 286.02C401.6 286.54 402.25 292.43 402.3 292.8C402.35 293.17 403 296.85 403.05 297.1C403.1 297.36 403.75 300.18 403.8 300.5C403.85 300.82 404.55 306.47 404.6 306.72C404.65 306.97 405.35 308.09 405.4 308C405.45 307.91 406.1 304.28 406.15 304.08C406.2 303.88 406.85 302.23 406.9 302C406.95 301.77 407.65 297.47 407.7 297.14C407.75 296.8 408.45 292.19 408.5 292C408.55 291.81 409.2 291.22 409.25 291.36C409.3 291.5 409.94 295.89 410 296.2C410.06 296.51 411.07 300.21 411.15 300.56C411.23 300.92 412.24 306.44 412.3 306.9C412.36 307.36 413 313.93 413.05 314.34C413.1 314.75 413.75 318.94 413.8 319.2C413.85 319.46 414.5 322.29 414.55 322.25C414.6 322.21 415.25 318.25 415.3 318C415.35 317.75 416.05 314.91 416.1 314.8C416.15 314.68 416.85 314.65 416.9 314.6C416.95 314.55 417.65 313.14 417.7 313.4C417.75 313.66 418.45 322.35 418.5 322.3C418.55 322.25 419.2 312.21 419.25 311.9C419.3 311.59 419.95 313.11 420 313.1C420.05 313.09 420.7 311.5 420.75 311.47C420.8 311.43 421.45 311.99 421.5 312C421.55 312.01 422.25 311.68 422.3 311.87C422.35 312.06 423.05 317.25 423.1 317.7C423.15 318.15 423.8 325.08 423.85 325.44C423.9 325.8 424.55 328.08 424.6 328.5C424.65 328.92 425.35 337.87 425.4 338.07C425.45 338.28 426.16 334.54 426.2 334.6C426.24 334.66 426.53 339.32 426.55 339.88C426.57 340.44 426.86 351.13 426.9 351.5C426.94 351.87 427.65 351.4 427.7 351.02C427.75 350.63 428.45 340.45 428.5 340C428.55 339.55 429.2 338.09 429.25 337.6C429.3 337.12 429.95 326.17 430 325.4C430.05 324.63 430.7 315.04 430.75 314.58C430.8 314.11 431.45 311.51 431.5 311.5C431.55 311.49 432.25 314.04 432.3 314.35C432.35 314.66 433.05 320.33 433.1 320.8C433.15 321.27 433.8 328.02 433.85 328.32C433.9 328.63 434.55 329.9 434.6 330C434.65 330.1 435.35 331.06 435.4 331.36C435.45 331.67 436.16 338.79 436.2 339.2C436.24 339.61 436.53 343.11 436.55 343.68C436.57 344.24 436.86 355.91 436.9 356.2C436.94 356.49 437.65 352.9 437.7 352.43C437.75 351.97 438.45 342.67 438.5 342.3C438.55 341.93 439.2 341.23 439.25 341.32C439.3 341.41 439.95 345.06 440 345C440.05 344.94 440.7 339.76 440.75 339.56C440.8 339.37 441.45 339.27 441.5 339.2C441.55 339.13 442.25 337.63 442.3 337.32C442.35 337.01 443.05 330.58 443.1 330C443.15 329.42 443.8 320.55 443.85 319.83C443.9 319.12 444.56 308.92 444.6 308.5C444.64 308.08 444.97 307.46 445 307.3C445.03 307.15 445.36 303.43 445.4 303.8C445.44 304.17 446.1 317.79 446.15 318.36C446.2 318.92 446.85 320.07 446.9 320.8C446.95 321.53 447.65 339.29 447.7 340.21C447.75 341.14 448.45 348.65 448.5 348.5C448.55 348.35 449.2 336.23 449.25 335.82C449.3 335.41 449.95 336.1 450 336.2C450.05 336.3 450.7 338.9 450.75 338.8C450.8 338.7 451.45 333.46 451.5 333.1C451.55 332.74 452.2 328.39 452.25 328.02C452.3 327.65 452.95 322.29 453 322C453.05 321.71 453.75 319.61 453.8 319.32C453.85 319.02 454.55 313.31 454.6 313.1C454.65 312.89 455.35 313.29 455.4 313.04C455.45 312.78 456.15 305.14 456.2 305.4C456.25 305.66 456.9 320.36 456.95 320.88C457 321.39 457.65 320.34 457.7 320.8C457.75 321.26 458.4 333.86 458.45 334.53C458.5 335.19 459.14 340.55 459.2 340.8C459.26 341.05 460.27 341.91 460.35 341.98C460.43 342.06 461.42 343.21 461.5 343.1C461.58 342.99 462.67 339.24 462.75 338.8C462.83 338.36 463.93 330.33 464 330C464.07 329.67 464.93 328.6 465 328.8C465.07 329 465.92 335.49 466 336C466.08 336.51 467.21 343.67 467.3 344.03C467.39 344.39 468.5 347.07 468.6 346.8C468.7 346.53 470.05 336.84 470.15 336.03C470.25 335.23 471.6 323.04 471.7 322.6C471.8 322.16 473.01 322.63 473.1 322.95C473.19 323.26 474.4 331.73 474.5 332C474.6 332.27 475.99 330.85 476.1 331.14C476.21 331.43 477.6 340.68 477.7 340.8C477.8 340.92 479.01 334.96 479.1 334.8C479.19 334.64 480.4 335.78 480.5 336C480.6 336.22 482.04 340.9 482.15 341.46C482.26 342.02 483.75 352.52 483.8 352.9" stroke="#5bbd57" stroke-width="1.7"/>
<path d="M493.3 364C493.32 364.12 493.77 367.47 493.8 367.54C493.83 367.61 494.28 366.05 494.3 366" stroke="#5bbd57" stroke-width="1.7"/>
<path d="M497.4 352.9C497.45 352.73 498.85 348.24 498.95 347.94C499.05 347.63 500.42 343.88 500.5 343.8C500.58 343.72 501.43 345.14 501.5 345.42C501.57 345.69 502.43 351.64 502.5 352C502.57 352.36 503.67 355.81 503.75 356.14C503.83 356.47 504.93 361.8 505 362C505.07 362.2 505.7 362.58 505.75 362.25C505.8 361.92 506.45 351.95 506.5 352C506.55 352.05 507.2 362.79 507.25 363.63C507.3 364.47 507.94 377.14 508 377.2C508.06 377.26 508.93 366.13 509 365.56C509.07 364.98 509.93 359.97 510 360C510.07 360.03 510.93 366.53 511 366.4C511.07 366.27 511.93 356.25 512 356C512.07 355.75 512.98 358.5 513.05 358.91C513.12 359.31 514.01 367.37 514.1 368.1C514.19 368.83 515.5 380.12 515.6 380.82C515.7 381.53 517.02 389.2 517.1 389.3C517.18 389.4 517.8 384.53 517.85 383.92C517.9 383.32 518.55 371.15 518.6 371.1C518.65 371.05 519.35 381.79 519.4 382.5C519.45 383.21 520.12 392.3 520.2 392.3C520.28 392.3 521.6 383.1 521.7 382.5C521.8 381.89 523.1 374.44 523.2 374.1C523.3 373.76 524.51 372.79 524.6 372.32C524.69 371.85 525.9 360.51 526 360C526.1 359.49 527.49 357.39 527.6 357.15C527.71 356.91 529.12 353.35 529.2 352.9C529.28 352.45 529.95 344.34 530 343.54C530.05 342.73 530.75 328.34 530.8 328.7C530.85 329.06 531.5 352.75 531.55 354.47C531.6 356.18 532.25 379.42 532.3 380.2C532.35 380.98 533 378.49 533.05 377.88C533.1 377.27 533.77 362.53 533.8 362" stroke="#5bbd57" stroke-width="1.7"/>
<path d="M458.5 306C458.59 305.54 460.93 293.46 461.1 292.3C461.27 291.14 463.35 271.66 463.5 271.1C463.65 270.54 465.43 274.39 465.6 275.6C465.77 276.81 468.45 305.53 468.6 307.5C468.75 309.47 470.09 334.62 470.2 334.7C470.31 334.78 471.7 311.62 471.8 310C471.9 308.38 473.07 287.09 473.2 286.2C473.33 285.31 475.45 282.19 475.6 283.2C475.75 284.21 477.57 315.77 477.7 316.5C477.83 317.23 479.37 305.55 479.5 305C479.63 304.45 481.37 300.33 481.5 300C481.63 299.67 483.37 295.56 483.5 295C483.63 294.44 485.16 283.29 485.3 283.2C485.44 283.11 487.55 290.48 487.7 292.3C487.85 294.12 489.63 336.99 489.8 337.8C489.97 338.61 492.71 317.16 492.9 316.5C493.09 315.84 495.3 318.5 495.5 318C495.7 317.5 498.68 300.64 498.9 301.4C499.12 302.16 501.8 340.09 502 340.8C502.2 341.51 504.77 323.91 505 322.6C505.23 321.29 508.7 301.55 508.9 301.4C509.1 301.25 510.83 316.28 511 318C511.17 319.72 513.9 352.75 514.1 352.9C514.3 353.05 516.9 324.01 517.1 322.6C517.3 321.19 520.02 310.09 520.2 310.5C520.38 310.91 522.35 333.08 522.5 335C522.65 336.92 524.55 368.27 524.7 368.1C524.85 367.93 526.85 332.02 527 330C527.15 327.98 529.02 307.14 529.2 307.5C529.38 307.86 532.13 338.98 532.3 340.8C532.47 342.62 534.23 362.19 534.4 362C534.57 361.81 537.27 336.21 537.5 335C537.73 333.79 541.2 325.1 541.4 325.6C541.6 326.1 543.35 348.18 543.5 350C543.65 351.82 545.72 380.41 545.9 380.2C546.08 379.99 548.68 346.02 548.9 343.8C549.12 341.58 552.41 313.79 552.6 313.5C552.79 313.21 554.37 333.48 554.5 335C554.63 336.52 556.38 357.29 556.5 359C556.62 360.71 557.85 386.5 558 386.2C558.15 385.9 560.78 351.82 561 350C561.22 348.18 564.5 331.2 564.7 331.7C564.9 332.2 566.97 363.66 567.1 365C567.23 366.34 568.45 371.77 568.5 372" stroke="#f07b22" stroke-width="1.7"/>
<path d="M339.6 271.4C339.79 271.11 341.07 268.95 341.5 268.5C341.93 268.05 343.51 265.97 343.9 266.9C344.29 267.83 344.31 277.25 345.4 277.8C346.49 278.35 353.61 271.81 354.8 272.4C355.99 272.99 356.21 283.11 357.3 283.7C358.39 284.29 364.67 278.1 365.7 278.3C366.73 278.5 366.47 285.8 367.6 285.7C368.73 285.6 375.81 277.25 377 277.3C378.19 277.35 378.37 285.94 379.5 286.2C380.63 286.46 387.26 279.93 388.3 279.9C389.34 279.87 388.86 286.19 389.9 285.9C390.94 285.61 397.52 276.92 398.7 277C399.88 277.08 400.48 286.36 401.7 286.7C402.92 287.04 409.83 279.84 410.9 280.4C411.97 280.96 411.36 291.71 412.4 292.3C413.44 292.89 420.21 285.81 421.3 286.3C422.39 286.79 422.26 296.65 423.3 297.2C424.34 297.75 430.66 291.5 431.7 291.8C432.74 292.1 432.56 299.71 433.7 300.2C434.84 300.69 441.91 296.4 443.1 296.7C444.29 297 444.41 303.35 445.6 303.2C446.79 303.05 453.82 295.06 455 295.2C456.18 295.34 456.18 304.42 457.4 304.6C458.62 304.78 466.04 296.76 467.2 297C468.36 297.24 468.01 306.55 469 307C469.99 307.45 476.02 301.15 477.1 301.5C478.18 301.85 478.72 310.32 479.8 310.5C480.88 310.68 486.82 302.75 487.9 303.3C488.98 303.85 489.44 315.37 490.6 316C491.76 316.63 498.36 309.4 499.5 309.6C500.64 309.8 500.9 317.76 502 318C503.1 318.24 509.4 311.6 510.5 312C511.6 312.4 511.92 321.79 513 322C514.08 322.21 520.2 313.53 521.3 314.1C522.4 314.67 522.92 327.06 524 327.7C525.08 328.34 530.93 319.87 532.1 320.5C533.27 321.13 534.53 333.1 535.7 334C536.87 334.9 542.72 328.51 543.8 329.5C544.88 330.49 545.33 343 546.5 343.9C547.67 344.8 554.33 338.05 555.5 338.5C556.67 338.95 557.12 348.04 558.2 348.4C559.28 348.76 565.22 342.34 566.3 342.1C567.38 341.86 568.73 345.61 569 346" stroke="#5d6d8e" stroke-width="2.0"/>
</g>
<rect x="333.5" y="253.5" width="234" height="184.8" fill="none" stroke="#bcc3d3" stroke-width="1"/>
<line x1="339.6" y1="438.8" x2="339.6" y2="443.3" stroke="#c3cad8" stroke-width="1"/>
<line x1="395.19" y1="438.8" x2="395.19" y2="443.3" stroke="#c3cad8" stroke-width="1"/>
<line x1="450.78" y1="438.8" x2="450.78" y2="443.3" stroke="#c3cad8" stroke-width="1"/>
<line x1="506.37" y1="438.8" x2="506.37" y2="443.3" stroke="#c3cad8" stroke-width="1"/>
<line x1="561.96" y1="438.8" x2="561.96" y2="443.3" stroke="#c3cad8" stroke-width="1"/>
<path d="M336.6 268.9L341.6 273.9M336.6 273.9L341.6 268.9" stroke="#ca404a" stroke-width="1.6" fill="none"/>
<path d="M558.8 355.1L563.8 360.1M558.8 360.1L563.8 355.1" stroke="#ca404a" stroke-width="1.6" fill="none"/>
<line x1="47" y1="33.4" x2="51" y2="33.4" stroke="#c3cad8" stroke-width="1"/>
<line x1="47" y1="64.16" x2="51" y2="64.16" stroke="#c3cad8" stroke-width="1"/>
<line x1="47" y1="94.92" x2="51" y2="94.92" stroke="#c3cad8" stroke-width="1"/>
<line x1="47" y1="125.68" x2="51" y2="125.68" stroke="#c3cad8" stroke-width="1"/>
<line x1="47" y1="156.44" x2="51" y2="156.44" stroke="#c3cad8" stroke-width="1"/>
<line x1="47" y1="187.2" x2="51" y2="187.2" stroke="#c3cad8" stroke-width="1"/>
<line x1="329" y1="36.4" x2="333" y2="36.4" stroke="#c3cad8" stroke-width="1"/>
<line x1="329" y1="73.4" x2="333" y2="73.4" stroke="#c3cad8" stroke-width="1"/>
<line x1="329" y1="110.4" x2="333" y2="110.4" stroke="#c3cad8" stroke-width="1"/>
<line x1="329" y1="147.4" x2="333" y2="147.4" stroke="#c3cad8" stroke-width="1"/>
<line x1="329" y1="184.4" x2="333" y2="184.4" stroke="#c3cad8" stroke-width="1"/>
<line x1="47" y1="271.4" x2="51" y2="271.4" stroke="#c3cad8" stroke-width="1"/>
<line x1="47" y1="308.4" x2="51" y2="308.4" stroke="#c3cad8" stroke-width="1"/>
<line x1="47" y1="345.4" x2="51" y2="345.4" stroke="#c3cad8" stroke-width="1"/>
<line x1="47" y1="382.4" x2="51" y2="382.4" stroke="#c3cad8" stroke-width="1"/>
<line x1="47" y1="419.4" x2="51" y2="419.4" stroke="#c3cad8" stroke-width="1"/>
<line x1="329" y1="271.4" x2="333" y2="271.4" stroke="#c3cad8" stroke-width="1"/>
<line x1="329" y1="308.45" x2="333" y2="308.45" stroke="#c3cad8" stroke-width="1"/>
<line x1="329" y1="345.5" x2="333" y2="345.5" stroke="#c3cad8" stroke-width="1"/>
<line x1="329" y1="382.55" x2="333" y2="382.55" stroke="#c3cad8" stroke-width="1"/>
<line x1="329" y1="419.6" x2="333" y2="419.6" stroke="#c3cad8" stroke-width="1"/>
<text class="t" x="51.1" y="7.6" textLength="31.61" lengthAdjust="spacingAndGlyphs">Alaska</text>
<text class="t" x="333.9" y="7.6" textLength="79.44" lengthAdjust="spacingAndGlyphs">Southern Andes</text>
<text class="t" x="51.19" y="243.7" textLength="36.73" lengthAdjust="spacingAndGlyphs">Iceland</text>
<text class="t" x="333.73" y="243.6" textLength="96.09" lengthAdjust="spacingAndGlyphs">High Mountain Asia</text>
<text class="yl" x="36.11" y="36.5" textLength="6.12" lengthAdjust="spacingAndGlyphs">0</text>
<text class="yl" x="23.99" y="67.26" textLength="18.12" lengthAdjust="spacingAndGlyphs">−1.0</text>
<text class="yl" x="21.58" y="98.02" textLength="20.6" lengthAdjust="spacingAndGlyphs">−2.0</text>
<text class="yl" x="21.51" y="128.78" textLength="20.78" lengthAdjust="spacingAndGlyphs">−3.0</text>
<text class="yl" x="21.58" y="159.54" textLength="20.69" lengthAdjust="spacingAndGlyphs">−4.0</text>
<text class="yl" x="21.75" y="190.3" textLength="20.45" lengthAdjust="spacingAndGlyphs">−5.0</text>
<text class="xl" x="44.14" y="218.7" textLength="25.9" lengthAdjust="spacingAndGlyphs">2000</text>
<text class="xl" x="100.08" y="218.7" textLength="25.34" lengthAdjust="spacingAndGlyphs">2005</text>
<text class="xl" x="156.93" y="218.7" textLength="23.02" lengthAdjust="spacingAndGlyphs">2010</text>
<text class="xl" x="212.86" y="218.7" textLength="22.07" lengthAdjust="spacingAndGlyphs">2015</text>
<text class="xl" x="267.16" y="218.7" textLength="24.75" lengthAdjust="spacingAndGlyphs">2020</text>
<text class="yl" x="316.84" y="39.5" textLength="6.18" lengthAdjust="spacingAndGlyphs">0</text>
<text class="yl" x="302.49" y="76.5" textLength="20.67" lengthAdjust="spacingAndGlyphs">−0.5</text>
<text class="yl" x="304.66" y="113.5" textLength="18.46" lengthAdjust="spacingAndGlyphs">−1.0</text>
<text class="yl" x="304.58" y="150.5" textLength="18.41" lengthAdjust="spacingAndGlyphs">−1.5</text>
<text class="yl" x="302.55" y="187.5" textLength="20.57" lengthAdjust="spacingAndGlyphs">−2.0</text>
<text class="xl" x="326.27" y="218.7" textLength="25.87" lengthAdjust="spacingAndGlyphs">2000</text>
<text class="xl" x="382.02" y="218.7" textLength="25.59" lengthAdjust="spacingAndGlyphs">2005</text>
<text class="xl" x="439.07" y="218.7" textLength="23.03" lengthAdjust="spacingAndGlyphs">2010</text>
<text class="xl" x="494.89" y="218.7" textLength="22.29" lengthAdjust="spacingAndGlyphs">2015</text>
<text class="xl" x="549.27" y="218.7" textLength="24.59" lengthAdjust="spacingAndGlyphs">2020</text>
<text class="yl" x="36.11" y="274.5" textLength="6.12" lengthAdjust="spacingAndGlyphs">0</text>
<text class="yl" x="21.56" y="311.5" textLength="20.99" lengthAdjust="spacingAndGlyphs">−0.2</text>
<text class="yl" x="21.52" y="348.5" textLength="20.92" lengthAdjust="spacingAndGlyphs">−0.4</text>
<text class="yl" x="21.62" y="385.5" textLength="20.68" lengthAdjust="spacingAndGlyphs">−0.6</text>
<text class="yl" x="21.77" y="422.5" textLength="20.52" lengthAdjust="spacingAndGlyphs">−0.8</text>
<text class="xl" x="44.14" y="455.3" textLength="25.9" lengthAdjust="spacingAndGlyphs">2000</text>
<text class="xl" x="100.08" y="455.3" textLength="25.34" lengthAdjust="spacingAndGlyphs">2005</text>
<text class="xl" x="156.93" y="455.3" textLength="23.02" lengthAdjust="spacingAndGlyphs">2010</text>
<text class="xl" x="212.86" y="455.3" textLength="22.07" lengthAdjust="spacingAndGlyphs">2015</text>
<text class="xl" x="267.16" y="455.3" textLength="24.75" lengthAdjust="spacingAndGlyphs">2020</text>
<text class="yl" x="316.84" y="274.5" textLength="6.18" lengthAdjust="spacingAndGlyphs">0</text>
<text class="yl" x="302.49" y="311.55" textLength="20.67" lengthAdjust="spacingAndGlyphs">−0.5</text>
<text class="yl" x="304.66" y="348.6" textLength="18.46" lengthAdjust="spacingAndGlyphs">−1.0</text>
<text class="yl" x="304.58" y="385.65" textLength="18.41" lengthAdjust="spacingAndGlyphs">−1.5</text>
<text class="yl" x="302.55" y="422.7" textLength="20.57" lengthAdjust="spacingAndGlyphs">−2.0</text>
<text class="xl" x="326.27" y="455.3" textLength="25.87" lengthAdjust="spacingAndGlyphs">2000</text>
<text class="xl" x="382.02" y="455.3" textLength="25.59" lengthAdjust="spacingAndGlyphs">2005</text>
<text class="xl" x="439.07" y="455.3" textLength="23.03" lengthAdjust="spacingAndGlyphs">2010</text>
<text class="xl" x="494.89" y="455.3" textLength="22.29" lengthAdjust="spacingAndGlyphs">2015</text>
<text class="xl" x="549.27" y="455.3" textLength="24.59" lengthAdjust="spacingAndGlyphs">2020</text>
<text class="lg" x="603.26" y="215.3" textLength="33.88" lengthAdjust="spacingAndGlyphs">GRACE</text>
<text class="lg" x="603.26" y="227.35" textLength="33.88" lengthAdjust="spacingAndGlyphs">GRACE</text>
<text class="lg" x="603.17" y="239.4" textLength="38.16" lengthAdjust="spacingAndGlyphs">CryoSat</text>
<text class="lg" x="603.04" y="251.45" textLength="82.01" lengthAdjust="spacingAndGlyphs">DEM differencing</text>
<text class="lg" x="602.9" y="263.5" textLength="25.08" lengthAdjust="spacingAndGlyphs">ERA5</text>
<text class="lg" x="603.21" y="275.55" textLength="30.98" lengthAdjust="spacingAndGlyphs">CMIP6</text>
<text class="ax" x="0" y="0" textLength="110.64" lengthAdjust="spacingAndGlyphs" transform="translate(7.9 169.44) rotate(-90)">Mass change (mm SLE)</text>
<text class="ax" x="0" y="0" textLength="111.68" lengthAdjust="spacingAndGlyphs" transform="translate(7.9 401.32) rotate(-90)">Mass change (mm SLE)</text>
<line x1="590.9" y1="211.9" x2="597.3" y2="211.9" stroke="#14509f" stroke-width="1.7" stroke-linecap="round"/>
<line x1="590.9" y1="224.05" x2="597.3" y2="224.05" stroke="#5bbd57" stroke-width="1.7" stroke-linecap="round"/>
<line x1="590.9" y1="236.2" x2="597.3" y2="236.2" stroke="#f07b22" stroke-width="1.7" stroke-linecap="round"/>
<path d="M591.7 246.7L596.7 251.7M591.7 251.7L596.7 246.7" stroke="#ca404a" stroke-width="1.6" fill="none"/>
<line x1="590.9" y1="260.5" x2="597.3" y2="260.5" stroke="#5d6d8e" stroke-width="1.7" stroke-linecap="round"/>
<line x1="590.9" y1="272.65" x2="597.3" y2="272.65" stroke="#c6ccda" stroke-width="1.7" stroke-linecap="round"/>
</svg></body></html>
